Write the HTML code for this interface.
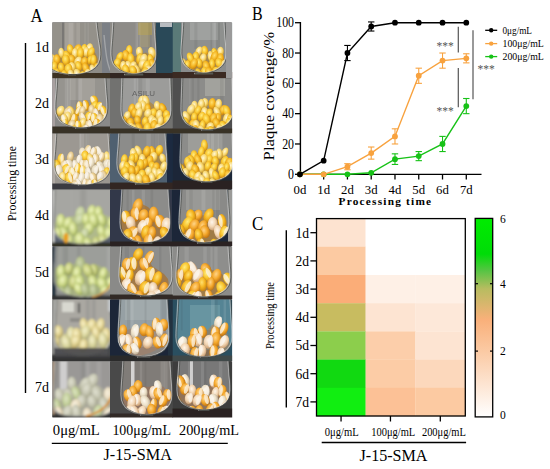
<!DOCTYPE html>
<html><head><meta charset="utf-8"><style>html,body{margin:0;padding:0;background:#fff;}svg{display:block;}</style></head>
<body><svg width="550" height="469" viewBox="0 0 550 469">
<rect width="550" height="469" fill="#fff"/>
<defs><filter id="bl" x="-5%" y="-5%" width="110%" height="110%"><feGaussianBlur stdDeviation="0.6"/></filter><filter id="bl2" x="-5%" y="-5%" width="110%" height="110%"><feGaussianBlur stdDeviation="0.8"/></filter><clipPath id="c00"><rect x="52.4" y="22.4" width="58.20" height="55.80"/></clipPath><clipPath id="c01"><rect x="110.0" y="22.4" width="63.10" height="55.80"/></clipPath><clipPath id="c02"><rect x="172.5" y="22.4" width="59.70" height="55.80"/></clipPath><clipPath id="c10"><rect x="52.4" y="78.2" width="58.20" height="55.30"/></clipPath><clipPath id="c11"><rect x="110.0" y="78.2" width="63.10" height="55.30"/></clipPath><clipPath id="c12"><rect x="172.5" y="78.2" width="59.70" height="55.30"/></clipPath><clipPath id="c20"><rect x="52.4" y="133.4" width="58.20" height="55.80"/></clipPath><clipPath id="c21"><rect x="110.0" y="133.4" width="63.10" height="55.80"/></clipPath><clipPath id="c22"><rect x="172.5" y="133.4" width="59.70" height="55.80"/></clipPath><clipPath id="c30"><rect x="52.4" y="189.6" width="58.20" height="56.40"/></clipPath><clipPath id="c31"><rect x="110.0" y="189.6" width="63.10" height="56.40"/></clipPath><clipPath id="c32"><rect x="172.5" y="189.6" width="59.70" height="56.40"/></clipPath><clipPath id="c40"><rect x="52.4" y="246.6" width="58.20" height="52.60"/></clipPath><clipPath id="c41"><rect x="110.0" y="246.6" width="63.10" height="52.60"/></clipPath><clipPath id="c42"><rect x="172.5" y="246.6" width="59.70" height="52.60"/></clipPath><clipPath id="c50"><rect x="52.4" y="299.4" width="58.20" height="61.60"/></clipPath><clipPath id="c51"><rect x="110.0" y="299.4" width="63.10" height="61.60"/></clipPath><clipPath id="c52"><rect x="172.5" y="299.4" width="59.70" height="61.60"/></clipPath><clipPath id="c60"><rect x="52.4" y="361.2" width="58.20" height="56.30"/></clipPath><clipPath id="c61"><rect x="110.0" y="361.2" width="63.10" height="56.30"/></clipPath><clipPath id="c62"><rect x="172.5" y="361.2" width="59.70" height="56.30"/></clipPath></defs>
<defs><radialGradient id="ky" cx="0.42" cy="0.38" r="0.62"><stop offset="0" stop-color="#ffec80"/><stop offset="0.55" stop-color="#f8c42c"/><stop offset="1" stop-color="#cc8a10"/></radialGradient><radialGradient id="ky2" cx="0.42" cy="0.38" r="0.62"><stop offset="0" stop-color="#ffe070"/><stop offset="0.55" stop-color="#f4b420"/><stop offset="1" stop-color="#c48010"/></radialGradient><radialGradient id="ko" cx="0.42" cy="0.38" r="0.62"><stop offset="0" stop-color="#ffd488"/><stop offset="0.55" stop-color="#f4a82c"/><stop offset="1" stop-color="#c07414"/></radialGradient><radialGradient id="kw" cx="0.42" cy="0.38" r="0.62"><stop offset="0" stop-color="#fffaf0"/><stop offset="0.55" stop-color="#ece0c8"/><stop offset="1" stop-color="#b8a890"/></radialGradient><radialGradient id="kyl" cx="0.42" cy="0.38" r="0.62"><stop offset="0" stop-color="#fff8d8"/><stop offset="0.55" stop-color="#f8d870"/><stop offset="1" stop-color="#c89828"/></radialGradient><radialGradient id="kpg" cx="0.42" cy="0.38" r="0.62"><stop offset="0" stop-color="#dce4c0"/><stop offset="0.55" stop-color="#c4d09c"/><stop offset="1" stop-color="#a0ac78"/></radialGradient><radialGradient id="kpg2" cx="0.42" cy="0.38" r="0.62"><stop offset="0" stop-color="#d0d8b0"/><stop offset="0.55" stop-color="#b4c08c"/><stop offset="1" stop-color="#94a070"/></radialGradient><radialGradient id="kpy" cx="0.42" cy="0.38" r="0.62"><stop offset="0" stop-color="#f4f0cc"/><stop offset="0.55" stop-color="#dcd8a0"/><stop offset="1" stop-color="#b0ac78"/></radialGradient><radialGradient id="kpc" cx="0.42" cy="0.38" r="0.62"><stop offset="0" stop-color="#faf2e0"/><stop offset="0.55" stop-color="#e8dcc0"/><stop offset="1" stop-color="#c0b090"/></radialGradient><radialGradient id="kgr" cx="0.42" cy="0.38" r="0.62"><stop offset="0" stop-color="#e0e0d0"/><stop offset="0.55" stop-color="#c8c8b4"/><stop offset="1" stop-color="#a8a890"/></radialGradient><radialGradient id="kgy" cx="0.42" cy="0.38" r="0.62"><stop offset="0" stop-color="#e8ecb0"/><stop offset="0.55" stop-color="#c4cc7c"/><stop offset="1" stop-color="#909a54"/></radialGradient><radialGradient id="kfy" cx="0.42" cy="0.38" r="0.62"><stop offset="0" stop-color="#faf2c8"/><stop offset="0.55" stop-color="#e2d494"/><stop offset="1" stop-color="#b4a464"/></radialGradient><radialGradient id="kyg2" cx="0.42" cy="0.38" r="0.62"><stop offset="0" stop-color="#f0f6c0"/><stop offset="0.55" stop-color="#ccd888"/><stop offset="1" stop-color="#98a858"/></radialGradient><radialGradient id="kpe" cx="0.42" cy="0.38" r="0.62"><stop offset="0" stop-color="#fff6ea"/><stop offset="0.55" stop-color="#f2d6b4"/><stop offset="1" stop-color="#c89c70"/></radialGradient><radialGradient id="kc" cx="0.42" cy="0.38" r="0.62"><stop offset="0" stop-color="#fff4d8"/><stop offset="0.55" stop-color="#e8cc90"/><stop offset="1" stop-color="#b89858"/></radialGradient><radialGradient id="kg" cx="0.42" cy="0.38" r="0.62"><stop offset="0" stop-color="#e8f0c0"/><stop offset="0.55" stop-color="#b8c880"/><stop offset="1" stop-color="#7a8850"/></radialGradient><radialGradient id="klg" cx="0.42" cy="0.38" r="0.62"><stop offset="0" stop-color="#f0f4d8"/><stop offset="0.55" stop-color="#c8d4a0"/><stop offset="1" stop-color="#8a9870"/></radialGradient><radialGradient id="kyg" cx="0.42" cy="0.38" r="0.62"><stop offset="0" stop-color="#f4f0c0"/><stop offset="0.55" stop-color="#d8d090"/><stop offset="1" stop-color="#989060"/></radialGradient></defs>
<rect x="52.4" y="22.4" width="179.2" height="394.5" fill="#555"/>
<g clip-path="url(#c00)"><g filter="url(#bl)">
<rect x="52.4" y="22.4" width="58.6" height="56.2" fill="#7c8086" opacity="1"/>
<rect x="52.0" y="22.0" width="50.0" height="56.0" fill="#8e8c86" opacity="1"/>
<path d="M50.4,73.0 L112.0,73.0 L112.0,79.6 L50.4,79.6 Z" fill="#3e3222"/>
<path d="M48.0,20.4 C45.2,48.5 44.0,42.5 44.0,54.5 Q44.0,74.5 76.0,74.5 L68.0,74.5 Q100.0,74.5 100.0,54.5 C100.0,42.5 98.8,48.5 96.0,20.4 Z" fill="#94918a"/>
<clipPath id="fl00"><path d="M48.0,20.4 C45.2,48.5 44.0,42.5 44.0,54.5 Q44.0,74.5 76.0,74.5 L68.0,74.5 Q100.0,74.5 100.0,54.5 C100.0,42.5 98.8,48.5 96.0,20.4 Z"/></clipPath>
<g clip-path="url(#fl00)">
<rect x="64.0" y="22.0" width="16.0" height="40.0" fill="#a8a49c" opacity="0.8"/>
<rect x="62.0" y="22.0" width="2.5" height="35.0" fill="#5f605e" opacity="0.5"/>
<rect x="68.6" y="22.4" width="4.3" height="42.1" fill="#ffffff" opacity="0.1"/>
<rect x="84.4" y="22.4" width="4.3" height="42.6" fill="#ffffff" opacity="0.1"/>
<rect x="74.4" y="22.4" width="1.9" height="30.0" fill="#202020" opacity="0.08"/>
<rect x="85.7" y="22.4" width="1.9" height="40.9" fill="#202020" opacity="0.08"/>
<polygon points="52.0,62.0 56.0,61.0 62.0,56.0 68.0,51.0 75.0,49.0 82.0,53.0 88.0,52.0 92.0,49.0 96.0,54.0 100.0,64.0 100.0,84.0 44.0,84.0" fill="#b88018" opacity="0.55" stroke="none" stroke-width="0"/>
<ellipse cx="89.1" cy="49.0" rx="3.8" ry="5.8" transform="rotate(19 89.1 49.0)" fill="url(#kyl)"/>
<ellipse cx="83.8" cy="49.1" rx="3.3" ry="5.2" transform="rotate(16 83.8 49.1)" fill="url(#ky)"/>
<ellipse cx="77.5" cy="49.2" rx="3.7" ry="5.3" transform="rotate(25 77.5 49.2)" fill="url(#ky2)"/>
<ellipse cx="70.4" cy="49.3" rx="3.4" ry="5.2" transform="rotate(-16 70.4 49.3)" fill="url(#ky)"/>
<ellipse cx="86.3" cy="52.2" rx="3.5" ry="5.1" transform="rotate(1 86.3 52.2)" fill="url(#kyl)"/>
<ellipse cx="90.8" cy="52.6" rx="3.6" ry="5.7" transform="rotate(22 90.8 52.6)" fill="url(#ky)"/>
<ellipse cx="61.4" cy="53.0" rx="3.1" ry="5.3" transform="rotate(-5 61.4 53.0)" fill="url(#kyl)"/>
<ellipse cx="74.9" cy="53.4" rx="3.2" ry="5.5" transform="rotate(2 74.9 53.4)" fill="url(#kyl)"/>
<ellipse cx="80.4" cy="53.4" rx="3.6" ry="5.9" transform="rotate(3 80.4 53.4)" fill="url(#ky)"/>
<ellipse cx="67.4" cy="55.9" rx="3.3" ry="5.7" transform="rotate(-28 67.4 55.9)" fill="url(#ky)"/>
<ellipse cx="71.7" cy="59.4" rx="3.9" ry="4.9" transform="rotate(-11 71.7 59.4)" fill="url(#ky2)"/>
<ellipse cx="53.6" cy="59.5" rx="3.3" ry="5.8" transform="rotate(-27 53.6 59.5)" fill="url(#kyl)"/>
<ellipse cx="56.9" cy="59.6" rx="3.7" ry="5.4" transform="rotate(-4 56.9 59.6)" fill="url(#ky2)"/>
<ellipse cx="90.2" cy="59.9" rx="3.2" ry="4.9" transform="rotate(26 90.2 59.9)" fill="url(#ky)"/>
<ellipse cx="65.9" cy="60.0" rx="3.9" ry="5.6" transform="rotate(-5 65.9 60.0)" fill="url(#ky)"/>
<ellipse cx="93.5" cy="60.3" rx="3.2" ry="5.7" transform="rotate(-0 93.5 60.3)" fill="url(#ky)"/>
<ellipse cx="77.9" cy="61.4" rx="3.7" ry="5.2" transform="rotate(26 77.9 61.4)" fill="url(#kyl)"/>
<ellipse cx="84.2" cy="61.7" rx="3.6" ry="4.8" transform="rotate(17 84.2 61.7)" fill="url(#ky2)"/>
<ellipse cx="78.8" cy="65.9" rx="3.3" ry="5.1" transform="rotate(-22 78.8 65.9)" fill="url(#ky)"/>
<ellipse cx="72.3" cy="66.7" rx="3.7" ry="4.8" transform="rotate(-16 72.3 66.7)" fill="url(#kyl)"/>
<ellipse cx="53.8" cy="67.1" rx="3.6" ry="5.6" transform="rotate(12 53.8 67.1)" fill="url(#ky)"/>
<ellipse cx="61.4" cy="67.6" rx="3.4" ry="5.2" transform="rotate(-10 61.4 67.6)" fill="url(#ky)"/>
<ellipse cx="86.0" cy="68.1" rx="3.5" ry="5.8" transform="rotate(-20 86.0 68.1)" fill="url(#ky2)"/>
<ellipse cx="97.8" cy="68.4" rx="3.5" ry="5.5" transform="rotate(-21 97.8 68.4)" fill="url(#ky)"/>
<ellipse cx="68.4" cy="69.2" rx="4.0" ry="5.8" transform="rotate(3 68.4 69.2)" fill="url(#ky)"/>
<ellipse cx="48.3" cy="69.4" rx="3.2" ry="6.0" transform="rotate(10 48.3 69.4)" fill="url(#ky2)"/>
<ellipse cx="92.6" cy="69.5" rx="3.1" ry="5.1" transform="rotate(-12 92.6 69.5)" fill="url(#kyl)"/>
<ellipse cx="56.4" cy="73.6" rx="3.4" ry="5.3" transform="rotate(6 56.4 73.6)" fill="url(#ky)"/>
<ellipse cx="87.9" cy="73.7" rx="3.5" ry="5.0" transform="rotate(-1 87.9 73.7)" fill="url(#kyl)"/>
<ellipse cx="77.5" cy="74.2" rx="3.7" ry="5.7" transform="rotate(-18 77.5 74.2)" fill="url(#kyl)"/>
<ellipse cx="71.1" cy="74.4" rx="3.2" ry="5.1" transform="rotate(-15 71.1 74.4)" fill="url(#kyl)"/>
<ellipse cx="64.6" cy="75.9" rx="3.4" ry="5.9" transform="rotate(-8 64.6 75.9)" fill="url(#ky)"/>
<ellipse cx="82.6" cy="76.4" rx="3.5" ry="5.4" transform="rotate(0 82.6 76.4)" fill="url(#ky)"/>
<ellipse cx="53.0" cy="76.4" rx="3.3" ry="5.6" transform="rotate(11 53.0 76.4)" fill="url(#kyl)"/>
<ellipse cx="94.2" cy="76.6" rx="3.8" ry="4.9" transform="rotate(-12 94.2 76.6)" fill="url(#ky)"/>
</g>
<path d="M48.0,20.4 C45.2,48.5 44.0,42.5 44.0,54.5 Q44.0,74.5 76.0,74.5 L68.0,74.5 Q100.0,74.5 100.0,54.5 C100.0,42.5 98.8,48.5 96.0,20.4 Z" fill="none" stroke="#e4e4e4" stroke-width="1.3" opacity="0.55"/>
<path d="M48.0,20.4 C45.2,48.5 44.0,42.5 44.0,54.5 Q44.0,74.5 76.0,74.5 L68.0,74.5 Q100.0,74.5 100.0,54.5 C100.0,42.5 98.8,48.5 96.0,20.4 Z" fill="none" stroke="#3a3e3a" stroke-width="1.0" opacity="0.6" transform="translate(0.9,0.3)"/>
<path d="M104,35 C106,55 107,65 112,74" fill="none" stroke="#c8c8c8" stroke-width="1.4" opacity="0.5"/>
</g></g>
<g clip-path="url(#c01)"><g filter="url(#bl)">
<rect x="110.0" y="22.4" width="63.5" height="56.2" fill="#2a4858" opacity="1"/>
<rect x="110.0" y="22.0" width="46.0" height="56.0" fill="#8c8a86" opacity="1"/>
<rect x="160.0" y="22.0" width="12.0" height="5.0" fill="#b8bcc0" opacity="1"/>
<path d="M108.0,73.0 L174.5,73.0 L174.5,79.6 L108.0,79.6 Z" fill="#302820"/>
<path d="M113.0,20.4 C111.6,48.5 111.0,42.5 111.0,54.5 Q111.0,74.5 143.0,74.5 L124.0,74.5 Q156.0,74.5 156.0,54.5 C156.0,42.5 155.4,48.5 154.0,20.4 Z" fill="#8e8c88"/>
<clipPath id="fl01"><path d="M113.0,20.4 C111.6,48.5 111.0,42.5 111.0,54.5 Q111.0,74.5 143.0,74.5 L124.0,74.5 Q156.0,74.5 156.0,54.5 C156.0,42.5 155.4,48.5 154.0,20.4 Z"/></clipPath>
<g clip-path="url(#fl01)">
<rect x="138.0" y="22.0" width="14.0" height="13.0" fill="#c0a850" opacity="0.6"/>
<rect x="140.0" y="35.0" width="10.0" height="12.0" fill="#b0a070" opacity="0.45"/>
<rect x="135.5" y="22.4" width="2.6" height="39.6" fill="#ffffff" opacity="0.1"/>
<rect x="148.3" y="22.4" width="3.3" height="41.6" fill="#202020" opacity="0.08"/>
<rect x="137.0" y="22.4" width="3.4" height="29.2" fill="#ffffff" opacity="0.1"/>
<rect x="137.5" y="22.4" width="1.8" height="35.1" fill="#202020" opacity="0.08"/>
<polygon points="111.0,64.5 115.0,60.5 122.0,55.5 128.0,52.5 133.0,56.5 140.0,54.5 146.0,52.5 152.0,56.5 156.0,62.5 158.0,84.0 108.0,84.0" fill="#b88018" opacity="0.55" stroke="none" stroke-width="0"/>
<ellipse cx="129.2" cy="50.7" rx="3.3" ry="5.7" transform="rotate(2 129.2 50.7)" fill="url(#ky)"/>
<ellipse cx="139.4" cy="52.1" rx="3.5" ry="5.4" transform="rotate(-2 139.4 52.1)" fill="url(#kyl)"/>
<ellipse cx="152.1" cy="52.7" rx="3.8" ry="5.9" transform="rotate(-15 152.1 52.7)" fill="url(#kyl)"/>
<ellipse cx="126.0" cy="55.8" rx="3.9" ry="5.9" transform="rotate(-9 126.0 55.8)" fill="url(#ky2)"/>
<ellipse cx="119.7" cy="57.0" rx="3.3" ry="5.3" transform="rotate(24 119.7 57.0)" fill="url(#ky)"/>
<ellipse cx="139.5" cy="58.7" rx="3.2" ry="5.7" transform="rotate(14 139.5 58.7)" fill="url(#ky)"/>
<ellipse cx="130.9" cy="59.1" rx="3.7" ry="6.0" transform="rotate(-5 130.9 59.1)" fill="url(#ky)"/>
<ellipse cx="150.5" cy="59.4" rx="3.2" ry="5.5" transform="rotate(-9 150.5 59.4)" fill="url(#ky)"/>
<ellipse cx="143.3" cy="59.5" rx="3.9" ry="5.9" transform="rotate(21 143.3 59.5)" fill="url(#kyl)"/>
<ellipse cx="117.0" cy="63.6" rx="3.7" ry="5.7" transform="rotate(17 117.0 63.6)" fill="url(#ky)"/>
<ellipse cx="152.5" cy="64.1" rx="3.5" ry="5.5" transform="rotate(-22 152.5 64.1)" fill="url(#ky2)"/>
<ellipse cx="142.4" cy="64.4" rx="3.9" ry="5.1" transform="rotate(20 142.4 64.4)" fill="url(#kyl)"/>
<ellipse cx="127.9" cy="65.7" rx="3.8" ry="4.9" transform="rotate(1 127.9 65.7)" fill="url(#kyl)"/>
<ellipse cx="123.1" cy="65.8" rx="3.1" ry="4.9" transform="rotate(6 123.1 65.8)" fill="url(#kyl)"/>
<ellipse cx="146.5" cy="65.9" rx="3.7" ry="5.5" transform="rotate(22 146.5 65.9)" fill="url(#ky)"/>
<ellipse cx="133.0" cy="66.2" rx="3.6" ry="5.1" transform="rotate(20 133.0 66.2)" fill="url(#kyl)"/>
<ellipse cx="136.7" cy="69.6" rx="3.3" ry="5.3" transform="rotate(-26 136.7 69.6)" fill="url(#kyl)"/>
<ellipse cx="126.0" cy="69.6" rx="3.6" ry="5.3" transform="rotate(-18 126.0 69.6)" fill="url(#ky)"/>
<ellipse cx="149.4" cy="69.7" rx="3.6" ry="4.9" transform="rotate(-27 149.4 69.7)" fill="url(#kyl)"/>
<ellipse cx="111.7" cy="70.2" rx="3.6" ry="5.0" transform="rotate(-6 111.7 70.2)" fill="url(#ky2)"/>
<ellipse cx="117.6" cy="70.2" rx="3.6" ry="5.9" transform="rotate(-13 117.6 70.2)" fill="url(#ky)"/>
<ellipse cx="133.2" cy="70.2" rx="3.6" ry="4.9" transform="rotate(-24 133.2 70.2)" fill="url(#ky)"/>
<ellipse cx="154.7" cy="72.4" rx="3.9" ry="5.2" transform="rotate(22 154.7 72.4)" fill="url(#kyl)"/>
<ellipse cx="145.0" cy="73.0" rx="4.0" ry="5.7" transform="rotate(17 145.0 73.0)" fill="url(#ky)"/>
<ellipse cx="122.9" cy="76.3" rx="3.9" ry="5.9" transform="rotate(-2 122.9 76.3)" fill="url(#ky)"/>
<ellipse cx="145.6" cy="76.8" rx="3.8" ry="5.0" transform="rotate(27 145.6 76.8)" fill="url(#kyl)"/>
<ellipse cx="129.5" cy="77.9" rx="3.7" ry="5.6" transform="rotate(6 129.5 77.9)" fill="url(#ky)"/>
<ellipse cx="109.3" cy="78.7" rx="3.3" ry="5.8" transform="rotate(10 109.3 78.7)" fill="url(#ky)"/>
<ellipse cx="141.7" cy="78.8" rx="3.9" ry="4.8" transform="rotate(23 141.7 78.8)" fill="url(#ky2)"/>
<ellipse cx="133.4" cy="79.7" rx="3.3" ry="5.1" transform="rotate(25 133.4 79.7)" fill="url(#ky)"/>
<ellipse cx="114.2" cy="79.8" rx="3.7" ry="5.7" transform="rotate(-16 114.2 79.8)" fill="url(#ky)"/>
<ellipse cx="152.2" cy="80.0" rx="3.5" ry="5.1" transform="rotate(-2 152.2 80.0)" fill="url(#ky)"/>
</g>
<path d="M113.0,20.4 C111.6,48.5 111.0,42.5 111.0,54.5 Q111.0,74.5 143.0,74.5 L124.0,74.5 Q156.0,74.5 156.0,54.5 C156.0,42.5 155.4,48.5 154.0,20.4 Z" fill="none" stroke="#e4e4e4" stroke-width="1.3" opacity="0.55"/>
<path d="M113.0,20.4 C111.6,48.5 111.0,42.5 111.0,54.5 Q111.0,74.5 143.0,74.5 L124.0,74.5 Q156.0,74.5 156.0,54.5 C156.0,42.5 155.4,48.5 154.0,20.4 Z" fill="none" stroke="#3a3e3a" stroke-width="1.0" opacity="0.6" transform="translate(0.9,0.3)"/>
</g></g>
<g clip-path="url(#c02)"><g filter="url(#bl)">
<rect x="172.5" y="22.4" width="60.1" height="56.2" fill="#5a7a78" opacity="1"/>
<rect x="181.0" y="22.0" width="51.0" height="56.0" fill="#8a8c8c" opacity="1"/>
<path d="M170.5,72.0 L233.6,72.0 L233.6,79.6 L170.5,79.6 Z" fill="#3a2c20"/>
<path d="M183.0,20.4 C181.6,48.0 181.0,41.5 181.0,53.5 Q181.0,73.5 213.0,73.5 L194.0,73.5 Q226.0,73.5 226.0,53.5 C226.0,41.5 225.4,48.0 224.0,20.4 Z" fill="#8e908e"/>
<clipPath id="fl02"><path d="M183.0,20.4 C181.6,48.0 181.0,41.5 181.0,53.5 Q181.0,73.5 213.0,73.5 L194.0,73.5 Q226.0,73.5 226.0,53.5 C226.0,41.5 225.4,48.0 224.0,20.4 Z"/></clipPath>
<g clip-path="url(#fl02)">
<rect x="190.0" y="22.0" width="28.0" height="18.0" fill="#a6a8a6" opacity="0.7"/>
<rect x="210.5" y="22.4" width="3.0" height="37.1" fill="#202020" opacity="0.08"/>
<rect x="215.8" y="22.4" width="4.2" height="25.6" fill="#202020" opacity="0.08"/>
<rect x="194.4" y="22.4" width="3.0" height="26.6" fill="#202020" opacity="0.08"/>
<rect x="212.1" y="22.4" width="4.1" height="25.9" fill="#ffffff" opacity="0.1"/>
<polygon points="182.0,63.0 186.0,60.0 192.0,57.0 198.0,53.0 205.0,54.0 210.0,58.0 216.0,56.0 221.0,54.0 225.0,61.0 228.0,84.0 180.0,84.0" fill="#b88018" opacity="0.55" stroke="none" stroke-width="0"/>
<ellipse cx="204.8" cy="50.8" rx="3.5" ry="5.0" transform="rotate(-11 204.8 50.8)" fill="url(#ky)"/>
<ellipse cx="198.7" cy="51.6" rx="3.3" ry="5.4" transform="rotate(23 198.7 51.6)" fill="url(#kyl)"/>
<ellipse cx="220.5" cy="51.8" rx="3.4" ry="5.0" transform="rotate(4 220.5 51.8)" fill="url(#kyl)"/>
<ellipse cx="214.6" cy="52.8" rx="3.1" ry="5.0" transform="rotate(-15 214.6 52.8)" fill="url(#ky)"/>
<ellipse cx="210.8" cy="56.5" rx="3.1" ry="5.6" transform="rotate(-9 210.8 56.5)" fill="url(#kyl)"/>
<ellipse cx="214.5" cy="56.9" rx="3.8" ry="6.0" transform="rotate(21 214.5 56.9)" fill="url(#ky2)"/>
<ellipse cx="195.6" cy="57.4" rx="3.6" ry="5.6" transform="rotate(8 195.6 57.4)" fill="url(#ky)"/>
<ellipse cx="190.7" cy="58.0" rx="3.4" ry="5.8" transform="rotate(-26 190.7 58.0)" fill="url(#ky)"/>
<ellipse cx="203.1" cy="58.1" rx="3.5" ry="4.8" transform="rotate(15 203.1 58.1)" fill="url(#kyl)"/>
<ellipse cx="220.4" cy="58.9" rx="3.6" ry="5.7" transform="rotate(5 220.4 58.9)" fill="url(#ky2)"/>
<ellipse cx="219.4" cy="63.0" rx="4.0" ry="5.2" transform="rotate(-20 219.4 63.0)" fill="url(#ky)"/>
<ellipse cx="199.4" cy="63.3" rx="3.3" ry="5.1" transform="rotate(-10 199.4 63.3)" fill="url(#ky)"/>
<ellipse cx="183.1" cy="63.6" rx="3.6" ry="5.4" transform="rotate(-13 183.1 63.6)" fill="url(#kyl)"/>
<ellipse cx="193.6" cy="64.1" rx="3.8" ry="6.0" transform="rotate(24 193.6 64.1)" fill="url(#ky2)"/>
<ellipse cx="212.1" cy="64.4" rx="3.1" ry="5.8" transform="rotate(-1 212.1 64.4)" fill="url(#ky)"/>
<ellipse cx="225.6" cy="65.3" rx="3.8" ry="5.8" transform="rotate(-23 225.6 65.3)" fill="url(#kyl)"/>
<ellipse cx="187.0" cy="65.3" rx="3.2" ry="5.2" transform="rotate(13 187.0 65.3)" fill="url(#ky)"/>
<ellipse cx="206.6" cy="66.4" rx="3.8" ry="5.8" transform="rotate(-17 206.6 66.4)" fill="url(#ky2)"/>
<ellipse cx="221.9" cy="71.5" rx="3.3" ry="5.6" transform="rotate(-28 221.9 71.5)" fill="url(#ky)"/>
<ellipse cx="215.8" cy="71.6" rx="3.9" ry="5.0" transform="rotate(12 215.8 71.6)" fill="url(#ky)"/>
<ellipse cx="204.9" cy="71.8" rx="3.8" ry="4.9" transform="rotate(-15 204.9 71.8)" fill="url(#ky)"/>
<ellipse cx="209.1" cy="72.4" rx="4.0" ry="5.4" transform="rotate(-15 209.1 72.4)" fill="url(#ky2)"/>
<ellipse cx="185.8" cy="72.8" rx="3.7" ry="5.0" transform="rotate(5 185.8 72.8)" fill="url(#ky)"/>
<ellipse cx="189.6" cy="72.9" rx="3.9" ry="5.3" transform="rotate(-7 189.6 72.9)" fill="url(#ky2)"/>
<ellipse cx="198.8" cy="73.6" rx="3.2" ry="5.6" transform="rotate(-21 198.8 73.6)" fill="url(#ky)"/>
<ellipse cx="217.9" cy="77.6" rx="3.5" ry="5.4" transform="rotate(13 217.9 77.6)" fill="url(#ky)"/>
<ellipse cx="212.3" cy="77.9" rx="3.8" ry="4.9" transform="rotate(22 212.3 77.9)" fill="url(#ky)"/>
<ellipse cx="189.2" cy="78.2" rx="3.9" ry="5.7" transform="rotate(-5 189.2 78.2)" fill="url(#ky)"/>
<ellipse cx="226.3" cy="79.2" rx="4.0" ry="5.3" transform="rotate(-21 226.3 79.2)" fill="url(#ky2)"/>
<ellipse cx="208.1" cy="79.6" rx="3.9" ry="5.4" transform="rotate(14 208.1 79.6)" fill="url(#ky2)"/>
<ellipse cx="182.1" cy="79.8" rx="3.4" ry="5.7" transform="rotate(-21 182.1 79.8)" fill="url(#ky2)"/>
</g>
<path d="M183.0,20.4 C181.6,48.0 181.0,41.5 181.0,53.5 Q181.0,73.5 213.0,73.5 L194.0,73.5 Q226.0,73.5 226.0,53.5 C226.0,41.5 225.4,48.0 224.0,20.4 Z" fill="none" stroke="#e4e4e4" stroke-width="1.3" opacity="0.55"/>
<path d="M183.0,20.4 C181.6,48.0 181.0,41.5 181.0,53.5 Q181.0,73.5 213.0,73.5 L194.0,73.5 Q226.0,73.5 226.0,53.5 C226.0,41.5 225.4,48.0 224.0,20.4 Z" fill="none" stroke="#3a3e3a" stroke-width="1.0" opacity="0.6" transform="translate(0.9,0.3)"/>
<rect x="226.0" y="22.0" width="6.0" height="56.0" fill="#9a9a9a" opacity="1"/>
</g></g>
<g clip-path="url(#c10)"><g filter="url(#bl)">
<rect x="52.4" y="78.2" width="58.6" height="55.7" fill="#8a8a88" opacity="1"/>
<rect x="52.0" y="78.0" width="3.0" height="55.0" fill="#a8a0a0" opacity="1"/>
<path d="M50.4,126.5 L112.0,126.5 L112.0,134.9 L50.4,134.9 Z" fill="#383028"/>
<path d="M57.0,76.2 C55.6,103.1 55.0,96.0 55.0,108.0 Q55.0,128.0 87.0,128.0 L75.0,128.0 Q107.0,128.0 107.0,108.0 C107.0,96.0 106.4,103.1 105.0,76.2 Z" fill="#96948f"/>
<clipPath id="fl10"><path d="M57.0,76.2 C55.6,103.1 55.0,96.0 55.0,108.0 Q55.0,128.0 87.0,128.0 L75.0,128.0 Q107.0,128.0 107.0,108.0 C107.0,96.0 106.4,103.1 105.0,76.2 Z"/></clipPath>
<g clip-path="url(#fl10)">
<rect x="70.0" y="78.0" width="25.0" height="22.0" fill="#a6a29c" opacity="0.8"/>
<rect x="64.8" y="78.2" width="3.0" height="35.8" fill="#ffffff" opacity="0.1"/>
<rect x="77.8" y="78.2" width="4.4" height="42.4" fill="#ffffff" opacity="0.1"/>
<rect x="67.0" y="78.2" width="3.8" height="37.0" fill="#ffffff" opacity="0.1"/>
<rect x="75.7" y="78.2" width="3.0" height="34.8" fill="#202020" opacity="0.08"/>
<polygon points="55.0,120.0 60.0,115.0 66.0,112.0 72.0,110.0 78.0,109.0 84.0,107.0 90.0,105.0 94.0,100.0 98.0,102.0 102.0,108.0 106.0,114.0 108.0,139.0 52.0,139.0" fill="#c0a060" opacity="0.55" stroke="none" stroke-width="0"/>
<ellipse cx="94.2" cy="100.3" rx="3.9" ry="4.9" transform="rotate(-20 94.2 100.3)" fill="url(#ky)"/>
<ellipse cx="92.8" cy="99.8" rx="1.8" ry="4.2" transform="rotate(-20 94.2 100.3)" fill="#fbf6ee" opacity="0.75"/>
<ellipse cx="86.0" cy="105.3" rx="3.4" ry="5.5" transform="rotate(-13 86.0 105.3)" fill="url(#ky2)"/>
<ellipse cx="84.8" cy="104.8" rx="1.5" ry="4.6" transform="rotate(-13 86.0 105.3)" fill="#fbf6ee" opacity="0.75"/>
<ellipse cx="94.6" cy="106.1" rx="3.7" ry="5.2" transform="rotate(16 94.6 106.1)" fill="url(#ky)"/>
<ellipse cx="98.6" cy="106.6" rx="3.2" ry="5.0" transform="rotate(24 98.6 106.6)" fill="url(#ky)"/>
<ellipse cx="99.7" cy="106.1" rx="1.4" ry="4.3" transform="rotate(24 98.6 106.6)" fill="#fbf6ee" opacity="0.75"/>
<ellipse cx="79.4" cy="106.9" rx="3.3" ry="5.7" transform="rotate(4 79.4 106.9)" fill="url(#ky)"/>
<ellipse cx="78.3" cy="106.4" rx="1.5" ry="4.8" transform="rotate(4 79.4 106.9)" fill="#fbf6ee" opacity="0.75"/>
<ellipse cx="91.5" cy="109.8" rx="3.2" ry="5.2" transform="rotate(0 91.5 109.8)" fill="url(#kc)"/>
<ellipse cx="103.7" cy="110.8" rx="3.4" ry="5.5" transform="rotate(-20 103.7 110.8)" fill="url(#ky)"/>
<ellipse cx="102.5" cy="110.3" rx="1.5" ry="4.7" transform="rotate(-20 103.7 110.8)" fill="#fbf6ee" opacity="0.75"/>
<ellipse cx="79.1" cy="110.9" rx="3.6" ry="5.6" transform="rotate(28 79.1 110.9)" fill="url(#ky)"/>
<ellipse cx="77.8" cy="110.4" rx="1.6" ry="4.7" transform="rotate(28 79.1 110.9)" fill="#fbf6ee" opacity="0.75"/>
<ellipse cx="82.1" cy="110.9" rx="3.2" ry="5.0" transform="rotate(20 82.1 110.9)" fill="url(#kc)"/>
<ellipse cx="60.3" cy="111.0" rx="3.9" ry="5.5" transform="rotate(27 60.3 111.0)" fill="url(#kyl)"/>
<ellipse cx="70.8" cy="111.3" rx="3.8" ry="5.6" transform="rotate(-26 70.8 111.3)" fill="url(#kyl)"/>
<ellipse cx="95.7" cy="113.0" rx="3.2" ry="5.0" transform="rotate(-19 95.7 113.0)" fill="url(#kc)"/>
<ellipse cx="96.8" cy="112.5" rx="1.4" ry="4.2" transform="rotate(-19 95.7 113.0)" fill="#fbf6ee" opacity="0.75"/>
<ellipse cx="67.5" cy="113.4" rx="3.9" ry="5.8" transform="rotate(6 67.5 113.4)" fill="url(#kc)"/>
<ellipse cx="68.9" cy="112.9" rx="1.8" ry="4.9" transform="rotate(6 67.5 113.4)" fill="#fbf6ee" opacity="0.75"/>
<ellipse cx="88.1" cy="116.4" rx="3.2" ry="4.8" transform="rotate(20 88.1 116.4)" fill="url(#ky)"/>
<ellipse cx="89.2" cy="115.9" rx="1.4" ry="4.1" transform="rotate(20 88.1 116.4)" fill="#fbf6ee" opacity="0.75"/>
<ellipse cx="67.3" cy="117.1" rx="3.8" ry="5.7" transform="rotate(9 67.3 117.1)" fill="url(#kyl)"/>
<ellipse cx="82.5" cy="117.5" rx="3.2" ry="5.3" transform="rotate(-26 82.5 117.5)" fill="url(#kc)"/>
<ellipse cx="83.6" cy="117.0" rx="1.4" ry="4.5" transform="rotate(-26 82.5 117.5)" fill="#fbf6ee" opacity="0.75"/>
<ellipse cx="106.2" cy="118.1" rx="3.8" ry="4.9" transform="rotate(11 106.2 118.1)" fill="url(#ky)"/>
<ellipse cx="104.9" cy="117.6" rx="1.7" ry="4.2" transform="rotate(11 106.2 118.1)" fill="#fbf6ee" opacity="0.75"/>
<ellipse cx="94.1" cy="118.3" rx="3.8" ry="5.2" transform="rotate(-0 94.1 118.3)" fill="url(#ky)"/>
<ellipse cx="92.8" cy="117.8" rx="1.7" ry="4.4" transform="rotate(-0 94.1 118.3)" fill="#fbf6ee" opacity="0.75"/>
<ellipse cx="55.5" cy="118.5" rx="3.4" ry="5.5" transform="rotate(-21 55.5 118.5)" fill="url(#kc)"/>
<ellipse cx="56.7" cy="118.0" rx="1.5" ry="4.7" transform="rotate(-21 55.5 118.5)" fill="#fbf6ee" opacity="0.75"/>
<ellipse cx="64.5" cy="119.0" rx="3.5" ry="5.2" transform="rotate(-11 64.5 119.0)" fill="url(#kyl)"/>
<ellipse cx="63.3" cy="118.5" rx="1.6" ry="4.4" transform="rotate(-11 64.5 119.0)" fill="#fbf6ee" opacity="0.75"/>
<ellipse cx="99.8" cy="119.3" rx="3.9" ry="5.5" transform="rotate(-2 99.8 119.3)" fill="url(#kc)"/>
<ellipse cx="74.0" cy="119.8" rx="3.7" ry="5.9" transform="rotate(15 74.0 119.8)" fill="url(#ky2)"/>
<ellipse cx="72.7" cy="119.2" rx="1.7" ry="5.0" transform="rotate(15 74.0 119.8)" fill="#fbf6ee" opacity="0.75"/>
<ellipse cx="82.5" cy="123.1" rx="3.3" ry="5.5" transform="rotate(18 82.5 123.1)" fill="url(#kyl)"/>
<ellipse cx="96.5" cy="123.8" rx="3.9" ry="5.2" transform="rotate(9 96.5 123.8)" fill="url(#ky2)"/>
<ellipse cx="95.2" cy="123.3" rx="1.8" ry="4.4" transform="rotate(9 96.5 123.8)" fill="#fbf6ee" opacity="0.75"/>
<ellipse cx="59.6" cy="123.9" rx="3.5" ry="5.3" transform="rotate(-19 59.6 123.9)" fill="url(#kc)"/>
<ellipse cx="106.6" cy="124.7" rx="3.3" ry="5.2" transform="rotate(2 106.6 124.7)" fill="url(#ky2)"/>
<ellipse cx="105.4" cy="124.2" rx="1.5" ry="4.4" transform="rotate(2 106.6 124.7)" fill="#fbf6ee" opacity="0.75"/>
<ellipse cx="64.1" cy="124.8" rx="3.7" ry="5.8" transform="rotate(19 64.1 124.8)" fill="url(#ky)"/>
<ellipse cx="62.8" cy="124.2" rx="1.7" ry="4.9" transform="rotate(19 64.1 124.8)" fill="#fbf6ee" opacity="0.75"/>
<ellipse cx="89.0" cy="125.0" rx="3.7" ry="5.0" transform="rotate(-11 89.0 125.0)" fill="url(#kc)"/>
<ellipse cx="90.2" cy="124.5" rx="1.6" ry="4.3" transform="rotate(-11 89.0 125.0)" fill="#fbf6ee" opacity="0.75"/>
<ellipse cx="71.6" cy="125.1" rx="3.7" ry="5.5" transform="rotate(18 71.6 125.1)" fill="url(#kc)"/>
<ellipse cx="78.0" cy="125.4" rx="3.4" ry="4.9" transform="rotate(4 78.0 125.4)" fill="url(#ky)"/>
<ellipse cx="76.8" cy="124.9" rx="1.5" ry="4.1" transform="rotate(4 78.0 125.4)" fill="#fbf6ee" opacity="0.75"/>
<ellipse cx="100.5" cy="125.9" rx="3.9" ry="5.2" transform="rotate(23 100.5 125.9)" fill="url(#ky2)"/>
<ellipse cx="99.2" cy="125.3" rx="1.7" ry="4.4" transform="rotate(23 100.5 125.9)" fill="#fbf6ee" opacity="0.75"/>
<ellipse cx="73.4" cy="130.0" rx="3.2" ry="4.9" transform="rotate(19 73.4 130.0)" fill="url(#ky)"/>
<ellipse cx="85.8" cy="130.0" rx="3.9" ry="5.5" transform="rotate(-15 85.8 130.0)" fill="url(#kc)"/>
<ellipse cx="87.1" cy="129.5" rx="1.8" ry="4.7" transform="rotate(-15 85.8 130.0)" fill="#fbf6ee" opacity="0.75"/>
<ellipse cx="94.5" cy="130.5" rx="3.5" ry="5.2" transform="rotate(-11 94.5 130.5)" fill="url(#kc)"/>
<ellipse cx="98.5" cy="130.6" rx="3.1" ry="5.1" transform="rotate(-15 98.5 130.6)" fill="url(#ky)"/>
<ellipse cx="99.5" cy="130.1" rx="1.4" ry="4.4" transform="rotate(-15 98.5 130.6)" fill="#fbf6ee" opacity="0.75"/>
<ellipse cx="56.0" cy="131.6" rx="3.8" ry="5.2" transform="rotate(7 56.0 131.6)" fill="url(#kc)"/>
<ellipse cx="57.3" cy="131.1" rx="1.7" ry="4.4" transform="rotate(7 56.0 131.6)" fill="#fbf6ee" opacity="0.75"/>
<ellipse cx="104.7" cy="131.7" rx="3.7" ry="4.9" transform="rotate(6 104.7 131.7)" fill="url(#kc)"/>
<ellipse cx="103.3" cy="131.2" rx="1.7" ry="4.1" transform="rotate(6 104.7 131.7)" fill="#fbf6ee" opacity="0.75"/>
<ellipse cx="64.3" cy="131.8" rx="3.7" ry="6.0" transform="rotate(12 64.3 131.8)" fill="url(#kc)"/>
<ellipse cx="69.0" cy="131.9" rx="3.9" ry="5.2" transform="rotate(11 69.0 131.9)" fill="url(#kyl)"/>
<ellipse cx="82.6" cy="132.3" rx="4.0" ry="4.9" transform="rotate(-8 82.6 132.3)" fill="url(#kyl)"/>
<ellipse cx="84.0" cy="131.9" rx="1.8" ry="4.2" transform="rotate(-8 82.6 132.3)" fill="#fbf6ee" opacity="0.75"/>
</g>
<path d="M57.0,76.2 C55.6,103.1 55.0,96.0 55.0,108.0 Q55.0,128.0 87.0,128.0 L75.0,128.0 Q107.0,128.0 107.0,108.0 C107.0,96.0 106.4,103.1 105.0,76.2 Z" fill="none" stroke="#e4e4e4" stroke-width="1.3" opacity="0.55"/>
<path d="M57.0,76.2 C55.6,103.1 55.0,96.0 55.0,108.0 Q55.0,128.0 87.0,128.0 L75.0,128.0 Q107.0,128.0 107.0,108.0 C107.0,96.0 106.4,103.1 105.0,76.2 Z" fill="none" stroke="#3a3e3a" stroke-width="1.0" opacity="0.6" transform="translate(0.9,0.3)"/>
</g></g>
<g clip-path="url(#c11)"><g filter="url(#bl)">
<rect x="110.0" y="78.2" width="63.5" height="55.7" fill="#727270" opacity="1"/>
<path d="M108.0,128.5 L174.5,128.5 L174.5,134.9 L108.0,134.9 Z" fill="#383028"/>
<path d="M122.0,76.2 C121.3,104.1 121.0,98.0 121.0,110.0 Q121.0,130.0 153.0,130.0 L139.0,130.0 Q171.0,130.0 171.0,110.0 C171.0,98.0 170.7,104.1 170.0,76.2 Z" fill="#9c9c9a"/>
<clipPath id="fl11"><path d="M122.0,76.2 C121.3,104.1 121.0,98.0 121.0,110.0 Q121.0,130.0 153.0,130.0 L139.0,130.0 Q171.0,130.0 171.0,110.0 C171.0,98.0 170.7,104.1 170.0,76.2 Z"/></clipPath>
<g clip-path="url(#fl11)">
<rect x="145.7" y="78.2" width="4.2" height="32.3" fill="#ffffff" opacity="0.1"/>
<rect x="136.8" y="78.2" width="1.7" height="32.0" fill="#ffffff" opacity="0.1"/>
<rect x="133.7" y="78.2" width="2.2" height="26.9" fill="#ffffff" opacity="0.1"/>
<rect x="137.9" y="78.2" width="4.3" height="38.4" fill="#202020" opacity="0.08"/>
<polygon points="122.0,120.0 127.0,113.0 134.0,108.0 138.0,105.0 144.0,104.0 150.0,102.0 154.0,105.0 158.0,107.0 164.0,109.0 168.0,114.0 172.0,121.0 172.0,139.0 120.0,139.0" fill="#b88018" opacity="0.55" stroke="none" stroke-width="0"/>
<ellipse cx="141.8" cy="100.6" rx="3.7" ry="5.2" transform="rotate(16 141.8 100.6)" fill="url(#kyl)"/>
<ellipse cx="145.8" cy="101.0" rx="3.7" ry="6.0" transform="rotate(-14 145.8 101.0)" fill="url(#kyl)"/>
<ellipse cx="157.3" cy="105.9" rx="3.3" ry="4.9" transform="rotate(-9 157.3 105.9)" fill="url(#kyl)"/>
<ellipse cx="143.1" cy="106.1" rx="3.8" ry="5.7" transform="rotate(-7 143.1 106.1)" fill="url(#kyl)"/>
<ellipse cx="138.2" cy="107.2" rx="3.7" ry="5.4" transform="rotate(19 138.2 107.2)" fill="url(#kyl)"/>
<ellipse cx="162.8" cy="108.1" rx="3.5" ry="5.3" transform="rotate(-26 162.8 108.1)" fill="url(#ky2)"/>
<ellipse cx="147.8" cy="108.4" rx="3.2" ry="4.9" transform="rotate(-6 147.8 108.4)" fill="url(#ky2)"/>
<ellipse cx="131.5" cy="109.0" rx="3.4" ry="5.6" transform="rotate(18 131.5 109.0)" fill="url(#ky2)"/>
<ellipse cx="134.4" cy="112.9" rx="3.3" ry="4.9" transform="rotate(3 134.4 112.9)" fill="url(#ky2)"/>
<ellipse cx="153.3" cy="113.1" rx="3.6" ry="4.9" transform="rotate(14 153.3 113.1)" fill="url(#ky)"/>
<ellipse cx="138.9" cy="113.6" rx="3.5" ry="5.9" transform="rotate(17 138.9 113.6)" fill="url(#kyl)"/>
<ellipse cx="148.0" cy="113.7" rx="3.9" ry="5.0" transform="rotate(13 148.0 113.7)" fill="url(#kyl)"/>
<ellipse cx="166.4" cy="114.9" rx="3.6" ry="4.8" transform="rotate(6 166.4 114.9)" fill="url(#ky)"/>
<ellipse cx="159.1" cy="115.1" rx="3.4" ry="5.4" transform="rotate(10 159.1 115.1)" fill="url(#kyl)"/>
<ellipse cx="127.1" cy="115.9" rx="3.3" ry="4.9" transform="rotate(20 127.1 115.9)" fill="url(#kyl)"/>
<ellipse cx="167.3" cy="119.7" rx="3.7" ry="5.5" transform="rotate(20 167.3 119.7)" fill="url(#ky)"/>
<ellipse cx="137.6" cy="120.3" rx="3.4" ry="4.8" transform="rotate(-9 137.6 120.3)" fill="url(#ky2)"/>
<ellipse cx="151.5" cy="120.6" rx="3.9" ry="5.5" transform="rotate(4 151.5 120.6)" fill="url(#kyl)"/>
<ellipse cx="160.2" cy="121.2" rx="3.2" ry="5.5" transform="rotate(10 160.2 121.2)" fill="url(#kyl)"/>
<ellipse cx="145.2" cy="121.7" rx="3.4" ry="5.0" transform="rotate(7 145.2 121.7)" fill="url(#ky)"/>
<ellipse cx="154.6" cy="122.1" rx="3.5" ry="4.9" transform="rotate(-8 154.6 122.1)" fill="url(#kyl)"/>
<ellipse cx="123.4" cy="122.3" rx="3.6" ry="5.8" transform="rotate(11 123.4 122.3)" fill="url(#ky2)"/>
<ellipse cx="130.4" cy="122.8" rx="3.9" ry="5.0" transform="rotate(-3 130.4 122.8)" fill="url(#ky2)"/>
<ellipse cx="153.8" cy="125.9" rx="3.8" ry="5.9" transform="rotate(10 153.8 125.9)" fill="url(#ky2)"/>
<ellipse cx="120.9" cy="126.2" rx="3.8" ry="6.0" transform="rotate(-1 120.9 126.2)" fill="url(#kyl)"/>
<ellipse cx="129.8" cy="127.5" rx="3.8" ry="5.1" transform="rotate(26 129.8 127.5)" fill="url(#kyl)"/>
<ellipse cx="165.3" cy="128.0" rx="3.4" ry="5.1" transform="rotate(-26 165.3 128.0)" fill="url(#ky2)"/>
<ellipse cx="147.4" cy="128.1" rx="3.9" ry="5.6" transform="rotate(8 147.4 128.1)" fill="url(#ky)"/>
<ellipse cx="139.0" cy="128.3" rx="3.9" ry="5.7" transform="rotate(-20 139.0 128.3)" fill="url(#ky2)"/>
<ellipse cx="158.5" cy="128.4" rx="4.0" ry="4.9" transform="rotate(-1 158.5 128.4)" fill="url(#kyl)"/>
<ellipse cx="170.4" cy="128.5" rx="3.3" ry="5.1" transform="rotate(25 170.4 128.5)" fill="url(#kyl)"/>
<ellipse cx="134.0" cy="129.6" rx="4.0" ry="5.5" transform="rotate(-13 134.0 129.6)" fill="url(#kyl)"/>
<ellipse cx="160.2" cy="132.9" rx="3.2" ry="5.5" transform="rotate(-24 160.2 132.9)" fill="url(#kyl)"/>
<ellipse cx="124.4" cy="133.4" rx="3.2" ry="5.6" transform="rotate(14 124.4 133.4)" fill="url(#ky2)"/>
<ellipse cx="167.1" cy="134.0" rx="3.4" ry="5.8" transform="rotate(-12 167.1 134.0)" fill="url(#ky)"/>
</g>
<path d="M122.0,76.2 C121.3,104.1 121.0,98.0 121.0,110.0 Q121.0,130.0 153.0,130.0 L139.0,130.0 Q171.0,130.0 171.0,110.0 C171.0,98.0 170.7,104.1 170.0,76.2 Z" fill="none" stroke="#e4e4e4" stroke-width="1.3" opacity="0.55"/>
<path d="M122.0,76.2 C121.3,104.1 121.0,98.0 121.0,110.0 Q121.0,130.0 153.0,130.0 L139.0,130.0 Q171.0,130.0 171.0,110.0 C171.0,98.0 170.7,104.1 170.0,76.2 Z" fill="none" stroke="#3a3e3a" stroke-width="1.0" opacity="0.6" transform="translate(0.9,0.3)"/>
<text x="132" y="96" font-family="Liberation Sans" font-size="8" fill="#4a4a4a" opacity="0.7">ASILU</text>
</g></g>
<g clip-path="url(#c12)"><g filter="url(#bl)">
<rect x="172.5" y="78.2" width="60.1" height="55.7" fill="#505050" opacity="1"/>
<path d="M170.5,128.5 L233.6,128.5 L233.6,134.9 L170.5,134.9 Z" fill="#383028"/>
<path d="M182.0,76.2 C181.3,104.1 181.0,98.0 181.0,110.0 Q181.0,130.0 213.0,130.0 L201.0,130.0 Q233.0,130.0 233.0,110.0 C233.0,98.0 232.7,104.1 232.0,76.2 Z" fill="#8c8c8a"/>
<clipPath id="fl12"><path d="M182.0,76.2 C181.3,104.1 181.0,98.0 181.0,110.0 Q181.0,130.0 213.0,130.0 L201.0,130.0 Q233.0,130.0 233.0,110.0 C233.0,98.0 232.7,104.1 232.0,76.2 Z"/></clipPath>
<g clip-path="url(#fl12)">
<rect x="205.0" y="78.0" width="20.0" height="18.0" fill="#b8b8b0" opacity="0.5"/>
<rect x="189.0" y="78.2" width="2.6" height="26.1" fill="#ffffff" opacity="0.1"/>
<rect x="220.1" y="78.2" width="3.4" height="32.7" fill="#202020" opacity="0.08"/>
<rect x="189.5" y="78.2" width="4.4" height="45.3" fill="#202020" opacity="0.08"/>
<rect x="197.3" y="78.2" width="2.0" height="38.1" fill="#202020" opacity="0.08"/>
<polygon points="182.0,122.0 186.0,115.0 192.0,110.0 198.0,107.0 204.0,106.0 210.0,108.0 216.0,106.0 222.0,109.0 228.0,111.0 232.0,116.0 232.0,139.0 180.0,139.0" fill="#b88018" opacity="0.55" stroke="none" stroke-width="0"/>
<ellipse cx="204.8" cy="103.1" rx="3.7" ry="5.0" transform="rotate(7 204.8 103.1)" fill="url(#kyl)"/>
<ellipse cx="212.3" cy="103.8" rx="3.9" ry="5.8" transform="rotate(4 212.3 103.8)" fill="url(#ky2)"/>
<ellipse cx="201.4" cy="104.1" rx="3.5" ry="5.0" transform="rotate(3 201.4 104.1)" fill="url(#kyl)"/>
<ellipse cx="218.6" cy="104.4" rx="3.5" ry="5.5" transform="rotate(6 218.6 104.4)" fill="url(#kyl)"/>
<ellipse cx="194.7" cy="105.9" rx="3.4" ry="5.2" transform="rotate(-5 194.7 105.9)" fill="url(#kyl)"/>
<ellipse cx="190.9" cy="109.8" rx="3.7" ry="5.9" transform="rotate(26 190.9 109.8)" fill="url(#kyl)"/>
<ellipse cx="222.8" cy="110.2" rx="3.6" ry="5.4" transform="rotate(25 222.8 110.2)" fill="url(#ky2)"/>
<ellipse cx="197.6" cy="110.9" rx="3.2" ry="5.4" transform="rotate(25 197.6 110.9)" fill="url(#ky)"/>
<ellipse cx="226.9" cy="111.0" rx="3.7" ry="6.0" transform="rotate(-21 226.9 111.0)" fill="url(#ky)"/>
<ellipse cx="217.4" cy="112.0" rx="3.3" ry="5.9" transform="rotate(-27 217.4 112.0)" fill="url(#kyl)"/>
<ellipse cx="204.8" cy="112.3" rx="3.7" ry="5.2" transform="rotate(-5 204.8 112.3)" fill="url(#kyl)"/>
<ellipse cx="209.5" cy="113.3" rx="3.3" ry="4.8" transform="rotate(8 209.5 113.3)" fill="url(#ky)"/>
<ellipse cx="186.2" cy="116.3" rx="3.7" ry="5.5" transform="rotate(-25 186.2 116.3)" fill="url(#kyl)"/>
<ellipse cx="201.5" cy="116.6" rx="3.5" ry="5.0" transform="rotate(24 201.5 116.6)" fill="url(#ky)"/>
<ellipse cx="194.3" cy="117.4" rx="3.3" ry="5.2" transform="rotate(4 194.3 117.4)" fill="url(#ky)"/>
<ellipse cx="217.5" cy="118.1" rx="3.8" ry="5.1" transform="rotate(15 217.5 118.1)" fill="url(#ky2)"/>
<ellipse cx="213.0" cy="118.6" rx="3.7" ry="5.8" transform="rotate(22 213.0 118.6)" fill="url(#ky2)"/>
<ellipse cx="226.5" cy="118.9" rx="3.5" ry="5.8" transform="rotate(13 226.5 118.9)" fill="url(#kyl)"/>
<ellipse cx="206.7" cy="119.2" rx="3.8" ry="5.6" transform="rotate(-16 206.7 119.2)" fill="url(#ky)"/>
<ellipse cx="229.9" cy="119.7" rx="3.1" ry="5.1" transform="rotate(1 229.9 119.7)" fill="url(#ky)"/>
<ellipse cx="185.2" cy="123.0" rx="4.0" ry="5.9" transform="rotate(-10 185.2 123.0)" fill="url(#ky)"/>
<ellipse cx="216.7" cy="123.0" rx="3.6" ry="5.4" transform="rotate(-25 216.7 123.0)" fill="url(#ky2)"/>
<ellipse cx="229.1" cy="123.2" rx="3.2" ry="5.4" transform="rotate(-13 229.1 123.2)" fill="url(#ky)"/>
<ellipse cx="192.1" cy="124.3" rx="3.4" ry="5.4" transform="rotate(24 192.1 124.3)" fill="url(#ky2)"/>
<ellipse cx="196.4" cy="125.0" rx="3.7" ry="5.2" transform="rotate(-14 196.4 125.0)" fill="url(#kyl)"/>
<ellipse cx="202.5" cy="125.6" rx="3.1" ry="5.6" transform="rotate(5 202.5 125.6)" fill="url(#ky)"/>
<ellipse cx="223.5" cy="126.1" rx="3.8" ry="5.7" transform="rotate(-26 223.5 126.1)" fill="url(#ky)"/>
<ellipse cx="210.0" cy="126.8" rx="3.8" ry="4.8" transform="rotate(26 210.0 126.8)" fill="url(#kyl)"/>
<ellipse cx="219.7" cy="130.0" rx="3.5" ry="5.7" transform="rotate(-10 219.7 130.0)" fill="url(#kyl)"/>
<ellipse cx="225.9" cy="130.2" rx="4.0" ry="5.6" transform="rotate(14 225.9 130.2)" fill="url(#ky)"/>
<ellipse cx="194.9" cy="130.3" rx="3.3" ry="5.1" transform="rotate(11 194.9 130.3)" fill="url(#ky2)"/>
<ellipse cx="201.6" cy="130.8" rx="3.4" ry="5.7" transform="rotate(-15 201.6 130.8)" fill="url(#kyl)"/>
<ellipse cx="211.0" cy="130.9" rx="3.8" ry="5.0" transform="rotate(-26 211.0 130.9)" fill="url(#ky)"/>
<ellipse cx="181.5" cy="132.3" rx="3.5" ry="5.3" transform="rotate(23 181.5 132.3)" fill="url(#kyl)"/>
<ellipse cx="206.3" cy="133.0" rx="3.8" ry="5.5" transform="rotate(7 206.3 133.0)" fill="url(#ky)"/>
<ellipse cx="189.6" cy="133.5" rx="3.4" ry="5.1" transform="rotate(1 189.6 133.5)" fill="url(#kyl)"/>
</g>
<path d="M182.0,76.2 C181.3,104.1 181.0,98.0 181.0,110.0 Q181.0,130.0 213.0,130.0 L201.0,130.0 Q233.0,130.0 233.0,110.0 C233.0,98.0 232.7,104.1 232.0,76.2 Z" fill="none" stroke="#e4e4e4" stroke-width="1.3" opacity="0.55"/>
<path d="M182.0,76.2 C181.3,104.1 181.0,98.0 181.0,110.0 Q181.0,130.0 213.0,130.0 L201.0,130.0 Q233.0,130.0 233.0,110.0 C233.0,98.0 232.7,104.1 232.0,76.2 Z" fill="none" stroke="#3a3e3a" stroke-width="1.0" opacity="0.6" transform="translate(0.9,0.3)"/>
</g></g>
<g clip-path="url(#c20)"><g filter="url(#bl)">
<rect x="52.4" y="133.4" width="58.6" height="56.2" fill="#9a9690" opacity="1"/>
<rect x="52.0" y="133.0" width="3.0" height="56.0" fill="#b0aaa4" opacity="1"/>
<path d="M50.4,183.5 L112.0,183.5 L112.0,190.6 L50.4,190.6 Z" fill="#3a3a40"/>
<path d="M56.0,131.4 C54.6,159.2 54.0,153.0 54.0,165.0 Q54.0,185.0 86.0,185.0 L78.0,185.0 Q110.0,185.0 110.0,165.0 C110.0,153.0 109.4,159.2 108.0,131.4 Z" fill="#9c9892"/>
<clipPath id="fl20"><path d="M56.0,131.4 C54.6,159.2 54.0,153.0 54.0,165.0 Q54.0,185.0 86.0,185.0 L78.0,185.0 Q110.0,185.0 110.0,165.0 C110.0,153.0 109.4,159.2 108.0,131.4 Z"/></clipPath>
<g clip-path="url(#fl20)">
<rect x="86.5" y="133.4" width="2.0" height="45.3" fill="#202020" opacity="0.08"/>
<rect x="79.8" y="133.4" width="4.3" height="38.5" fill="#ffffff" opacity="0.1"/>
<rect x="79.1" y="133.4" width="2.2" height="39.6" fill="#ffffff" opacity="0.1"/>
<rect x="85.8" y="133.4" width="2.9" height="39.6" fill="#ffffff" opacity="0.1"/>
<polygon points="55.0,166.0 62.0,162.0 70.0,159.0 75.0,157.0 82.0,154.0 88.0,151.0 92.0,148.0 96.0,146.0 100.0,150.0 104.0,156.0 108.0,162.0 111.0,172.0 111.0,194.0 52.0,194.0" fill="#c8b080" opacity="0.55" stroke="none" stroke-width="0"/>
<ellipse cx="87.7" cy="150.7" rx="3.4" ry="5.8" transform="rotate(12 87.7 150.7)" fill="url(#kc)"/>
<ellipse cx="88.9" cy="150.1" rx="1.5" ry="4.9" transform="rotate(12 87.7 150.7)" fill="#fbf6ee" opacity="0.75"/>
<ellipse cx="98.2" cy="151.8" rx="3.6" ry="5.9" transform="rotate(-23 98.2 151.8)" fill="url(#kpc)"/>
<ellipse cx="99.5" cy="151.3" rx="1.6" ry="5.0" transform="rotate(-23 98.2 151.8)" fill="#fbf6ee" opacity="0.75"/>
<ellipse cx="93.4" cy="152.3" rx="3.5" ry="5.2" transform="rotate(19 93.4 152.3)" fill="url(#kc)"/>
<ellipse cx="92.1" cy="151.7" rx="1.6" ry="4.4" transform="rotate(19 93.4 152.3)" fill="#fbf6ee" opacity="0.75"/>
<ellipse cx="82.4" cy="152.4" rx="3.4" ry="5.0" transform="rotate(1 82.4 152.4)" fill="url(#kpc)"/>
<ellipse cx="85.2" cy="156.1" rx="3.9" ry="5.6" transform="rotate(-3 85.2 156.1)" fill="url(#ky)"/>
<ellipse cx="106.9" cy="157.1" rx="3.4" ry="5.8" transform="rotate(-3 106.9 157.1)" fill="url(#kyl)"/>
<ellipse cx="70.3" cy="157.1" rx="3.4" ry="5.7" transform="rotate(12 70.3 157.1)" fill="url(#kc)"/>
<ellipse cx="101.4" cy="157.4" rx="3.3" ry="5.3" transform="rotate(21 101.4 157.4)" fill="url(#kc)"/>
<ellipse cx="100.2" cy="156.9" rx="1.5" ry="4.5" transform="rotate(21 101.4 157.4)" fill="#fbf6ee" opacity="0.75"/>
<ellipse cx="95.9" cy="158.9" rx="3.6" ry="5.3" transform="rotate(-4 95.9 158.9)" fill="url(#kc)"/>
<ellipse cx="94.7" cy="158.4" rx="1.6" ry="4.5" transform="rotate(-4 95.9 158.9)" fill="#fbf6ee" opacity="0.75"/>
<ellipse cx="90.4" cy="159.2" rx="3.3" ry="5.7" transform="rotate(-13 90.4 159.2)" fill="url(#kyl)"/>
<ellipse cx="60.9" cy="159.3" rx="3.5" ry="5.7" transform="rotate(3 60.9 159.3)" fill="url(#ky)"/>
<ellipse cx="62.1" cy="158.7" rx="1.6" ry="4.9" transform="rotate(3 60.9 159.3)" fill="#fbf6ee" opacity="0.75"/>
<ellipse cx="79.3" cy="159.6" rx="3.1" ry="5.1" transform="rotate(13 79.3 159.6)" fill="url(#kpc)"/>
<ellipse cx="78.2" cy="159.1" rx="1.4" ry="4.3" transform="rotate(13 79.3 159.6)" fill="#fbf6ee" opacity="0.75"/>
<ellipse cx="91.4" cy="162.8" rx="3.2" ry="5.6" transform="rotate(6 91.4 162.8)" fill="url(#kpc)"/>
<ellipse cx="90.3" cy="162.2" rx="1.4" ry="4.7" transform="rotate(6 91.4 162.8)" fill="#fbf6ee" opacity="0.75"/>
<ellipse cx="106.5" cy="164.5" rx="3.6" ry="5.5" transform="rotate(9 106.5 164.5)" fill="url(#kpc)"/>
<ellipse cx="107.7" cy="163.9" rx="1.6" ry="4.6" transform="rotate(9 106.5 164.5)" fill="#fbf6ee" opacity="0.75"/>
<ellipse cx="69.3" cy="164.7" rx="3.9" ry="5.4" transform="rotate(-14 69.3 164.7)" fill="url(#kpc)"/>
<ellipse cx="67.9" cy="164.2" rx="1.8" ry="4.6" transform="rotate(-14 69.3 164.7)" fill="#fbf6ee" opacity="0.75"/>
<ellipse cx="56.9" cy="164.7" rx="3.8" ry="5.3" transform="rotate(-24 56.9 164.7)" fill="url(#ky)"/>
<ellipse cx="82.5" cy="165.0" rx="3.5" ry="5.3" transform="rotate(5 82.5 165.0)" fill="url(#kc)"/>
<ellipse cx="81.3" cy="164.4" rx="1.6" ry="4.5" transform="rotate(5 82.5 165.0)" fill="#fbf6ee" opacity="0.75"/>
<ellipse cx="86.0" cy="165.2" rx="3.4" ry="5.6" transform="rotate(-8 86.0 165.2)" fill="url(#kc)"/>
<ellipse cx="87.2" cy="164.6" rx="1.5" ry="4.8" transform="rotate(-8 86.0 165.2)" fill="#fbf6ee" opacity="0.75"/>
<ellipse cx="110.0" cy="165.3" rx="3.3" ry="5.7" transform="rotate(3 110.0 165.3)" fill="url(#kpc)"/>
<ellipse cx="75.4" cy="165.4" rx="3.1" ry="5.5" transform="rotate(-7 75.4 165.4)" fill="url(#kpc)"/>
<ellipse cx="74.3" cy="164.8" rx="1.4" ry="4.7" transform="rotate(-7 75.4 165.4)" fill="#fbf6ee" opacity="0.75"/>
<ellipse cx="64.0" cy="165.5" rx="3.7" ry="5.2" transform="rotate(-1 64.0 165.5)" fill="url(#kc)"/>
<ellipse cx="65.3" cy="165.0" rx="1.7" ry="4.4" transform="rotate(-1 64.0 165.5)" fill="#fbf6ee" opacity="0.75"/>
<ellipse cx="100.4" cy="165.9" rx="3.5" ry="5.2" transform="rotate(-26 100.4 165.9)" fill="url(#kpc)"/>
<ellipse cx="99.2" cy="165.4" rx="1.6" ry="4.4" transform="rotate(-26 100.4 165.9)" fill="#fbf6ee" opacity="0.75"/>
<ellipse cx="77.6" cy="169.1" rx="3.4" ry="5.8" transform="rotate(11 77.6 169.1)" fill="url(#ky)"/>
<ellipse cx="76.4" cy="168.5" rx="1.5" ry="5.0" transform="rotate(11 77.6 169.1)" fill="#fbf6ee" opacity="0.75"/>
<ellipse cx="65.6" cy="169.4" rx="4.0" ry="5.6" transform="rotate(27 65.6 169.4)" fill="url(#ky)"/>
<ellipse cx="67.0" cy="168.8" rx="1.8" ry="4.7" transform="rotate(27 65.6 169.4)" fill="#fbf6ee" opacity="0.75"/>
<ellipse cx="102.0" cy="170.0" rx="3.4" ry="5.8" transform="rotate(-17 102.0 170.0)" fill="url(#kpc)"/>
<ellipse cx="100.8" cy="169.4" rx="1.5" ry="4.9" transform="rotate(-17 102.0 170.0)" fill="#fbf6ee" opacity="0.75"/>
<ellipse cx="94.9" cy="170.1" rx="3.5" ry="5.3" transform="rotate(14 94.9 170.1)" fill="url(#kpc)"/>
<ellipse cx="96.1" cy="169.6" rx="1.6" ry="4.5" transform="rotate(14 94.9 170.1)" fill="#fbf6ee" opacity="0.75"/>
<ellipse cx="59.0" cy="170.3" rx="3.9" ry="5.7" transform="rotate(-6 59.0 170.3)" fill="url(#kpc)"/>
<ellipse cx="57.7" cy="169.8" rx="1.7" ry="4.8" transform="rotate(-6 59.0 170.3)" fill="#fbf6ee" opacity="0.75"/>
<ellipse cx="82.6" cy="171.1" rx="3.3" ry="5.5" transform="rotate(5 82.6 171.1)" fill="url(#kyl)"/>
<ellipse cx="81.4" cy="170.6" rx="1.5" ry="4.7" transform="rotate(5 82.6 171.1)" fill="#fbf6ee" opacity="0.75"/>
<ellipse cx="106.8" cy="172.1" rx="3.5" ry="4.9" transform="rotate(5 106.8 172.1)" fill="url(#ky)"/>
<ellipse cx="72.0" cy="172.4" rx="3.5" ry="5.3" transform="rotate(-17 72.0 172.4)" fill="url(#kyl)"/>
<ellipse cx="73.2" cy="171.9" rx="1.6" ry="4.5" transform="rotate(-17 72.0 172.4)" fill="#fbf6ee" opacity="0.75"/>
<ellipse cx="88.2" cy="172.6" rx="3.1" ry="5.8" transform="rotate(-14 88.2 172.6)" fill="url(#kpc)"/>
<ellipse cx="89.3" cy="172.0" rx="1.4" ry="5.0" transform="rotate(-14 88.2 172.6)" fill="#fbf6ee" opacity="0.75"/>
<ellipse cx="103.7" cy="175.9" rx="3.8" ry="5.7" transform="rotate(-17 103.7 175.9)" fill="url(#kc)"/>
<ellipse cx="100.3" cy="176.6" rx="3.8" ry="4.9" transform="rotate(22 100.3 176.6)" fill="url(#kpc)"/>
<ellipse cx="99.0" cy="176.1" rx="1.7" ry="4.1" transform="rotate(22 100.3 176.6)" fill="#fbf6ee" opacity="0.75"/>
<ellipse cx="62.7" cy="177.1" rx="3.7" ry="5.2" transform="rotate(-3 62.7 177.1)" fill="url(#kyl)"/>
<ellipse cx="86.5" cy="177.3" rx="3.5" ry="5.8" transform="rotate(22 86.5 177.3)" fill="url(#kpc)"/>
<ellipse cx="85.3" cy="176.7" rx="1.6" ry="4.9" transform="rotate(22 86.5 177.3)" fill="#fbf6ee" opacity="0.75"/>
<ellipse cx="75.6" cy="177.4" rx="3.4" ry="5.5" transform="rotate(23 75.6 177.4)" fill="url(#kc)"/>
<ellipse cx="74.4" cy="176.9" rx="1.6" ry="4.7" transform="rotate(23 75.6 177.4)" fill="#fbf6ee" opacity="0.75"/>
<ellipse cx="93.2" cy="177.6" rx="3.9" ry="5.1" transform="rotate(-17 93.2 177.6)" fill="url(#kc)"/>
<ellipse cx="91.9" cy="177.1" rx="1.7" ry="4.3" transform="rotate(-17 93.2 177.6)" fill="#fbf6ee" opacity="0.75"/>
<ellipse cx="81.4" cy="178.1" rx="3.4" ry="5.7" transform="rotate(15 81.4 178.1)" fill="url(#kpc)"/>
<ellipse cx="80.2" cy="177.5" rx="1.6" ry="4.8" transform="rotate(15 81.4 178.1)" fill="#fbf6ee" opacity="0.75"/>
<ellipse cx="69.3" cy="178.6" rx="3.7" ry="6.0" transform="rotate(-17 69.3 178.6)" fill="url(#ky)"/>
<ellipse cx="70.6" cy="178.0" rx="1.7" ry="5.1" transform="rotate(-17 69.3 178.6)" fill="#fbf6ee" opacity="0.75"/>
<ellipse cx="55.9" cy="179.5" rx="3.7" ry="5.8" transform="rotate(3 55.9 179.5)" fill="url(#kc)"/>
<ellipse cx="78.0" cy="183.6" rx="3.3" ry="5.4" transform="rotate(-24 78.0 183.6)" fill="url(#kpc)"/>
<ellipse cx="79.1" cy="183.1" rx="1.5" ry="4.6" transform="rotate(-24 78.0 183.6)" fill="#fbf6ee" opacity="0.75"/>
<ellipse cx="107.8" cy="183.8" rx="3.2" ry="5.5" transform="rotate(-8 107.8 183.8)" fill="url(#kpc)"/>
<ellipse cx="85.0" cy="183.8" rx="3.2" ry="5.3" transform="rotate(8 85.0 183.8)" fill="url(#kc)"/>
<ellipse cx="83.9" cy="183.3" rx="1.4" ry="4.5" transform="rotate(8 85.0 183.8)" fill="#fbf6ee" opacity="0.75"/>
<ellipse cx="95.1" cy="184.0" rx="3.1" ry="4.9" transform="rotate(-25 95.1 184.0)" fill="url(#ky)"/>
<ellipse cx="96.2" cy="183.5" rx="1.4" ry="4.2" transform="rotate(-25 95.1 184.0)" fill="#fbf6ee" opacity="0.75"/>
<ellipse cx="88.7" cy="184.1" rx="3.2" ry="4.9" transform="rotate(4 88.7 184.1)" fill="url(#kc)"/>
<ellipse cx="89.8" cy="183.6" rx="1.5" ry="4.2" transform="rotate(4 88.7 184.1)" fill="#fbf6ee" opacity="0.75"/>
<ellipse cx="101.5" cy="184.2" rx="3.7" ry="5.5" transform="rotate(-5 101.5 184.2)" fill="url(#kyl)"/>
<ellipse cx="59.5" cy="185.2" rx="3.5" ry="5.9" transform="rotate(-5 59.5 185.2)" fill="url(#kc)"/>
<ellipse cx="73.5" cy="185.6" rx="3.2" ry="5.8" transform="rotate(27 73.5 185.6)" fill="url(#kc)"/>
<ellipse cx="74.7" cy="185.0" rx="1.4" ry="4.9" transform="rotate(27 73.5 185.6)" fill="#fbf6ee" opacity="0.75"/>
<ellipse cx="54.0" cy="185.8" rx="3.5" ry="5.1" transform="rotate(9 54.0 185.8)" fill="url(#kc)"/>
<ellipse cx="55.2" cy="185.3" rx="1.6" ry="4.3" transform="rotate(9 54.0 185.8)" fill="#fbf6ee" opacity="0.75"/>
<ellipse cx="66.7" cy="186.2" rx="3.5" ry="4.9" transform="rotate(0 66.7 186.2)" fill="url(#kpc)"/>
</g>
<path d="M56.0,131.4 C54.6,159.2 54.0,153.0 54.0,165.0 Q54.0,185.0 86.0,185.0 L78.0,185.0 Q110.0,185.0 110.0,165.0 C110.0,153.0 109.4,159.2 108.0,131.4 Z" fill="none" stroke="#e4e4e4" stroke-width="1.3" opacity="0.55"/>
<path d="M56.0,131.4 C54.6,159.2 54.0,153.0 54.0,165.0 Q54.0,185.0 86.0,185.0 L78.0,185.0 Q110.0,185.0 110.0,165.0 C110.0,153.0 109.4,159.2 108.0,131.4 Z" fill="none" stroke="#3a3e3a" stroke-width="1.0" opacity="0.6" transform="translate(0.9,0.3)"/>
</g></g>
<g clip-path="url(#c21)"><g filter="url(#bl)">
<rect x="110.0" y="133.4" width="63.5" height="56.2" fill="#506070" opacity="1"/>
<rect x="167.0" y="133.0" width="9.0" height="56.0" fill="#1a2a40" opacity="1"/>
<path d="M108.0,182.5 L174.5,182.5 L174.5,190.6 L108.0,190.6 Z" fill="#302820"/>
<path d="M119.0,131.4 C117.6,158.7 117.0,152.0 117.0,164.0 Q117.0,184.0 149.0,184.0 L135.0,184.0 Q167.0,184.0 167.0,164.0 C167.0,152.0 166.4,158.7 165.0,131.4 Z" fill="#8c8c8a"/>
<clipPath id="fl21"><path d="M119.0,131.4 C117.6,158.7 117.0,152.0 117.0,164.0 Q117.0,184.0 149.0,184.0 L135.0,184.0 Q167.0,184.0 167.0,164.0 C167.0,152.0 166.4,158.7 165.0,131.4 Z"/></clipPath>
<g clip-path="url(#fl21)">
<rect x="154.5" y="133.4" width="4.1" height="30.3" fill="#ffffff" opacity="0.1"/>
<rect x="146.4" y="133.4" width="4.4" height="26.6" fill="#ffffff" opacity="0.1"/>
<rect x="131.8" y="133.4" width="2.9" height="28.6" fill="#202020" opacity="0.08"/>
<rect x="154.2" y="133.4" width="3.7" height="36.4" fill="#202020" opacity="0.08"/>
<polygon points="118.0,172.0 122.0,165.0 126.0,160.0 130.0,156.0 138.0,152.0 145.0,149.0 150.0,151.0 158.0,147.0 161.0,153.0 166.0,161.0 168.0,172.0 168.0,194.0 116.0,194.0" fill="#b88018" opacity="0.55" stroke="none" stroke-width="0"/>
<ellipse cx="159.2" cy="150.4" rx="3.8" ry="5.6" transform="rotate(14 159.2 150.4)" fill="url(#ky)"/>
<ellipse cx="138.4" cy="150.9" rx="3.4" ry="5.7" transform="rotate(-26 138.4 150.9)" fill="url(#kyl)"/>
<ellipse cx="152.2" cy="151.7" rx="3.5" ry="5.8" transform="rotate(-12 152.2 151.7)" fill="url(#ky2)"/>
<ellipse cx="146.8" cy="151.8" rx="3.9" ry="6.0" transform="rotate(12 146.8 151.8)" fill="url(#ky2)"/>
<ellipse cx="133.4" cy="153.8" rx="3.6" ry="5.8" transform="rotate(-6 133.4 153.8)" fill="url(#kyl)"/>
<ellipse cx="153.5" cy="157.1" rx="4.0" ry="5.2" transform="rotate(12 153.5 157.1)" fill="url(#kyl)"/>
<ellipse cx="135.5" cy="157.8" rx="3.2" ry="5.1" transform="rotate(5 135.5 157.8)" fill="url(#ky)"/>
<ellipse cx="162.7" cy="158.2" rx="3.2" ry="4.9" transform="rotate(-14 162.7 158.2)" fill="url(#kyl)"/>
<ellipse cx="131.8" cy="158.7" rx="3.3" ry="5.4" transform="rotate(14 131.8 158.7)" fill="url(#ky)"/>
<ellipse cx="142.3" cy="159.6" rx="3.6" ry="5.8" transform="rotate(-3 142.3 159.6)" fill="url(#kyl)"/>
<ellipse cx="124.3" cy="159.6" rx="3.4" ry="5.5" transform="rotate(8 124.3 159.6)" fill="url(#ky)"/>
<ellipse cx="149.5" cy="160.8" rx="3.7" ry="5.5" transform="rotate(18 149.5 160.8)" fill="url(#ky2)"/>
<ellipse cx="144.1" cy="164.0" rx="3.5" ry="5.6" transform="rotate(23 144.1 164.0)" fill="url(#ky2)"/>
<ellipse cx="140.6" cy="164.7" rx="3.8" ry="5.8" transform="rotate(0 140.6 164.7)" fill="url(#ky)"/>
<ellipse cx="131.8" cy="165.5" rx="3.4" ry="6.0" transform="rotate(-19 131.8 165.5)" fill="url(#kyl)"/>
<ellipse cx="122.6" cy="165.7" rx="3.3" ry="5.2" transform="rotate(16 122.6 165.7)" fill="url(#kyl)"/>
<ellipse cx="152.7" cy="166.1" rx="3.6" ry="5.0" transform="rotate(-21 152.7 166.1)" fill="url(#ky)"/>
<ellipse cx="127.4" cy="166.8" rx="3.5" ry="5.4" transform="rotate(-19 127.4 166.8)" fill="url(#ky)"/>
<ellipse cx="163.4" cy="166.9" rx="3.2" ry="5.8" transform="rotate(19 163.4 166.9)" fill="url(#kyl)"/>
<ellipse cx="156.3" cy="167.0" rx="3.8" ry="4.8" transform="rotate(-1 156.3 167.0)" fill="url(#ky2)"/>
<ellipse cx="136.1" cy="170.9" rx="3.2" ry="6.0" transform="rotate(25 136.1 170.9)" fill="url(#ky2)"/>
<ellipse cx="131.8" cy="170.9" rx="3.7" ry="5.6" transform="rotate(-8 131.8 170.9)" fill="url(#ky2)"/>
<ellipse cx="124.7" cy="171.5" rx="3.9" ry="5.0" transform="rotate(10 124.7 171.5)" fill="url(#ky)"/>
<ellipse cx="148.2" cy="171.7" rx="3.8" ry="5.2" transform="rotate(21 148.2 171.7)" fill="url(#kyl)"/>
<ellipse cx="155.3" cy="172.8" rx="3.2" ry="5.7" transform="rotate(-16 155.3 172.8)" fill="url(#kyl)"/>
<ellipse cx="167.6" cy="172.9" rx="3.4" ry="5.7" transform="rotate(21 167.6 172.9)" fill="url(#kyl)"/>
<ellipse cx="160.5" cy="174.0" rx="3.8" ry="5.8" transform="rotate(-21 160.5 174.0)" fill="url(#kyl)"/>
<ellipse cx="142.2" cy="174.7" rx="3.9" ry="5.3" transform="rotate(0 142.2 174.7)" fill="url(#ky)"/>
<ellipse cx="125.9" cy="177.7" rx="3.7" ry="5.4" transform="rotate(20 125.9 177.7)" fill="url(#kyl)"/>
<ellipse cx="152.1" cy="177.8" rx="3.3" ry="5.6" transform="rotate(-11 152.1 177.8)" fill="url(#kyl)"/>
<ellipse cx="133.3" cy="178.2" rx="3.7" ry="5.1" transform="rotate(-25 133.3 178.2)" fill="url(#kyl)"/>
<ellipse cx="159.8" cy="178.3" rx="3.2" ry="5.5" transform="rotate(16 159.8 178.3)" fill="url(#ky)"/>
<ellipse cx="139.3" cy="178.5" rx="3.4" ry="5.0" transform="rotate(-15 139.3 178.5)" fill="url(#kyl)"/>
<ellipse cx="119.7" cy="178.9" rx="3.9" ry="5.1" transform="rotate(13 119.7 178.9)" fill="url(#ky2)"/>
<ellipse cx="146.2" cy="179.8" rx="3.9" ry="5.4" transform="rotate(-21 146.2 179.8)" fill="url(#ky2)"/>
<ellipse cx="163.4" cy="180.5" rx="3.7" ry="5.8" transform="rotate(19 163.4 180.5)" fill="url(#ky)"/>
<ellipse cx="116.8" cy="184.5" rx="3.2" ry="5.5" transform="rotate(10 116.8 184.5)" fill="url(#kyl)"/>
<ellipse cx="123.2" cy="184.7" rx="3.9" ry="5.7" transform="rotate(27 123.2 184.7)" fill="url(#ky)"/>
<ellipse cx="129.9" cy="184.7" rx="3.9" ry="5.1" transform="rotate(-14 129.9 184.7)" fill="url(#ky)"/>
<ellipse cx="156.3" cy="184.9" rx="3.2" ry="5.6" transform="rotate(5 156.3 184.9)" fill="url(#kyl)"/>
<ellipse cx="166.7" cy="184.9" rx="3.7" ry="5.5" transform="rotate(-2 166.7 184.9)" fill="url(#kyl)"/>
<ellipse cx="162.8" cy="185.1" rx="3.7" ry="5.9" transform="rotate(-14 162.8 185.1)" fill="url(#ky)"/>
<ellipse cx="135.2" cy="186.5" rx="3.4" ry="5.6" transform="rotate(21 135.2 186.5)" fill="url(#ky)"/>
<ellipse cx="149.8" cy="187.4" rx="3.7" ry="5.8" transform="rotate(25 149.8 187.4)" fill="url(#ky)"/>
<ellipse cx="140.9" cy="187.6" rx="3.8" ry="5.1" transform="rotate(1 140.9 187.6)" fill="url(#kyl)"/>
</g>
<path d="M119.0,131.4 C117.6,158.7 117.0,152.0 117.0,164.0 Q117.0,184.0 149.0,184.0 L135.0,184.0 Q167.0,184.0 167.0,164.0 C167.0,152.0 166.4,158.7 165.0,131.4 Z" fill="none" stroke="#e4e4e4" stroke-width="1.3" opacity="0.55"/>
<path d="M119.0,131.4 C117.6,158.7 117.0,152.0 117.0,164.0 Q117.0,184.0 149.0,184.0 L135.0,184.0 Q167.0,184.0 167.0,164.0 C167.0,152.0 166.4,158.7 165.0,131.4 Z" fill="none" stroke="#3a3e3a" stroke-width="1.0" opacity="0.6" transform="translate(0.9,0.3)"/>
</g></g>
<g clip-path="url(#c22)"><g filter="url(#bl)">
<rect x="172.5" y="133.4" width="60.1" height="56.2" fill="#1a2838" opacity="1"/>
<path d="M170.5,180.5 L233.6,180.5 L233.6,190.6 L170.5,190.6 Z" fill="#2c2420"/>
<path d="M181.0,131.4 C180.3,157.7 180.0,150.0 180.0,162.0 Q180.0,182.0 212.0,182.0 L201.0,182.0 Q233.0,182.0 233.0,162.0 C233.0,150.0 232.7,157.7 232.0,131.4 Z" fill="#8c8c8a"/>
<clipPath id="fl22"><path d="M181.0,131.4 C180.3,157.7 180.0,150.0 180.0,162.0 Q180.0,182.0 212.0,182.0 L201.0,182.0 Q233.0,182.0 233.0,162.0 C233.0,150.0 232.7,157.7 232.0,131.4 Z"/></clipPath>
<g clip-path="url(#fl22)">
<rect x="188.0" y="133.0" width="35.0" height="20.0" fill="#a4a4a0" opacity="0.7"/>
<rect x="206.9" y="133.4" width="2.8" height="25.5" fill="#ffffff" opacity="0.1"/>
<rect x="217.7" y="133.4" width="4.4" height="36.6" fill="#ffffff" opacity="0.1"/>
<rect x="218.9" y="133.4" width="4.1" height="30.3" fill="#202020" opacity="0.08"/>
<rect x="210.9" y="133.4" width="3.1" height="25.0" fill="#ffffff" opacity="0.1"/>
<polygon points="182.0,165.0 186.0,160.0 195.0,155.0 200.0,151.0 205.0,149.0 212.0,154.0 220.0,154.0 226.0,156.0 230.0,159.0 233.0,169.0 233.0,194.0 178.0,194.0" fill="#b07810" opacity="0.55" stroke="none" stroke-width="0"/>
<ellipse cx="204.4" cy="145.4" rx="3.4" ry="5.9" transform="rotate(-2 204.4 145.4)" fill="url(#ky)"/>
<ellipse cx="201.2" cy="152.3" rx="3.2" ry="6.0" transform="rotate(11 201.2 152.3)" fill="url(#ky)"/>
<ellipse cx="224.7" cy="152.6" rx="3.1" ry="5.4" transform="rotate(25 224.7 152.6)" fill="url(#kyl)"/>
<ellipse cx="208.6" cy="153.9" rx="4.0" ry="5.8" transform="rotate(26 208.6 153.9)" fill="url(#ky)"/>
<ellipse cx="219.4" cy="153.9" rx="3.3" ry="5.4" transform="rotate(-7 219.4 153.9)" fill="url(#kyl)"/>
<ellipse cx="214.5" cy="155.1" rx="3.5" ry="4.8" transform="rotate(21 214.5 155.1)" fill="url(#kyl)"/>
<ellipse cx="194.4" cy="156.1" rx="3.8" ry="5.9" transform="rotate(-7 194.4 156.1)" fill="url(#ky)"/>
<ellipse cx="209.2" cy="159.6" rx="3.7" ry="4.9" transform="rotate(13 209.2 159.6)" fill="url(#ky)"/>
<ellipse cx="203.4" cy="159.6" rx="4.0" ry="5.7" transform="rotate(18 203.4 159.6)" fill="url(#kyl)"/>
<ellipse cx="198.2" cy="159.7" rx="3.3" ry="5.9" transform="rotate(-25 198.2 159.7)" fill="url(#ky2)"/>
<ellipse cx="190.8" cy="160.1" rx="3.9" ry="5.1" transform="rotate(-21 190.8 160.1)" fill="url(#ky)"/>
<ellipse cx="215.5" cy="161.3" rx="3.5" ry="5.0" transform="rotate(-9 215.5 161.3)" fill="url(#ky)"/>
<ellipse cx="224.7" cy="161.6" rx="3.9" ry="5.9" transform="rotate(20 224.7 161.6)" fill="url(#ky)"/>
<ellipse cx="187.7" cy="162.2" rx="3.6" ry="5.6" transform="rotate(-2 187.7 162.2)" fill="url(#ky)"/>
<ellipse cx="229.1" cy="162.4" rx="3.8" ry="4.8" transform="rotate(25 229.1 162.4)" fill="url(#ky2)"/>
<ellipse cx="207.7" cy="166.3" rx="3.4" ry="5.2" transform="rotate(15 207.7 166.3)" fill="url(#ky)"/>
<ellipse cx="231.4" cy="166.5" rx="4.0" ry="4.9" transform="rotate(-3 231.4 166.5)" fill="url(#kyl)"/>
<ellipse cx="189.7" cy="166.7" rx="3.8" ry="5.6" transform="rotate(12 189.7 166.7)" fill="url(#kyl)"/>
<ellipse cx="200.9" cy="167.2" rx="3.9" ry="5.8" transform="rotate(-20 200.9 167.2)" fill="url(#kyl)"/>
<ellipse cx="213.8" cy="167.5" rx="3.4" ry="4.8" transform="rotate(24 213.8 167.5)" fill="url(#ky)"/>
<ellipse cx="226.4" cy="167.7" rx="3.2" ry="5.1" transform="rotate(17 226.4 167.7)" fill="url(#ky)"/>
<ellipse cx="221.3" cy="168.5" rx="3.4" ry="5.1" transform="rotate(6 221.3 168.5)" fill="url(#kyl)"/>
<ellipse cx="181.6" cy="168.9" rx="3.3" ry="5.9" transform="rotate(-25 181.6 168.9)" fill="url(#ky)"/>
<ellipse cx="195.5" cy="169.4" rx="3.8" ry="5.4" transform="rotate(-20 195.5 169.4)" fill="url(#ky2)"/>
<ellipse cx="222.4" cy="172.7" rx="3.6" ry="5.4" transform="rotate(7 222.4 172.7)" fill="url(#ky)"/>
<ellipse cx="211.8" cy="173.5" rx="3.2" ry="5.9" transform="rotate(-7 211.8 173.5)" fill="url(#kyl)"/>
<ellipse cx="185.2" cy="173.7" rx="3.9" ry="5.8" transform="rotate(7 185.2 173.7)" fill="url(#kyl)"/>
<ellipse cx="180.5" cy="174.6" rx="3.6" ry="5.3" transform="rotate(9 180.5 174.6)" fill="url(#ky2)"/>
<ellipse cx="193.0" cy="175.0" rx="3.9" ry="5.3" transform="rotate(-16 193.0 175.0)" fill="url(#ky)"/>
<ellipse cx="228.6" cy="175.4" rx="3.9" ry="5.3" transform="rotate(-13 228.6 175.4)" fill="url(#ky2)"/>
<ellipse cx="215.9" cy="175.5" rx="3.2" ry="5.3" transform="rotate(-28 215.9 175.5)" fill="url(#ky)"/>
<ellipse cx="206.2" cy="175.7" rx="3.6" ry="5.3" transform="rotate(-19 206.2 175.7)" fill="url(#kyl)"/>
<ellipse cx="197.2" cy="176.7" rx="3.3" ry="5.5" transform="rotate(27 197.2 176.7)" fill="url(#kyl)"/>
<ellipse cx="202.5" cy="179.8" rx="3.4" ry="5.7" transform="rotate(-25 202.5 179.8)" fill="url(#kyl)"/>
<ellipse cx="183.6" cy="181.2" rx="3.4" ry="5.6" transform="rotate(26 183.6 181.2)" fill="url(#ky2)"/>
<ellipse cx="196.4" cy="182.0" rx="3.5" ry="5.2" transform="rotate(26 196.4 182.0)" fill="url(#kyl)"/>
<ellipse cx="189.8" cy="182.3" rx="3.8" ry="5.6" transform="rotate(26 189.8 182.3)" fill="url(#kyl)"/>
<ellipse cx="212.8" cy="182.9" rx="3.7" ry="4.9" transform="rotate(-20 212.8 182.9)" fill="url(#kyl)"/>
<ellipse cx="206.4" cy="183.0" rx="3.9" ry="5.3" transform="rotate(13 206.4 183.0)" fill="url(#ky)"/>
<ellipse cx="227.4" cy="183.0" rx="3.4" ry="4.9" transform="rotate(-9 227.4 183.0)" fill="url(#kyl)"/>
<ellipse cx="221.7" cy="183.3" rx="3.4" ry="5.1" transform="rotate(-13 221.7 183.3)" fill="url(#kyl)"/>
<ellipse cx="217.8" cy="187.3" rx="3.8" ry="5.6" transform="rotate(-9 217.8 187.3)" fill="url(#kyl)"/>
<ellipse cx="192.9" cy="187.3" rx="3.6" ry="5.4" transform="rotate(-6 192.9 187.3)" fill="url(#ky)"/>
<ellipse cx="221.6" cy="187.6" rx="3.9" ry="5.5" transform="rotate(16 221.6 187.6)" fill="url(#kyl)"/>
<ellipse cx="198.4" cy="187.8" rx="3.9" ry="5.6" transform="rotate(8 198.4 187.8)" fill="url(#kyl)"/>
<ellipse cx="209.0" cy="188.4" rx="3.8" ry="5.3" transform="rotate(-21 209.0 188.4)" fill="url(#kyl)"/>
<ellipse cx="203.6" cy="188.5" rx="3.4" ry="5.9" transform="rotate(20 203.6 188.5)" fill="url(#ky)"/>
<ellipse cx="229.3" cy="189.3" rx="3.6" ry="5.6" transform="rotate(20 229.3 189.3)" fill="url(#ky)"/>
</g>
<path d="M181.0,131.4 C180.3,157.7 180.0,150.0 180.0,162.0 Q180.0,182.0 212.0,182.0 L201.0,182.0 Q233.0,182.0 233.0,162.0 C233.0,150.0 232.7,157.7 232.0,131.4 Z" fill="none" stroke="#e4e4e4" stroke-width="1.3" opacity="0.55"/>
<path d="M181.0,131.4 C180.3,157.7 180.0,150.0 180.0,162.0 Q180.0,182.0 212.0,182.0 L201.0,182.0 Q233.0,182.0 233.0,162.0 C233.0,150.0 232.7,157.7 232.0,131.4 Z" fill="none" stroke="#3a3e3a" stroke-width="1.0" opacity="0.6" transform="translate(0.9,0.3)"/>
</g></g>
<g clip-path="url(#c30)"><g filter="url(#bl2)">
<rect x="52.4" y="189.6" width="58.6" height="56.8" fill="#5a6270" opacity="1"/>
<rect x="52.0" y="190.0" width="2.5" height="56.0" fill="#d8d8d4" opacity="1"/>
<path d="M50.4,242.5 L112.0,242.5 L112.0,247.4 L50.4,247.4 Z" fill="#303028"/>
<path d="M54.0,187.6 C53.3,216.8 53.0,212.0 53.0,224.0 Q53.0,244.0 85.0,244.0 L82.0,244.0 Q114.0,244.0 114.0,224.0 C114.0,212.0 113.7,216.8 113.0,187.6 Z" fill="#a6a6a2"/>
<clipPath id="fl30"><path d="M54.0,187.6 C53.3,216.8 53.0,212.0 53.0,224.0 Q53.0,244.0 85.0,244.0 L82.0,244.0 Q114.0,244.0 114.0,224.0 C114.0,212.0 113.7,216.8 113.0,187.6 Z"/></clipPath>
<g clip-path="url(#fl30)">
<rect x="71.6" y="189.6" width="2.6" height="37.4" fill="#ffffff" opacity="0.1"/>
<rect x="80.4" y="189.6" width="2.8" height="43.0" fill="#202020" opacity="0.08"/>
<rect x="72.2" y="189.6" width="1.8" height="28.4" fill="#202020" opacity="0.08"/>
<rect x="83.3" y="189.6" width="2.9" height="34.8" fill="#202020" opacity="0.08"/>
<polygon points="55.0,223.0 62.0,219.0 68.0,217.0 75.0,216.0 82.0,214.0 88.0,213.0 95.0,212.0 100.0,214.0 108.0,216.0 113.0,222.0 115.0,254.0 52.0,254.0" fill="#b8c878" opacity="0.55" stroke="none" stroke-width="0"/>
<ellipse cx="91.6" cy="211.7" rx="4.5" ry="6.7" transform="rotate(10 91.6 211.7)" fill="url(#kyg2)"/>
<ellipse cx="98.6" cy="212.9" rx="4.2" ry="6.9" transform="rotate(-4 98.6 212.9)" fill="url(#kyg2)"/>
<ellipse cx="80.1" cy="214.0" rx="4.8" ry="7.7" transform="rotate(11 80.1 214.0)" fill="url(#kpg)"/>
<ellipse cx="101.7" cy="219.5" rx="4.4" ry="7.4" transform="rotate(-22 101.7 219.5)" fill="url(#kyg2)"/>
<ellipse cx="79.2" cy="219.6" rx="4.8" ry="6.9" transform="rotate(28 79.2 219.6)" fill="url(#kpg)"/>
<ellipse cx="86.1" cy="219.6" rx="4.1" ry="6.4" transform="rotate(-1 86.1 219.6)" fill="url(#kyg2)"/>
<ellipse cx="93.7" cy="220.1" rx="4.9" ry="7.8" transform="rotate(-13 93.7 220.1)" fill="url(#kyg2)"/>
<ellipse cx="60.9" cy="221.4" rx="4.6" ry="7.7" transform="rotate(-2 60.9 221.4)" fill="url(#kyg2)"/>
<ellipse cx="67.2" cy="223.6" rx="4.5" ry="7.0" transform="rotate(27 67.2 223.6)" fill="url(#kyg2)"/>
<ellipse cx="111.6" cy="224.4" rx="4.0" ry="7.7" transform="rotate(-8 111.6 224.4)" fill="url(#kyg2)"/>
<ellipse cx="88.6" cy="228.8" rx="5.0" ry="6.4" transform="rotate(20 88.6 228.8)" fill="url(#kyg2)"/>
<ellipse cx="73.1" cy="228.9" rx="4.3" ry="7.5" transform="rotate(-9 73.1 228.9)" fill="url(#kyg2)"/>
<ellipse cx="101.5" cy="231.3" rx="4.1" ry="6.6" transform="rotate(-14 101.5 231.3)" fill="url(#kyg2)"/>
<ellipse cx="63.9" cy="233.0" rx="4.8" ry="6.7" transform="rotate(-21 63.9 233.0)" fill="url(#kyg2)"/>
<ellipse cx="108.5" cy="233.8" rx="4.6" ry="7.3" transform="rotate(9 108.5 233.8)" fill="url(#kyg2)"/>
<ellipse cx="56.7" cy="234.2" rx="5.2" ry="6.6" transform="rotate(16 56.7 234.2)" fill="url(#kyg2)"/>
<ellipse cx="84.3" cy="234.3" rx="4.1" ry="6.5" transform="rotate(18 84.3 234.3)" fill="url(#kpg)"/>
<ellipse cx="79.7" cy="239.6" rx="5.2" ry="7.2" transform="rotate(-4 79.7 239.6)" fill="url(#kyg2)"/>
<ellipse cx="68.7" cy="240.6" rx="4.3" ry="6.4" transform="rotate(4 68.7 240.6)" fill="url(#kyg2)"/>
<ellipse cx="101.8" cy="240.9" rx="4.9" ry="7.3" transform="rotate(10 101.8 240.9)" fill="url(#kgy)"/>
<ellipse cx="61.9" cy="243.7" rx="5.1" ry="6.7" transform="rotate(-6 61.9 243.7)" fill="url(#kyg2)"/>
<ellipse cx="96.4" cy="244.1" rx="4.1" ry="7.6" transform="rotate(-6 96.4 244.1)" fill="url(#kgy)"/>
<ellipse cx="88.1" cy="244.3" rx="4.5" ry="7.3" transform="rotate(-19 88.1 244.3)" fill="url(#kyg2)"/>
</g>
<path d="M54.0,187.6 C53.3,216.8 53.0,212.0 53.0,224.0 Q53.0,244.0 85.0,244.0 L82.0,244.0 Q114.0,244.0 114.0,224.0 C114.0,212.0 113.7,216.8 113.0,187.6 Z" fill="none" stroke="#e4e4e4" stroke-width="1.3" opacity="0.55"/>
<path d="M54.0,187.6 C53.3,216.8 53.0,212.0 53.0,224.0 Q53.0,244.0 85.0,244.0 L82.0,244.0 Q114.0,244.0 114.0,224.0 C114.0,212.0 113.7,216.8 113.0,187.6 Z" fill="none" stroke="#3a3e3a" stroke-width="1.0" opacity="0.6" transform="translate(0.9,0.3)"/>
<ellipse cx="66" cy="238" rx="2.5" ry="5" fill="#e8a020" opacity="1"/>
</g></g>
<g clip-path="url(#c31)"><g filter="url(#bl)">
<rect x="110.0" y="189.6" width="63.5" height="56.8" fill="#30384a" opacity="1"/>
<rect x="172.0" y="190.0" width="7.0" height="56.0" fill="#1c2838" opacity="1"/>
<path d="M108.0,241.5 L174.5,241.5 L174.5,247.4 L108.0,247.4 Z" fill="#2a2420"/>
<path d="M122.0,187.6 C120.6,216.3 120.0,211.0 120.0,223.0 Q120.0,243.0 152.0,243.0 L138.0,243.0 Q170.0,243.0 170.0,223.0 C170.0,211.0 169.4,216.3 168.0,187.6 Z" fill="#8c8c8a"/>
<clipPath id="fl31"><path d="M122.0,187.6 C120.6,216.3 120.0,211.0 120.0,223.0 Q120.0,243.0 152.0,243.0 L138.0,243.0 Q170.0,243.0 170.0,223.0 C170.0,211.0 169.4,216.3 168.0,187.6 Z"/></clipPath>
<g clip-path="url(#fl31)">
<rect x="150.6" y="189.6" width="2.5" height="43.4" fill="#202020" opacity="0.08"/>
<rect x="141.7" y="189.6" width="3.2" height="32.8" fill="#ffffff" opacity="0.1"/>
<rect x="126.7" y="189.6" width="2.0" height="27.9" fill="#202020" opacity="0.08"/>
<rect x="131.9" y="189.6" width="2.6" height="31.6" fill="#ffffff" opacity="0.1"/>
<polygon points="120.0,220.0 124.0,214.0 130.0,210.0 136.0,206.0 142.0,204.0 148.0,207.0 152.0,211.0 158.0,216.0 163.0,222.0 168.0,229.0 172.0,254.0 118.0,254.0" fill="#b06810" opacity="0.55" stroke="none" stroke-width="0"/>
<ellipse cx="137.6" cy="206.2" rx="4.9" ry="7.9" transform="rotate(16 137.6 206.2)" fill="url(#ko)"/>
<ellipse cx="135.3" cy="214.3" rx="4.7" ry="7.4" transform="rotate(-3 135.3 214.3)" fill="url(#ko)"/>
<ellipse cx="136.9" cy="213.6" rx="2.1" ry="6.3" transform="rotate(-3 135.3 214.3)" fill="#fbf6ee" opacity="0.75"/>
<ellipse cx="153.5" cy="214.5" rx="5.0" ry="8.1" transform="rotate(2 153.5 214.5)" fill="url(#ko)"/>
<ellipse cx="143.5" cy="215.7" rx="5.1" ry="6.6" transform="rotate(15 143.5 215.7)" fill="url(#ko)"/>
<ellipse cx="125.9" cy="217.1" rx="4.6" ry="6.7" transform="rotate(-6 125.9 217.1)" fill="url(#ky2)"/>
<ellipse cx="124.3" cy="216.4" rx="2.1" ry="5.7" transform="rotate(-6 125.9 217.1)" fill="#fbf6ee" opacity="0.75"/>
<ellipse cx="160.1" cy="221.7" rx="5.4" ry="6.9" transform="rotate(-11 160.1 221.7)" fill="url(#ko)"/>
<ellipse cx="158.2" cy="221.0" rx="2.4" ry="5.9" transform="rotate(-11 160.1 221.7)" fill="#fbf6ee" opacity="0.75"/>
<ellipse cx="130.7" cy="223.1" rx="4.8" ry="7.0" transform="rotate(-11 130.7 223.1)" fill="url(#kpe)"/>
<ellipse cx="147.2" cy="224.1" rx="5.1" ry="6.8" transform="rotate(24 147.2 224.1)" fill="url(#ko)"/>
<ellipse cx="145.5" cy="223.5" rx="2.3" ry="5.8" transform="rotate(24 147.2 224.1)" fill="#fbf6ee" opacity="0.75"/>
<ellipse cx="166.8" cy="225.2" rx="5.3" ry="7.7" transform="rotate(1 166.8 225.2)" fill="url(#kpe)"/>
<ellipse cx="142.1" cy="226.6" rx="4.5" ry="7.0" transform="rotate(18 142.1 226.6)" fill="url(#kpe)"/>
<ellipse cx="143.7" cy="225.9" rx="2.0" ry="6.0" transform="rotate(18 142.1 226.6)" fill="#fbf6ee" opacity="0.75"/>
<ellipse cx="145.7" cy="232.4" rx="4.5" ry="7.2" transform="rotate(10 145.7 232.4)" fill="url(#ky2)"/>
<ellipse cx="151.8" cy="232.9" rx="4.3" ry="6.6" transform="rotate(7 151.8 232.9)" fill="url(#ko)"/>
<ellipse cx="132.3" cy="233.0" rx="5.2" ry="7.1" transform="rotate(27 132.3 233.0)" fill="url(#ko)"/>
<ellipse cx="134.2" cy="232.3" rx="2.4" ry="6.1" transform="rotate(27 132.3 233.0)" fill="#fbf6ee" opacity="0.75"/>
<ellipse cx="164.8" cy="233.1" rx="4.6" ry="6.6" transform="rotate(-23 164.8 233.1)" fill="url(#ky2)"/>
<ellipse cx="127.3" cy="236.2" rx="5.2" ry="7.5" transform="rotate(12 127.3 236.2)" fill="url(#ky2)"/>
<ellipse cx="148.8" cy="242.1" rx="5.0" ry="8.1" transform="rotate(-6 148.8 242.1)" fill="url(#ko)"/>
<ellipse cx="150.6" cy="241.3" rx="2.2" ry="6.9" transform="rotate(-6 148.8 242.1)" fill="#fbf6ee" opacity="0.75"/>
<ellipse cx="137.3" cy="242.5" rx="4.6" ry="7.2" transform="rotate(2 137.3 242.5)" fill="url(#ko)"/>
<ellipse cx="156.5" cy="243.4" rx="4.3" ry="7.4" transform="rotate(19 156.5 243.4)" fill="url(#kpe)"/>
<ellipse cx="121.9" cy="244.0" rx="5.3" ry="7.4" transform="rotate(9 121.9 244.0)" fill="url(#ko)"/>
<ellipse cx="120.0" cy="243.3" rx="2.4" ry="6.3" transform="rotate(9 121.9 244.0)" fill="#fbf6ee" opacity="0.75"/>
<ellipse cx="131.7" cy="244.5" rx="5.3" ry="8.0" transform="rotate(9 131.7 244.5)" fill="url(#ko)"/>
<ellipse cx="129.8" cy="243.7" rx="2.4" ry="6.8" transform="rotate(9 131.7 244.5)" fill="#fbf6ee" opacity="0.75"/>
<ellipse cx="164.9" cy="247.8" rx="4.3" ry="7.2" transform="rotate(-20 164.9 247.8)" fill="url(#ko)"/>
<ellipse cx="166.4" cy="247.1" rx="1.9" ry="6.1" transform="rotate(-20 164.9 247.8)" fill="#fbf6ee" opacity="0.75"/>
</g>
<path d="M122.0,187.6 C120.6,216.3 120.0,211.0 120.0,223.0 Q120.0,243.0 152.0,243.0 L138.0,243.0 Q170.0,243.0 170.0,223.0 C170.0,211.0 169.4,216.3 168.0,187.6 Z" fill="none" stroke="#e4e4e4" stroke-width="1.3" opacity="0.55"/>
<path d="M122.0,187.6 C120.6,216.3 120.0,211.0 120.0,223.0 Q120.0,243.0 152.0,243.0 L138.0,243.0 Q170.0,243.0 170.0,223.0 C170.0,211.0 169.4,216.3 168.0,187.6 Z" fill="none" stroke="#3a3e3a" stroke-width="1.0" opacity="0.6" transform="translate(0.9,0.3)"/>
</g></g>
<g clip-path="url(#c32)"><g filter="url(#bl)">
<rect x="172.5" y="189.6" width="60.1" height="56.8" fill="#1a2838" opacity="1"/>
<rect x="228.0" y="190.0" width="4.0" height="56.0" fill="#9a9a98" opacity="1"/>
<path d="M170.5,241.5 L233.6,241.5 L233.6,247.4 L170.5,247.4 Z" fill="#2a2420"/>
<path d="M181.0,187.6 C179.6,216.3 179.0,211.0 179.0,223.0 Q179.0,243.0 211.0,243.0 L197.0,243.0 Q229.0,243.0 229.0,223.0 C229.0,211.0 228.4,216.3 227.0,187.6 Z" fill="#8a8a88"/>
<clipPath id="fl32"><path d="M181.0,187.6 C179.6,216.3 179.0,211.0 179.0,223.0 Q179.0,243.0 211.0,243.0 L197.0,243.0 Q229.0,243.0 229.0,223.0 C229.0,211.0 228.4,216.3 227.0,187.6 Z"/></clipPath>
<g clip-path="url(#fl32)">
<rect x="186.0" y="190.0" width="34.0" height="20.0" fill="#a0a09c" opacity="0.7"/>
<rect x="216.1" y="189.6" width="3.2" height="40.7" fill="#202020" opacity="0.08"/>
<rect x="201.5" y="189.6" width="3.9" height="47.9" fill="#ffffff" opacity="0.1"/>
<rect x="189.4" y="189.6" width="3.3" height="27.6" fill="#202020" opacity="0.08"/>
<rect x="212.4" y="189.6" width="2.1" height="30.5" fill="#202020" opacity="0.08"/>
<polygon points="180.0,225.0 186.0,219.0 192.0,216.0 200.0,215.0 208.0,216.0 214.0,218.0 220.0,220.0 226.0,225.0 230.0,232.0 231.0,254.0 178.0,254.0" fill="#b07010" opacity="0.55" stroke="none" stroke-width="0"/>
<ellipse cx="197.5" cy="215.5" rx="4.6" ry="6.2" transform="rotate(28 197.5 215.5)" fill="url(#ko)"/>
<ellipse cx="208.5" cy="215.7" rx="4.7" ry="7.6" transform="rotate(21 208.5 215.7)" fill="url(#ky2)"/>
<ellipse cx="191.2" cy="215.9" rx="4.9" ry="6.7" transform="rotate(-15 191.2 215.9)" fill="url(#ky2)"/>
<ellipse cx="222.2" cy="221.7" rx="4.3" ry="7.7" transform="rotate(-8 222.2 221.7)" fill="url(#ky2)"/>
<ellipse cx="220.7" cy="220.9" rx="1.9" ry="6.5" transform="rotate(-8 222.2 221.7)" fill="#fbf6ee" opacity="0.75"/>
<ellipse cx="187.4" cy="223.6" rx="4.9" ry="7.6" transform="rotate(28 187.4 223.6)" fill="url(#ky)"/>
<ellipse cx="212.7" cy="223.8" rx="4.9" ry="6.8" transform="rotate(1 212.7 223.8)" fill="url(#kpe)"/>
<ellipse cx="194.0" cy="225.6" rx="5.1" ry="6.7" transform="rotate(27 194.0 225.6)" fill="url(#ko)"/>
<ellipse cx="202.3" cy="227.3" rx="4.6" ry="7.4" transform="rotate(20 202.3 227.3)" fill="url(#ko)"/>
<ellipse cx="179.8" cy="231.4" rx="5.2" ry="7.2" transform="rotate(4 179.8 231.4)" fill="url(#ky2)"/>
<ellipse cx="178.0" cy="230.7" rx="2.3" ry="6.2" transform="rotate(4 179.8 231.4)" fill="#fbf6ee" opacity="0.75"/>
<ellipse cx="205.0" cy="231.6" rx="4.9" ry="6.5" transform="rotate(-15 205.0 231.6)" fill="url(#ko)"/>
<ellipse cx="218.5" cy="232.1" rx="4.3" ry="7.3" transform="rotate(-15 218.5 232.1)" fill="url(#kpe)"/>
<ellipse cx="224.1" cy="232.7" rx="4.5" ry="7.0" transform="rotate(17 224.1 232.7)" fill="url(#ky)"/>
<ellipse cx="225.7" cy="232.0" rx="2.0" ry="5.9" transform="rotate(17 224.1 232.7)" fill="#fbf6ee" opacity="0.75"/>
<ellipse cx="198.8" cy="234.9" rx="4.3" ry="6.4" transform="rotate(-10 198.8 234.9)" fill="url(#ky2)"/>
<ellipse cx="189.3" cy="235.4" rx="4.9" ry="7.1" transform="rotate(24 189.3 235.4)" fill="url(#ko)"/>
<ellipse cx="187.6" cy="234.7" rx="2.2" ry="6.0" transform="rotate(24 189.3 235.4)" fill="#fbf6ee" opacity="0.75"/>
<ellipse cx="183.2" cy="241.5" rx="4.6" ry="7.5" transform="rotate(-1 183.2 241.5)" fill="url(#ky2)"/>
<ellipse cx="184.8" cy="240.8" rx="2.0" ry="6.4" transform="rotate(-1 183.2 241.5)" fill="#fbf6ee" opacity="0.75"/>
<ellipse cx="221.0" cy="244.4" rx="4.4" ry="6.3" transform="rotate(-5 221.0 244.4)" fill="url(#kpe)"/>
<ellipse cx="201.3" cy="244.6" rx="4.5" ry="6.3" transform="rotate(-14 201.3 244.6)" fill="url(#ky2)"/>
<ellipse cx="202.9" cy="244.0" rx="2.0" ry="5.3" transform="rotate(-14 201.3 244.6)" fill="#fbf6ee" opacity="0.75"/>
<ellipse cx="214.8" cy="246.1" rx="4.8" ry="7.5" transform="rotate(-12 214.8 246.1)" fill="url(#ky)"/>
<ellipse cx="230.2" cy="246.1" rx="4.3" ry="6.7" transform="rotate(-5 230.2 246.1)" fill="url(#ky)"/>
<ellipse cx="192.8" cy="246.8" rx="4.2" ry="7.7" transform="rotate(-2 192.8 246.8)" fill="url(#kpe)"/>
<ellipse cx="191.3" cy="246.0" rx="1.9" ry="6.5" transform="rotate(-2 192.8 246.8)" fill="#fbf6ee" opacity="0.75"/>
</g>
<path d="M181.0,187.6 C179.6,216.3 179.0,211.0 179.0,223.0 Q179.0,243.0 211.0,243.0 L197.0,243.0 Q229.0,243.0 229.0,223.0 C229.0,211.0 228.4,216.3 227.0,187.6 Z" fill="none" stroke="#e4e4e4" stroke-width="1.3" opacity="0.55"/>
<path d="M181.0,187.6 C179.6,216.3 179.0,211.0 179.0,223.0 Q179.0,243.0 211.0,243.0 L197.0,243.0 Q229.0,243.0 229.0,223.0 C229.0,211.0 228.4,216.3 227.0,187.6 Z" fill="none" stroke="#3a3e3a" stroke-width="1.0" opacity="0.6" transform="translate(0.9,0.3)"/>
</g></g>
<g clip-path="url(#c40)"><g filter="url(#bl2)">
<rect x="52.4" y="246.6" width="58.6" height="53.0" fill="#203040" opacity="1"/>
<rect x="56.0" y="247.0" width="66.0" height="52.0" fill="#8a8c8a" opacity="1"/>
<path d="M50.4,295.5 L112.0,295.5 L112.0,300.6 L50.4,300.6 Z" fill="#303030"/>
<path d="M56.0,244.6 C54.6,271.8 54.0,265.0 54.0,277.0 Q54.0,297.0 86.0,297.0 L82.0,297.0 Q114.0,297.0 114.0,277.0 C114.0,265.0 113.4,271.8 112.0,244.6 Z" fill="#9c9e9a"/>
<clipPath id="fl40"><path d="M56.0,244.6 C54.6,271.8 54.0,265.0 54.0,277.0 Q54.0,297.0 86.0,297.0 L82.0,297.0 Q114.0,297.0 114.0,277.0 C114.0,265.0 113.4,271.8 112.0,244.6 Z"/></clipPath>
<g clip-path="url(#fl40)">
<rect x="77.1" y="246.6" width="3.2" height="35.2" fill="#202020" opacity="0.08"/>
<rect x="106.8" y="246.6" width="4.0" height="28.4" fill="#ffffff" opacity="0.1"/>
<rect x="66.4" y="246.6" width="1.6" height="40.5" fill="#202020" opacity="0.08"/>
<rect x="62.7" y="246.6" width="4.1" height="32.3" fill="#202020" opacity="0.08"/>
<polygon points="55.0,267.0 60.0,268.0 68.0,266.0 74.0,264.0 78.0,262.0 84.0,266.0 90.0,266.0 95.0,264.0 100.0,266.0 106.0,269.0 112.0,274.0 115.0,304.0 52.0,304.0" fill="#b0c070" opacity="0.55" stroke="none" stroke-width="0"/>
<ellipse cx="80.4" cy="264.2" rx="5.0" ry="7.6" transform="rotate(-2 80.4 264.2)" fill="url(#kpg2)"/>
<ellipse cx="68.7" cy="269.0" rx="4.4" ry="6.5" transform="rotate(8 68.7 269.0)" fill="url(#kgy)"/>
<ellipse cx="93.6" cy="270.4" rx="4.8" ry="6.5" transform="rotate(-7 93.6 270.4)" fill="url(#kgy)"/>
<ellipse cx="88.2" cy="270.6" rx="4.9" ry="7.5" transform="rotate(-27 88.2 270.6)" fill="url(#kgy)"/>
<ellipse cx="60.9" cy="272.1" rx="4.3" ry="7.6" transform="rotate(1 60.9 272.1)" fill="url(#kyg2)"/>
<ellipse cx="76.8" cy="273.4" rx="4.6" ry="7.2" transform="rotate(10 76.8 273.4)" fill="url(#kyg2)"/>
<ellipse cx="102.9" cy="274.1" rx="4.1" ry="7.0" transform="rotate(16 102.9 274.1)" fill="url(#kyg2)"/>
<ellipse cx="93.1" cy="281.7" rx="4.6" ry="7.0" transform="rotate(-19 93.1 281.7)" fill="url(#kyg2)"/>
<ellipse cx="62.6" cy="281.8" rx="5.2" ry="7.6" transform="rotate(15 62.6 281.8)" fill="url(#kyg2)"/>
<ellipse cx="73.6" cy="282.4" rx="5.1" ry="7.2" transform="rotate(5 73.6 282.4)" fill="url(#kgy)"/>
<ellipse cx="79.4" cy="282.4" rx="5.0" ry="7.6" transform="rotate(-2 79.4 282.4)" fill="url(#kyg2)"/>
<ellipse cx="109.9" cy="283.4" rx="4.2" ry="6.5" transform="rotate(11 109.9 283.4)" fill="url(#kyg2)"/>
<ellipse cx="102.3" cy="283.5" rx="5.0" ry="6.9" transform="rotate(-22 102.3 283.5)" fill="url(#kyg2)"/>
<ellipse cx="78.7" cy="288.6" rx="4.4" ry="6.6" transform="rotate(-23 78.7 288.6)" fill="url(#kyg2)"/>
<ellipse cx="85.1" cy="289.6" rx="4.3" ry="6.7" transform="rotate(-16 85.1 289.6)" fill="url(#kpg2)"/>
<ellipse cx="93.5" cy="290.7" rx="4.2" ry="7.2" transform="rotate(-6 93.5 290.7)" fill="url(#kpg2)"/>
<ellipse cx="110.9" cy="291.4" rx="4.5" ry="6.6" transform="rotate(10 110.9 291.4)" fill="url(#kgy)"/>
<ellipse cx="105.4" cy="291.4" rx="4.9" ry="6.4" transform="rotate(-17 105.4 291.4)" fill="url(#kyg2)"/>
<ellipse cx="61.9" cy="293.1" rx="5.1" ry="7.1" transform="rotate(-25 61.9 293.1)" fill="url(#kpg2)"/>
<ellipse cx="67.9" cy="293.2" rx="4.5" ry="6.9" transform="rotate(1 67.9 293.2)" fill="url(#kpg2)"/>
</g>
<path d="M56.0,244.6 C54.6,271.8 54.0,265.0 54.0,277.0 Q54.0,297.0 86.0,297.0 L82.0,297.0 Q114.0,297.0 114.0,277.0 C114.0,265.0 113.4,271.8 112.0,244.6 Z" fill="none" stroke="#e4e4e4" stroke-width="1.3" opacity="0.55"/>
<path d="M56.0,244.6 C54.6,271.8 54.0,265.0 54.0,277.0 Q54.0,297.0 86.0,297.0 L82.0,297.0 Q114.0,297.0 114.0,277.0 C114.0,265.0 113.4,271.8 112.0,244.6 Z" fill="none" stroke="#3a3e3a" stroke-width="1.0" opacity="0.6" transform="translate(0.9,0.3)"/>
<path d="M92,297 C102,295 110,289 113,279" fill="none" stroke="#c89040" stroke-width="1.3" opacity="1"/>
</g></g>
<g clip-path="url(#c41)"><g filter="url(#bl)">
<rect x="110.0" y="246.6" width="63.5" height="53.0" fill="#8a8a88" opacity="1"/>
<rect x="172.0" y="247.0" width="7.0" height="52.0" fill="#a0a2a0" opacity="1"/>
<path d="M108.0,294.5 L174.5,294.5 L174.5,300.6 L108.0,300.6 Z" fill="#302c28"/>
<path d="M121.0,244.6 C119.6,271.3 119.0,264.0 119.0,276.0 Q119.0,296.0 151.0,296.0 L140.0,296.0 Q172.0,296.0 172.0,276.0 C172.0,264.0 171.4,271.3 170.0,244.6 Z" fill="#8e8e8c"/>
<clipPath id="fl41"><path d="M121.0,244.6 C119.6,271.3 119.0,264.0 119.0,276.0 Q119.0,296.0 151.0,296.0 L140.0,296.0 Q172.0,296.0 172.0,276.0 C172.0,264.0 171.4,271.3 170.0,244.6 Z"/></clipPath>
<g clip-path="url(#fl41)">
<rect x="124.8" y="246.6" width="4.2" height="40.9" fill="#202020" opacity="0.08"/>
<rect x="142.7" y="246.6" width="1.7" height="29.6" fill="#202020" opacity="0.08"/>
<rect x="136.9" y="246.6" width="1.9" height="34.6" fill="#ffffff" opacity="0.1"/>
<rect x="159.1" y="246.6" width="2.3" height="42.6" fill="#202020" opacity="0.08"/>
<polygon points="120.0,270.0 124.0,263.0 130.0,261.0 136.0,259.0 140.0,256.0 144.0,259.0 148.0,258.0 152.0,266.0 158.0,270.0 164.0,274.0 168.0,279.0 172.0,304.0 118.0,304.0" fill="#b06810" opacity="0.55" stroke="none" stroke-width="0"/>
<ellipse cx="138.0" cy="254.6" rx="4.7" ry="6.7" transform="rotate(24 138.0 254.6)" fill="url(#ky2)"/>
<ellipse cx="148.9" cy="258.0" rx="4.4" ry="7.8" transform="rotate(25 148.9 258.0)" fill="url(#ko)"/>
<ellipse cx="150.4" cy="257.3" rx="2.0" ry="6.6" transform="rotate(25 148.9 258.0)" fill="#fbf6ee" opacity="0.75"/>
<ellipse cx="132.3" cy="264.1" rx="5.4" ry="7.2" transform="rotate(-2 132.3 264.1)" fill="url(#ky2)"/>
<ellipse cx="134.1" cy="263.4" rx="2.4" ry="6.2" transform="rotate(-2 132.3 264.1)" fill="#fbf6ee" opacity="0.75"/>
<ellipse cx="126.4" cy="264.4" rx="4.5" ry="6.7" transform="rotate(9 126.4 264.4)" fill="url(#ko)"/>
<ellipse cx="128.0" cy="263.8" rx="2.0" ry="5.7" transform="rotate(9 126.4 264.4)" fill="#fbf6ee" opacity="0.75"/>
<ellipse cx="144.2" cy="264.5" rx="4.7" ry="7.0" transform="rotate(-19 144.2 264.5)" fill="url(#ko)"/>
<ellipse cx="145.9" cy="263.8" rx="2.1" ry="6.0" transform="rotate(-19 144.2 264.5)" fill="#fbf6ee" opacity="0.75"/>
<ellipse cx="122.3" cy="273.5" rx="4.2" ry="6.9" transform="rotate(-20 122.3 273.5)" fill="url(#ky2)"/>
<ellipse cx="123.8" cy="272.8" rx="1.9" ry="5.9" transform="rotate(-20 122.3 273.5)" fill="#fbf6ee" opacity="0.75"/>
<ellipse cx="149.9" cy="274.4" rx="5.4" ry="7.7" transform="rotate(12 149.9 274.4)" fill="url(#ky2)"/>
<ellipse cx="151.8" cy="273.6" rx="2.4" ry="6.6" transform="rotate(12 149.9 274.4)" fill="#fbf6ee" opacity="0.75"/>
<ellipse cx="129.3" cy="276.4" rx="4.2" ry="7.1" transform="rotate(17 129.3 276.4)" fill="url(#ky2)"/>
<ellipse cx="127.8" cy="275.7" rx="1.9" ry="6.0" transform="rotate(17 129.3 276.4)" fill="#fbf6ee" opacity="0.75"/>
<ellipse cx="140.3" cy="277.8" rx="5.4" ry="7.8" transform="rotate(15 140.3 277.8)" fill="url(#kpe)"/>
<ellipse cx="142.2" cy="277.0" rx="2.4" ry="6.6" transform="rotate(15 140.3 277.8)" fill="#fbf6ee" opacity="0.75"/>
<ellipse cx="157.2" cy="278.8" rx="4.6" ry="7.8" transform="rotate(20 157.2 278.8)" fill="url(#ky2)"/>
<ellipse cx="125.7" cy="284.4" rx="4.3" ry="7.2" transform="rotate(26 125.7 284.4)" fill="url(#kpe)"/>
<ellipse cx="127.2" cy="283.7" rx="1.9" ry="6.1" transform="rotate(26 125.7 284.4)" fill="#fbf6ee" opacity="0.75"/>
<ellipse cx="144.6" cy="287.8" rx="5.4" ry="6.9" transform="rotate(20 144.6 287.8)" fill="url(#ky2)"/>
<ellipse cx="146.5" cy="287.2" rx="2.4" ry="5.9" transform="rotate(20 144.6 287.8)" fill="#fbf6ee" opacity="0.75"/>
<ellipse cx="163.5" cy="288.8" rx="4.4" ry="7.0" transform="rotate(17 163.5 288.8)" fill="url(#ko)"/>
<ellipse cx="153.1" cy="289.0" rx="4.7" ry="7.0" transform="rotate(0 153.1 289.0)" fill="url(#kpe)"/>
<ellipse cx="132.5" cy="289.7" rx="4.5" ry="6.9" transform="rotate(-27 132.5 289.7)" fill="url(#ko)"/>
<ellipse cx="134.1" cy="289.0" rx="2.0" ry="5.9" transform="rotate(-27 132.5 289.7)" fill="#fbf6ee" opacity="0.75"/>
<ellipse cx="156.5" cy="295.8" rx="5.0" ry="6.8" transform="rotate(7 156.5 295.8)" fill="url(#kpe)"/>
<ellipse cx="158.2" cy="295.2" rx="2.2" ry="5.8" transform="rotate(7 156.5 295.8)" fill="#fbf6ee" opacity="0.75"/>
<ellipse cx="138.6" cy="297.3" rx="4.4" ry="7.0" transform="rotate(12 138.6 297.3)" fill="url(#ko)"/>
<ellipse cx="127.7" cy="297.4" rx="4.9" ry="7.6" transform="rotate(15 127.7 297.4)" fill="url(#ky2)"/>
<ellipse cx="150.8" cy="297.9" rx="5.1" ry="6.8" transform="rotate(26 150.8 297.9)" fill="url(#kpe)"/>
<ellipse cx="122.4" cy="298.0" rx="4.4" ry="7.0" transform="rotate(-22 122.4 298.0)" fill="url(#ky2)"/>
<ellipse cx="120.8" cy="297.3" rx="2.0" ry="6.0" transform="rotate(-22 122.4 298.0)" fill="#fbf6ee" opacity="0.75"/>
<ellipse cx="165.7" cy="298.1" rx="4.3" ry="6.9" transform="rotate(24 165.7 298.1)" fill="url(#kpe)"/>
<ellipse cx="167.2" cy="297.4" rx="1.9" ry="5.8" transform="rotate(24 165.7 298.1)" fill="#fbf6ee" opacity="0.75"/>
</g>
<path d="M121.0,244.6 C119.6,271.3 119.0,264.0 119.0,276.0 Q119.0,296.0 151.0,296.0 L140.0,296.0 Q172.0,296.0 172.0,276.0 C172.0,264.0 171.4,271.3 170.0,244.6 Z" fill="none" stroke="#e4e4e4" stroke-width="1.3" opacity="0.55"/>
<path d="M121.0,244.6 C119.6,271.3 119.0,264.0 119.0,276.0 Q119.0,296.0 151.0,296.0 L140.0,296.0 Q172.0,296.0 172.0,276.0 C172.0,264.0 171.4,271.3 170.0,244.6 Z" fill="none" stroke="#3a3e3a" stroke-width="1.0" opacity="0.6" transform="translate(0.9,0.3)"/>
</g></g>
<g clip-path="url(#c42)"><g filter="url(#bl)">
<rect x="172.5" y="246.6" width="60.1" height="53.0" fill="#8c8c8a" opacity="1"/>
<path d="M170.5,295.5 L233.6,295.5 L233.6,300.6 L170.5,300.6 Z" fill="#302c28"/>
<path d="M178.0,244.6 C176.6,271.8 176.0,265.0 176.0,277.0 Q176.0,297.0 208.0,297.0 L198.0,297.0 Q230.0,297.0 230.0,277.0 C230.0,265.0 229.4,271.8 228.0,244.6 Z" fill="#8e8e8c"/>
<clipPath id="fl42"><path d="M178.0,244.6 C176.6,271.8 176.0,265.0 176.0,277.0 Q176.0,297.0 208.0,297.0 L198.0,297.0 Q230.0,297.0 230.0,277.0 C230.0,265.0 229.4,271.8 228.0,244.6 Z"/></clipPath>
<g clip-path="url(#fl42)">
<rect x="214.3" y="246.6" width="3.3" height="28.2" fill="#ffffff" opacity="0.1"/>
<rect x="184.5" y="246.6" width="4.3" height="43.4" fill="#ffffff" opacity="0.1"/>
<rect x="210.4" y="246.6" width="2.2" height="34.3" fill="#ffffff" opacity="0.1"/>
<rect x="203.3" y="246.6" width="3.5" height="35.5" fill="#ffffff" opacity="0.1"/>
<polygon points="176.0,277.0 182.0,270.0 190.0,268.0 198.0,269.0 204.0,267.0 212.0,270.0 218.0,272.0 225.0,276.0 230.0,282.0 232.0,304.0 174.0,304.0" fill="#b07010" opacity="0.55" stroke="none" stroke-width="0"/>
<ellipse cx="192.3" cy="268.7" rx="4.6" ry="7.8" transform="rotate(-27 192.3 268.7)" fill="url(#kpe)"/>
<ellipse cx="193.9" cy="267.9" rx="2.1" ry="6.6" transform="rotate(-27 192.3 268.7)" fill="#fbf6ee" opacity="0.75"/>
<ellipse cx="184.7" cy="269.1" rx="5.0" ry="7.1" transform="rotate(22 184.7 269.1)" fill="url(#ky)"/>
<ellipse cx="206.0" cy="269.4" rx="5.1" ry="6.5" transform="rotate(-25 206.0 269.4)" fill="url(#ko)"/>
<ellipse cx="207.6" cy="274.7" rx="4.9" ry="7.2" transform="rotate(-26 207.6 274.7)" fill="url(#ky)"/>
<ellipse cx="209.3" cy="274.0" rx="2.2" ry="6.1" transform="rotate(-26 207.6 274.7)" fill="#fbf6ee" opacity="0.75"/>
<ellipse cx="179.6" cy="275.6" rx="4.4" ry="6.8" transform="rotate(6 179.6 275.6)" fill="url(#ko)"/>
<ellipse cx="181.2" cy="274.9" rx="2.0" ry="5.8" transform="rotate(6 179.6 275.6)" fill="#fbf6ee" opacity="0.75"/>
<ellipse cx="197.8" cy="275.8" rx="5.1" ry="7.1" transform="rotate(26 197.8 275.8)" fill="url(#kpe)"/>
<ellipse cx="196.1" cy="275.1" rx="2.3" ry="6.0" transform="rotate(26 197.8 275.8)" fill="#fbf6ee" opacity="0.75"/>
<ellipse cx="216.2" cy="276.0" rx="4.9" ry="7.4" transform="rotate(20 216.2 276.0)" fill="url(#ko)"/>
<ellipse cx="188.2" cy="276.3" rx="4.2" ry="6.3" transform="rotate(23 188.2 276.3)" fill="url(#ky2)"/>
<ellipse cx="228.4" cy="278.9" rx="4.8" ry="6.6" transform="rotate(-27 228.4 278.9)" fill="url(#ky)"/>
<ellipse cx="226.7" cy="278.2" rx="2.2" ry="5.6" transform="rotate(-27 228.4 278.9)" fill="#fbf6ee" opacity="0.75"/>
<ellipse cx="210.9" cy="283.9" rx="4.0" ry="6.9" transform="rotate(5 210.9 283.9)" fill="url(#ko)"/>
<ellipse cx="202.6" cy="284.1" rx="4.5" ry="7.2" transform="rotate(-2 202.6 284.1)" fill="url(#ky2)"/>
<ellipse cx="176.1" cy="284.4" rx="4.8" ry="7.2" transform="rotate(24 176.1 284.4)" fill="url(#ky2)"/>
<ellipse cx="186.1" cy="287.2" rx="4.7" ry="7.7" transform="rotate(26 186.1 287.2)" fill="url(#ky2)"/>
<ellipse cx="187.7" cy="286.4" rx="2.1" ry="6.6" transform="rotate(26 186.1 287.2)" fill="#fbf6ee" opacity="0.75"/>
<ellipse cx="221.7" cy="288.0" rx="5.1" ry="6.9" transform="rotate(-21 221.7 288.0)" fill="url(#ky)"/>
<ellipse cx="195.1" cy="288.5" rx="4.8" ry="7.0" transform="rotate(24 195.1 288.5)" fill="url(#ko)"/>
<ellipse cx="209.1" cy="296.4" rx="4.1" ry="6.8" transform="rotate(-13 209.1 296.4)" fill="url(#ko)"/>
<ellipse cx="207.7" cy="295.7" rx="1.8" ry="5.8" transform="rotate(-13 209.1 296.4)" fill="#fbf6ee" opacity="0.75"/>
<ellipse cx="228.0" cy="297.8" rx="4.1" ry="7.5" transform="rotate(23 228.0 297.8)" fill="url(#ky)"/>
<ellipse cx="226.6" cy="297.1" rx="1.9" ry="6.4" transform="rotate(23 228.0 297.8)" fill="#fbf6ee" opacity="0.75"/>
<ellipse cx="191.0" cy="298.0" rx="5.0" ry="7.8" transform="rotate(21 191.0 298.0)" fill="url(#ky)"/>
<ellipse cx="192.7" cy="297.2" rx="2.2" ry="6.6" transform="rotate(21 191.0 298.0)" fill="#fbf6ee" opacity="0.75"/>
<ellipse cx="196.9" cy="298.1" rx="4.5" ry="7.3" transform="rotate(25 196.9 298.1)" fill="url(#kpe)"/>
<ellipse cx="195.3" cy="297.3" rx="2.0" ry="6.2" transform="rotate(25 196.9 298.1)" fill="#fbf6ee" opacity="0.75"/>
<ellipse cx="218.9" cy="298.2" rx="5.1" ry="7.3" transform="rotate(7 218.9 298.2)" fill="url(#ky2)"/>
<ellipse cx="220.7" cy="297.5" rx="2.3" ry="6.2" transform="rotate(7 218.9 298.2)" fill="#fbf6ee" opacity="0.75"/>
<ellipse cx="183.0" cy="299.3" rx="4.5" ry="6.9" transform="rotate(11 183.0 299.3)" fill="url(#ky2)"/>
</g>
<path d="M178.0,244.6 C176.6,271.8 176.0,265.0 176.0,277.0 Q176.0,297.0 208.0,297.0 L198.0,297.0 Q230.0,297.0 230.0,277.0 C230.0,265.0 229.4,271.8 228.0,244.6 Z" fill="none" stroke="#e4e4e4" stroke-width="1.3" opacity="0.55"/>
<path d="M178.0,244.6 C176.6,271.8 176.0,265.0 176.0,277.0 Q176.0,297.0 208.0,297.0 L198.0,297.0 Q230.0,297.0 230.0,277.0 C230.0,265.0 229.4,271.8 228.0,244.6 Z" fill="none" stroke="#3a3e3a" stroke-width="1.0" opacity="0.6" transform="translate(0.9,0.3)"/>
</g></g>
<g clip-path="url(#c50)"><g filter="url(#bl2)">
<rect x="52.4" y="299.4" width="58.6" height="62.0" fill="#203848" opacity="1"/>
<rect x="52.0" y="299.0" width="56.0" height="62.0" fill="#9c9c98" opacity="1"/>
<rect x="106.0" y="299.0" width="12.0" height="13.0" fill="#c8ccd0" opacity="0.8"/>
<path d="M50.4,354.5 L112.0,354.5 L112.0,362.4 L50.4,362.4 Z" fill="#303030"/>
<path d="M56.0,297.4 C54.6,327.7 54.0,324.0 54.0,336.0 Q54.0,356.0 86.0,356.0 L79.0,356.0 Q111.0,356.0 111.0,336.0 C111.0,324.0 110.4,327.7 109.0,297.4 Z" fill="#aaa8a2"/>
<clipPath id="fl50"><path d="M56.0,297.4 C54.6,327.7 54.0,324.0 54.0,336.0 Q54.0,356.0 86.0,356.0 L79.0,356.0 Q111.0,356.0 111.0,336.0 C111.0,324.0 110.4,327.7 109.0,297.4 Z"/></clipPath>
<g clip-path="url(#fl50)">
<rect x="62.0" y="302.0" width="12.0" height="10.0" fill="#d8d8d0" opacity="1"/>
<rect x="78.0" y="303.0" width="2.0" height="10.0" fill="#303030" opacity="0.7"/>
<rect x="70.0" y="318.0" width="14.0" height="4.0" fill="#606060" opacity="0.4"/>
<rect x="85.8" y="299.4" width="3.9" height="48.4" fill="#202020" opacity="0.08"/>
<rect x="92.1" y="299.4" width="4.2" height="47.6" fill="#ffffff" opacity="0.1"/>
<rect x="92.7" y="299.4" width="3.4" height="42.9" fill="#202020" opacity="0.08"/>
<rect x="91.8" y="299.4" width="3.6" height="36.2" fill="#202020" opacity="0.08"/>
<polygon points="55.0,337.0 60.0,334.0 66.0,333.0 72.0,331.0 78.0,329.0 84.0,327.0 90.0,325.0 96.0,323.0 102.0,326.0 108.0,332.0 111.0,342.0 111.0,352.0 52.0,352.0" fill="#d0c890" opacity="0.55" stroke="none" stroke-width="0"/>
<ellipse cx="84.3" cy="325.1" rx="4.2" ry="7.3" transform="rotate(-16 84.3 325.1)" fill="url(#kfy)"/>
<ellipse cx="91.4" cy="325.4" rx="4.8" ry="6.7" transform="rotate(14 91.4 325.4)" fill="url(#kfy)"/>
<ellipse cx="100.3" cy="325.4" rx="4.3" ry="7.2" transform="rotate(12 100.3 325.4)" fill="url(#kfy)"/>
<ellipse cx="58.1" cy="331.8" rx="5.1" ry="6.5" transform="rotate(-4 58.1 331.8)" fill="url(#kfy)"/>
<ellipse cx="85.1" cy="332.5" rx="4.9" ry="7.5" transform="rotate(16 85.1 332.5)" fill="url(#kpy)"/>
<ellipse cx="96.2" cy="333.0" rx="4.2" ry="7.6" transform="rotate(-10 96.2 333.0)" fill="url(#kfy)"/>
<ellipse cx="71.2" cy="334.7" rx="4.6" ry="7.9" transform="rotate(-3 71.2 334.7)" fill="url(#kpy)"/>
<ellipse cx="76.8" cy="335.0" rx="5.0" ry="7.4" transform="rotate(-6 76.8 335.0)" fill="url(#kfy)"/>
<ellipse cx="106.1" cy="335.5" rx="4.4" ry="7.9" transform="rotate(2 106.1 335.5)" fill="url(#kfy)"/>
<ellipse cx="103.0" cy="340.3" rx="4.7" ry="8.0" transform="rotate(-7 103.0 340.3)" fill="url(#kpy)"/>
<ellipse cx="75.0" cy="341.6" rx="5.2" ry="7.0" transform="rotate(26 75.0 341.6)" fill="url(#kfy)"/>
<ellipse cx="92.7" cy="341.9" rx="4.4" ry="7.7" transform="rotate(-3 92.7 341.9)" fill="url(#kpy)"/>
<ellipse cx="66.4" cy="342.5" rx="4.8" ry="7.9" transform="rotate(-19 66.4 342.5)" fill="url(#kpy)"/>
<ellipse cx="54.5" cy="343.4" rx="4.5" ry="7.5" transform="rotate(13 54.5 343.4)" fill="url(#kfy)"/>
<ellipse cx="83.4" cy="345.4" rx="4.4" ry="6.5" transform="rotate(9 83.4 345.4)" fill="url(#kfy)"/>
</g>
<path d="M56.0,297.4 C54.6,327.7 54.0,324.0 54.0,336.0 Q54.0,356.0 86.0,356.0 L79.0,356.0 Q111.0,356.0 111.0,336.0 C111.0,324.0 110.4,327.7 109.0,297.4 Z" fill="none" stroke="#e4e4e4" stroke-width="1.3" opacity="0.55"/>
<path d="M56.0,297.4 C54.6,327.7 54.0,324.0 54.0,336.0 Q54.0,356.0 86.0,356.0 L79.0,356.0 Q111.0,356.0 111.0,336.0 C111.0,324.0 110.4,327.7 109.0,297.4 Z" fill="none" stroke="#3a3e3a" stroke-width="1.0" opacity="0.6" transform="translate(0.9,0.3)"/>
<rect x="54.0" y="348.0" width="57.0" height="9.0" fill="#48484a" opacity="0.9"/>
<rect x="108.0" y="299.0" width="12.0" height="12.0" fill="#c8ccd0" opacity="0.85"/>
</g></g>
<g clip-path="url(#c51)"><g filter="url(#bl)">
<rect x="110.0" y="299.4" width="63.5" height="62.0" fill="#1c2838" opacity="1"/>
<rect x="168.0" y="299.0" width="6.0" height="62.0" fill="#203040" opacity="1"/>
<path d="M108.0,355.5 L174.5,355.5 L174.5,362.4 L108.0,362.4 Z" fill="#2a2a2a"/>
<path d="M120.0,297.4 C118.6,328.2 118.0,325.0 118.0,337.0 Q118.0,357.0 150.0,357.0 L137.0,357.0 Q169.0,357.0 169.0,337.0 C169.0,325.0 168.4,328.2 167.0,297.4 Z" fill="#96a0a4"/>
<clipPath id="fl51"><path d="M120.0,297.4 C118.6,328.2 118.0,325.0 118.0,337.0 Q118.0,357.0 150.0,357.0 L137.0,357.0 Q169.0,357.0 169.0,337.0 C169.0,325.0 168.4,328.2 167.0,297.4 Z"/></clipPath>
<g clip-path="url(#fl51)">
<rect x="125.0" y="300.0" width="35.0" height="20.0" fill="#a8b0b2" opacity="0.6"/>
<rect x="118.0" y="347.0" width="51.0" height="11.0" fill="#8a8680" opacity="1"/>
<rect x="130.5" y="299.4" width="3.1" height="31.3" fill="#ffffff" opacity="0.1"/>
<rect x="144.6" y="299.4" width="1.9" height="50.3" fill="#202020" opacity="0.08"/>
<rect x="127.1" y="299.4" width="3.1" height="45.3" fill="#202020" opacity="0.08"/>
<rect x="161.5" y="299.4" width="4.4" height="45.1" fill="#202020" opacity="0.08"/>
<polygon points="120.0,338.0 125.0,331.0 132.0,328.0 140.0,329.0 148.0,334.0 155.0,325.0 162.0,323.0 166.0,330.0 168.0,340.0 160.0,348.0 150.0,353.0 135.0,357.0 122.0,357.0 118.0,350.0" fill="#a88060" opacity="0.55" stroke="none" stroke-width="0"/>
<ellipse cx="156.0" cy="324.5" rx="4.3" ry="7.1" transform="rotate(5 156.0 324.5)" fill="url(#ko)"/>
<ellipse cx="154.5" cy="323.8" rx="2.0" ry="6.0" transform="rotate(5 156.0 324.5)" fill="#fbf6ee" opacity="0.75"/>
<ellipse cx="163.7" cy="324.8" rx="4.6" ry="6.1" transform="rotate(-3 163.7 324.8)" fill="url(#ko)"/>
<ellipse cx="159.4" cy="329.4" rx="4.0" ry="7.4" transform="rotate(-6 159.4 329.4)" fill="url(#kw)"/>
<ellipse cx="160.8" cy="328.7" rx="1.8" ry="6.3" transform="rotate(-6 159.4 329.4)" fill="#fbf6ee" opacity="0.75"/>
<ellipse cx="144.3" cy="329.8" rx="4.9" ry="6.5" transform="rotate(8 144.3 329.8)" fill="url(#ko)"/>
<ellipse cx="122.9" cy="330.9" rx="4.2" ry="6.5" transform="rotate(4 122.9 330.9)" fill="url(#ko)"/>
<ellipse cx="135.0" cy="331.5" rx="4.2" ry="7.5" transform="rotate(8 135.0 331.5)" fill="url(#kw)"/>
<ellipse cx="136.5" cy="330.8" rx="1.9" ry="6.3" transform="rotate(8 135.0 331.5)" fill="#fbf6ee" opacity="0.75"/>
<ellipse cx="149.8" cy="332.5" rx="4.0" ry="7.1" transform="rotate(-12 149.8 332.5)" fill="url(#ko)"/>
<ellipse cx="129.0" cy="340.2" rx="4.0" ry="6.3" transform="rotate(-15 129.0 340.2)" fill="url(#kpe)"/>
<ellipse cx="127.6" cy="339.5" rx="1.8" ry="5.4" transform="rotate(-15 129.0 340.2)" fill="#fbf6ee" opacity="0.75"/>
<ellipse cx="163.5" cy="340.5" rx="4.1" ry="7.3" transform="rotate(18 163.5 340.5)" fill="url(#ko)"/>
<ellipse cx="164.9" cy="339.8" rx="1.9" ry="6.2" transform="rotate(18 163.5 340.5)" fill="#fbf6ee" opacity="0.75"/>
<ellipse cx="120.8" cy="341.1" rx="4.3" ry="7.4" transform="rotate(21 120.8 341.1)" fill="url(#kpe)"/>
<ellipse cx="122.3" cy="340.4" rx="1.9" ry="6.3" transform="rotate(21 120.8 341.1)" fill="#fbf6ee" opacity="0.75"/>
<ellipse cx="157.2" cy="342.5" rx="4.4" ry="6.2" transform="rotate(-19 157.2 342.5)" fill="url(#ko)"/>
<ellipse cx="158.7" cy="341.9" rx="2.0" ry="5.2" transform="rotate(-19 157.2 342.5)" fill="#fbf6ee" opacity="0.75"/>
<ellipse cx="147.9" cy="342.6" rx="4.9" ry="6.3" transform="rotate(16 147.9 342.6)" fill="url(#kpe)"/>
<ellipse cx="137.4" cy="342.7" rx="4.2" ry="6.3" transform="rotate(-17 137.4 342.7)" fill="url(#ko)"/>
<ellipse cx="135.9" cy="342.0" rx="1.9" ry="5.3" transform="rotate(-17 137.4 342.7)" fill="#fbf6ee" opacity="0.75"/>
<ellipse cx="134.6" cy="348.8" rx="4.3" ry="6.0" transform="rotate(-28 134.6 348.8)" fill="url(#kw)"/>
<ellipse cx="136.1" cy="348.2" rx="2.0" ry="5.1" transform="rotate(-28 134.6 348.8)" fill="#fbf6ee" opacity="0.75"/>
<ellipse cx="126.8" cy="350.4" rx="4.8" ry="6.4" transform="rotate(-0 126.8 350.4)" fill="url(#ko)"/>
<ellipse cx="128.5" cy="349.8" rx="2.1" ry="5.5" transform="rotate(-0 126.8 350.4)" fill="#fbf6ee" opacity="0.75"/>
</g>
<path d="M120.0,297.4 C118.6,328.2 118.0,325.0 118.0,337.0 Q118.0,357.0 150.0,357.0 L137.0,357.0 Q169.0,357.0 169.0,337.0 C169.0,325.0 168.4,328.2 167.0,297.4 Z" fill="none" stroke="#e4e4e4" stroke-width="1.3" opacity="0.55"/>
<path d="M120.0,297.4 C118.6,328.2 118.0,325.0 118.0,337.0 Q118.0,357.0 150.0,357.0 L137.0,357.0 Q169.0,357.0 169.0,337.0 C169.0,325.0 168.4,328.2 167.0,297.4 Z" fill="none" stroke="#3a3e3a" stroke-width="1.0" opacity="0.6" transform="translate(0.9,0.3)"/>
</g></g>
<g clip-path="url(#c52)"><g filter="url(#bl)">
<rect x="172.5" y="299.4" width="60.1" height="62.0" fill="#2a5060" opacity="1"/>
<path d="M170.5,355.5 L233.6,355.5 L233.6,362.4 L170.5,362.4 Z" fill="#404848"/>
<path d="M178.0,297.4 C176.6,328.2 176.0,325.0 176.0,337.0 Q176.0,357.0 208.0,357.0 L200.0,357.0 Q232.0,357.0 232.0,337.0 C232.0,325.0 231.4,328.2 230.0,297.4 Z" fill="#558494"/>
<clipPath id="fl52"><path d="M178.0,297.4 C176.6,328.2 176.0,325.0 176.0,337.0 Q176.0,357.0 208.0,357.0 L200.0,357.0 Q232.0,357.0 232.0,337.0 C232.0,325.0 231.4,328.2 230.0,297.4 Z"/></clipPath>
<g clip-path="url(#fl52)">
<rect x="190.0" y="305.0" width="30.0" height="25.0" fill="#74a0aa" opacity="0.6"/>
<rect x="176.0" y="350.0" width="56.0" height="8.0" fill="#505a5a" opacity="1"/>
<rect x="223.6" y="299.4" width="2.5" height="41.1" fill="#ffffff" opacity="0.1"/>
<rect x="180.9" y="299.4" width="1.7" height="31.0" fill="#202020" opacity="0.08"/>
<rect x="214.5" y="299.4" width="3.1" height="51.5" fill="#202020" opacity="0.08"/>
<rect x="211.0" y="299.4" width="3.8" height="33.8" fill="#ffffff" opacity="0.1"/>
<polygon points="180.0,345.0 186.0,337.0 194.0,335.0 200.0,333.0 206.0,332.0 212.0,325.0 218.0,323.0 224.0,327.0 228.0,335.0 231.0,350.0 222.0,360.0 190.0,361.0 180.0,355.0" fill="#b08050" opacity="0.55" stroke="none" stroke-width="0"/>
<ellipse cx="218.1" cy="322.4" rx="4.0" ry="6.2" transform="rotate(13 218.1 322.4)" fill="url(#kw)"/>
<ellipse cx="219.5" cy="321.7" rx="1.8" ry="5.3" transform="rotate(13 218.1 322.4)" fill="#fbf6ee" opacity="0.75"/>
<ellipse cx="223.8" cy="329.3" rx="4.1" ry="7.2" transform="rotate(22 223.8 329.3)" fill="url(#ko)"/>
<ellipse cx="222.3" cy="328.6" rx="1.9" ry="6.1" transform="rotate(22 223.8 329.3)" fill="#fbf6ee" opacity="0.75"/>
<ellipse cx="202.3" cy="331.9" rx="4.7" ry="6.1" transform="rotate(-7 202.3 331.9)" fill="url(#ko)"/>
<ellipse cx="200.7" cy="331.3" rx="2.1" ry="5.2" transform="rotate(-7 202.3 331.9)" fill="#fbf6ee" opacity="0.75"/>
<ellipse cx="215.1" cy="333.1" rx="4.6" ry="6.8" transform="rotate(9 215.1 333.1)" fill="url(#ko)"/>
<ellipse cx="213.5" cy="332.4" rx="2.0" ry="5.8" transform="rotate(9 215.1 333.1)" fill="#fbf6ee" opacity="0.75"/>
<ellipse cx="194.8" cy="334.4" rx="4.7" ry="6.5" transform="rotate(-13 194.8 334.4)" fill="url(#ko)"/>
<ellipse cx="196.4" cy="333.7" rx="2.1" ry="5.5" transform="rotate(-13 194.8 334.4)" fill="#fbf6ee" opacity="0.75"/>
<ellipse cx="216.1" cy="339.5" rx="5.0" ry="7.5" transform="rotate(4 216.1 339.5)" fill="url(#ko)"/>
<ellipse cx="197.9" cy="339.9" rx="4.7" ry="6.8" transform="rotate(-6 197.9 339.9)" fill="url(#kpe)"/>
<ellipse cx="199.5" cy="339.2" rx="2.1" ry="5.8" transform="rotate(-6 197.9 339.9)" fill="#fbf6ee" opacity="0.75"/>
<ellipse cx="191.9" cy="341.4" rx="4.4" ry="7.4" transform="rotate(7 191.9 341.4)" fill="url(#ko)"/>
<ellipse cx="193.5" cy="340.6" rx="2.0" ry="6.3" transform="rotate(7 191.9 341.4)" fill="#fbf6ee" opacity="0.75"/>
<ellipse cx="208.6" cy="341.7" rx="5.0" ry="7.0" transform="rotate(8 208.6 341.7)" fill="url(#kpe)"/>
<ellipse cx="210.3" cy="341.0" rx="2.2" ry="6.0" transform="rotate(8 208.6 341.7)" fill="#fbf6ee" opacity="0.75"/>
<ellipse cx="223.9" cy="342.0" rx="4.7" ry="7.0" transform="rotate(24 223.9 342.0)" fill="url(#kpe)"/>
<ellipse cx="222.3" cy="341.3" rx="2.1" ry="6.0" transform="rotate(24 223.9 342.0)" fill="#fbf6ee" opacity="0.75"/>
<ellipse cx="182.2" cy="342.8" rx="4.8" ry="6.6" transform="rotate(22 182.2 342.8)" fill="url(#kw)"/>
<ellipse cx="180.5" cy="342.1" rx="2.2" ry="5.6" transform="rotate(22 182.2 342.8)" fill="#fbf6ee" opacity="0.75"/>
<ellipse cx="185.2" cy="349.3" rx="4.7" ry="6.4" transform="rotate(0 185.2 349.3)" fill="url(#kpe)"/>
<ellipse cx="202.0" cy="351.1" rx="4.3" ry="6.5" transform="rotate(6 202.0 351.1)" fill="url(#kpe)"/>
<ellipse cx="200.5" cy="350.5" rx="1.9" ry="5.5" transform="rotate(6 202.0 351.1)" fill="#fbf6ee" opacity="0.75"/>
<ellipse cx="214.0" cy="352.0" rx="4.7" ry="7.1" transform="rotate(3 214.0 352.0)" fill="url(#ko)"/>
<ellipse cx="212.4" cy="351.3" rx="2.1" ry="6.0" transform="rotate(3 214.0 352.0)" fill="#fbf6ee" opacity="0.75"/>
<ellipse cx="194.5" cy="353.7" rx="4.3" ry="6.7" transform="rotate(9 194.5 353.7)" fill="url(#ko)"/>
<ellipse cx="196.0" cy="353.0" rx="1.9" ry="5.7" transform="rotate(9 194.5 353.7)" fill="#fbf6ee" opacity="0.75"/>
<ellipse cx="221.2" cy="353.9" rx="4.1" ry="6.4" transform="rotate(-1 221.2 353.9)" fill="url(#kpe)"/>
<ellipse cx="222.6" cy="353.3" rx="1.8" ry="5.4" transform="rotate(-1 221.2 353.9)" fill="#fbf6ee" opacity="0.75"/>
</g>
<path d="M178.0,297.4 C176.6,328.2 176.0,325.0 176.0,337.0 Q176.0,357.0 208.0,357.0 L200.0,357.0 Q232.0,357.0 232.0,337.0 C232.0,325.0 231.4,328.2 230.0,297.4 Z" fill="none" stroke="#e4e4e4" stroke-width="1.3" opacity="0.55"/>
<path d="M178.0,297.4 C176.6,328.2 176.0,325.0 176.0,337.0 Q176.0,357.0 208.0,357.0 L200.0,357.0 Q232.0,357.0 232.0,337.0 C232.0,325.0 231.4,328.2 230.0,297.4 Z" fill="none" stroke="#3a3e3a" stroke-width="1.0" opacity="0.6" transform="translate(0.9,0.3)"/>
</g></g>
<g clip-path="url(#c60)"><g filter="url(#bl2)">
<rect x="52.4" y="361.2" width="58.6" height="56.7" fill="#404040" opacity="1"/>
<rect x="52.0" y="361.0" width="3.0" height="56.0" fill="#a08870" opacity="1"/>
<path d="M50.4,414.5 L112.0,414.5 L112.0,418.9 L50.4,418.9 Z" fill="#303030"/>
<path d="M55.0,359.2 C53.6,388.6 53.0,396.8 53.0,404.0 Q53.0,416.0 72.2,416.0 L93.8,416.0 Q113.0,416.0 113.0,404.0 C113.0,396.8 112.4,388.6 111.0,359.2 Z" fill="#9a9896"/>
<clipPath id="fl60"><path d="M55.0,359.2 C53.6,388.6 53.0,396.8 53.0,404.0 Q53.0,416.0 72.2,416.0 L93.8,416.0 Q113.0,416.0 113.0,404.0 C113.0,396.8 112.4,388.6 111.0,359.2 Z"/></clipPath>
<g clip-path="url(#fl60)">
<rect x="60.0" y="361.0" width="7.0" height="40.0" fill="#e0e0e0" opacity="0.75"/>
<rect x="85.8" y="361.2" width="4.0" height="37.8" fill="#ffffff" opacity="0.1"/>
<rect x="57.3" y="361.2" width="1.6" height="39.5" fill="#202020" opacity="0.08"/>
<rect x="81.3" y="361.2" width="3.8" height="42.8" fill="#202020" opacity="0.08"/>
<rect x="96.8" y="361.2" width="4.4" height="48.2" fill="#ffffff" opacity="0.1"/>
<polygon points="54.0,400.0 60.0,390.0 70.0,387.0 78.0,385.0 84.0,383.0 90.0,385.0 96.0,384.0 104.0,389.0 110.0,395.0 114.0,424.0 52.0,424.0" fill="#b8b8a0" opacity="0.55" stroke="none" stroke-width="0"/>
<ellipse cx="91.9" cy="381.3" rx="5.3" ry="8.0" transform="rotate(26 91.9 381.3)" fill="url(#kgr)"/>
<ellipse cx="71.8" cy="383.6" rx="4.5" ry="6.9" transform="rotate(-1 71.8 383.6)" fill="url(#kgr)"/>
<ellipse cx="84.9" cy="384.5" rx="5.2" ry="7.5" transform="rotate(27 84.9 384.5)" fill="url(#kgr)"/>
<ellipse cx="86.7" cy="390.0" rx="5.3" ry="7.9" transform="rotate(12 86.7 390.0)" fill="url(#kgr)"/>
<ellipse cx="76.2" cy="393.2" rx="4.4" ry="7.1" transform="rotate(-23 76.2 393.2)" fill="url(#kpg)"/>
<ellipse cx="97.2" cy="393.4" rx="5.2" ry="7.9" transform="rotate(-22 97.2 393.4)" fill="url(#kgr)"/>
<ellipse cx="108.4" cy="394.8" rx="4.7" ry="7.8" transform="rotate(-3 108.4 394.8)" fill="url(#kpc)"/>
<ellipse cx="59.4" cy="395.5" rx="4.9" ry="7.3" transform="rotate(-13 59.4 395.5)" fill="url(#kgr)"/>
<ellipse cx="68.6" cy="396.0" rx="4.6" ry="7.6" transform="rotate(-13 68.6 396.0)" fill="url(#kgr)"/>
<ellipse cx="66.9" cy="400.6" rx="4.7" ry="8.1" transform="rotate(-0 66.9 400.6)" fill="url(#kpg)"/>
<ellipse cx="92.1" cy="401.6" rx="4.8" ry="6.7" transform="rotate(-11 92.1 401.6)" fill="url(#kgr)"/>
<ellipse cx="81.2" cy="401.6" rx="5.1" ry="6.9" transform="rotate(12 81.2 401.6)" fill="url(#kgr)"/>
<ellipse cx="104.1" cy="404.8" rx="4.7" ry="8.0" transform="rotate(-16 104.1 404.8)" fill="url(#kgr)"/>
<ellipse cx="56.6" cy="405.2" rx="4.5" ry="6.6" transform="rotate(-21 56.6 405.2)" fill="url(#kpg)"/>
<ellipse cx="75.2" cy="406.2" rx="5.2" ry="7.4" transform="rotate(15 75.2 406.2)" fill="url(#kpc)"/>
<ellipse cx="76.5" cy="412.0" rx="4.4" ry="7.5" transform="rotate(-11 76.5 412.0)" fill="url(#kgr)"/>
<ellipse cx="97.4" cy="412.3" rx="4.4" ry="7.8" transform="rotate(19 97.4 412.3)" fill="url(#kpg)"/>
<ellipse cx="66.9" cy="412.8" rx="4.9" ry="8.0" transform="rotate(22 66.9 412.8)" fill="url(#kgr)"/>
<ellipse cx="58.8" cy="414.0" rx="4.5" ry="7.9" transform="rotate(-13 58.8 414.0)" fill="url(#kpc)"/>
<ellipse cx="108.2" cy="414.9" rx="4.8" ry="7.6" transform="rotate(20 108.2 414.9)" fill="url(#kpc)"/>
<ellipse cx="87.5" cy="415.1" rx="4.6" ry="7.3" transform="rotate(-7 87.5 415.1)" fill="url(#kpc)"/>
</g>
<path d="M55.0,359.2 C53.6,388.6 53.0,396.8 53.0,404.0 Q53.0,416.0 72.2,416.0 L93.8,416.0 Q113.0,416.0 113.0,404.0 C113.0,396.8 112.4,388.6 111.0,359.2 Z" fill="none" stroke="#e4e4e4" stroke-width="1.3" opacity="0.55"/>
<path d="M55.0,359.2 C53.6,388.6 53.0,396.8 53.0,404.0 Q53.0,416.0 72.2,416.0 L93.8,416.0 Q113.0,416.0 113.0,404.0 C113.0,396.8 112.4,388.6 111.0,359.2 Z" fill="none" stroke="#3a3e3a" stroke-width="1.0" opacity="0.6" transform="translate(0.9,0.3)"/>
<path d="M86,416 C100,413 108,406 112,396" fill="none" stroke="#d89030" stroke-width="2" opacity="1"/>
</g></g>
<g clip-path="url(#c61)"><g filter="url(#bl)">
<rect x="110.0" y="361.2" width="63.5" height="56.7" fill="#484848" opacity="1"/>
<path d="M108.0,413.5 L174.5,413.5 L174.5,418.9 L108.0,418.9 Z" fill="#302a28"/>
<path d="M123.0,359.2 C121.6,388.1 121.0,383.0 121.0,395.0 Q121.0,415.0 153.0,415.0 L140.0,415.0 Q172.0,415.0 172.0,395.0 C172.0,383.0 171.4,388.1 170.0,359.2 Z" fill="#807c78"/>
<clipPath id="fl61"><path d="M123.0,359.2 C121.6,388.1 121.0,383.0 121.0,395.0 Q121.0,415.0 153.0,415.0 L140.0,415.0 Q172.0,415.0 172.0,395.0 C172.0,383.0 171.4,388.1 170.0,359.2 Z"/></clipPath>
<g clip-path="url(#fl61)">
<rect x="131.0" y="361.0" width="3.5" height="30.0" fill="#e8e8e8" opacity="0.8"/>
<rect x="139.8" y="361.2" width="2.4" height="28.5" fill="#ffffff" opacity="0.1"/>
<rect x="163.9" y="361.2" width="3.7" height="44.5" fill="#ffffff" opacity="0.1"/>
<rect x="144.7" y="361.2" width="1.7" height="32.1" fill="#202020" opacity="0.08"/>
<rect x="160.6" y="361.2" width="3.8" height="34.6" fill="#ffffff" opacity="0.1"/>
<polygon points="123.0,399.0 130.0,391.0 140.0,385.0 148.0,387.0 156.0,385.0 164.0,387.0 170.0,397.0 173.0,424.0 120.0,424.0" fill="#a07050" opacity="0.55" stroke="none" stroke-width="0"/>
<ellipse cx="138.0" cy="386.2" rx="4.5" ry="6.1" transform="rotate(8 138.0 386.2)" fill="url(#ko)"/>
<ellipse cx="158.0" cy="386.3" rx="3.9" ry="6.2" transform="rotate(-10 158.0 386.3)" fill="url(#kw)"/>
<ellipse cx="156.6" cy="385.6" rx="1.8" ry="5.2" transform="rotate(-10 158.0 386.3)" fill="#fbf6ee" opacity="0.75"/>
<ellipse cx="133.1" cy="392.0" rx="4.3" ry="6.4" transform="rotate(-6 133.1 392.0)" fill="url(#ko)"/>
<ellipse cx="153.4" cy="392.6" rx="4.2" ry="6.7" transform="rotate(-3 153.4 392.6)" fill="url(#kpe)"/>
<ellipse cx="154.9" cy="391.9" rx="1.9" ry="5.7" transform="rotate(-3 153.4 392.6)" fill="#fbf6ee" opacity="0.75"/>
<ellipse cx="143.6" cy="392.7" rx="4.0" ry="5.8" transform="rotate(2 143.6 392.7)" fill="url(#kw)"/>
<ellipse cx="158.1" cy="394.0" rx="4.5" ry="6.5" transform="rotate(-17 158.1 394.0)" fill="url(#ko)"/>
<ellipse cx="159.7" cy="393.3" rx="2.0" ry="5.5" transform="rotate(-17 158.1 394.0)" fill="#fbf6ee" opacity="0.75"/>
<ellipse cx="167.3" cy="395.2" rx="4.3" ry="6.3" transform="rotate(-3 167.3 395.2)" fill="url(#ko)"/>
<ellipse cx="168.8" cy="394.6" rx="1.9" ry="5.3" transform="rotate(-3 167.3 395.2)" fill="#fbf6ee" opacity="0.75"/>
<ellipse cx="128.1" cy="395.4" rx="4.4" ry="6.2" transform="rotate(-16 128.1 395.4)" fill="url(#ko)"/>
<ellipse cx="129.7" cy="394.7" rx="2.0" ry="5.3" transform="rotate(-16 128.1 395.4)" fill="#fbf6ee" opacity="0.75"/>
<ellipse cx="137.4" cy="399.9" rx="4.2" ry="6.1" transform="rotate(-4 137.4 399.9)" fill="url(#kpe)"/>
<ellipse cx="136.0" cy="399.3" rx="1.9" ry="5.2" transform="rotate(-4 137.4 399.9)" fill="#fbf6ee" opacity="0.75"/>
<ellipse cx="163.0" cy="401.2" rx="4.4" ry="6.0" transform="rotate(19 163.0 401.2)" fill="url(#ko)"/>
<ellipse cx="161.4" cy="400.6" rx="2.0" ry="5.1" transform="rotate(19 163.0 401.2)" fill="#fbf6ee" opacity="0.75"/>
<ellipse cx="145.6" cy="402.0" rx="4.6" ry="7.1" transform="rotate(-25 145.6 402.0)" fill="url(#kw)"/>
<ellipse cx="131.8" cy="402.5" rx="4.4" ry="7.2" transform="rotate(11 131.8 402.5)" fill="url(#kpe)"/>
<ellipse cx="153.4" cy="405.3" rx="3.8" ry="6.9" transform="rotate(12 153.4 405.3)" fill="url(#ko)"/>
<ellipse cx="152.1" cy="404.6" rx="1.7" ry="5.8" transform="rotate(12 153.4 405.3)" fill="#fbf6ee" opacity="0.75"/>
<ellipse cx="151.6" cy="409.7" rx="4.5" ry="5.9" transform="rotate(-3 151.6 409.7)" fill="url(#ko)"/>
<ellipse cx="128.7" cy="411.4" rx="4.4" ry="7.0" transform="rotate(25 128.7 411.4)" fill="url(#kpe)"/>
<ellipse cx="167.2" cy="412.0" rx="4.4" ry="6.4" transform="rotate(-22 167.2 412.0)" fill="url(#kpe)"/>
<ellipse cx="168.8" cy="411.4" rx="2.0" ry="5.4" transform="rotate(-22 167.2 412.0)" fill="#fbf6ee" opacity="0.75"/>
<ellipse cx="141.1" cy="412.2" rx="4.3" ry="6.9" transform="rotate(27 141.1 412.2)" fill="url(#kpe)"/>
<ellipse cx="161.0" cy="412.3" rx="3.8" ry="6.2" transform="rotate(10 161.0 412.3)" fill="url(#ko)"/>
<ellipse cx="162.4" cy="411.7" rx="1.7" ry="5.2" transform="rotate(10 161.0 412.3)" fill="#fbf6ee" opacity="0.75"/>
<ellipse cx="134.8" cy="412.7" rx="4.4" ry="7.0" transform="rotate(-15 134.8 412.7)" fill="url(#kpe)"/>
<ellipse cx="133.3" cy="412.0" rx="2.0" ry="6.0" transform="rotate(-15 134.8 412.7)" fill="#fbf6ee" opacity="0.75"/>
</g>
<path d="M123.0,359.2 C121.6,388.1 121.0,383.0 121.0,395.0 Q121.0,415.0 153.0,415.0 L140.0,415.0 Q172.0,415.0 172.0,395.0 C172.0,383.0 171.4,388.1 170.0,359.2 Z" fill="none" stroke="#e4e4e4" stroke-width="1.3" opacity="0.55"/>
<path d="M123.0,359.2 C121.6,388.1 121.0,383.0 121.0,395.0 Q121.0,415.0 153.0,415.0 L140.0,415.0 Q172.0,415.0 172.0,395.0 C172.0,383.0 171.4,388.1 170.0,359.2 Z" fill="none" stroke="#3a3e3a" stroke-width="1.0" opacity="0.6" transform="translate(0.9,0.3)"/>
</g></g>
<g clip-path="url(#c62)"><g filter="url(#bl)">
<rect x="172.5" y="361.2" width="60.1" height="56.7" fill="#3c3c3c" opacity="1"/>
<path d="M170.5,408.5 L233.6,408.5 L233.6,418.9 L170.5,418.9 Z" fill="#2a2420"/>
<path d="M179.0,359.2 C177.6,385.6 177.0,378.0 177.0,390.0 Q177.0,410.0 209.0,410.0 L198.0,410.0 Q230.0,410.0 230.0,390.0 C230.0,378.0 229.4,385.6 228.0,359.2 Z" fill="#787878"/>
<clipPath id="fl62"><path d="M179.0,359.2 C177.6,385.6 177.0,378.0 177.0,390.0 Q177.0,410.0 209.0,410.0 L198.0,410.0 Q230.0,410.0 230.0,390.0 C230.0,378.0 229.4,385.6 228.0,359.2 Z"/></clipPath>
<g clip-path="url(#fl62)">
<rect x="190.0" y="361.0" width="3.0" height="28.0" fill="#e0e0e0" opacity="0.8"/>
<rect x="218.9" y="361.2" width="3.4" height="38.5" fill="#ffffff" opacity="0.1"/>
<rect x="187.9" y="361.2" width="3.9" height="35.0" fill="#ffffff" opacity="0.1"/>
<rect x="203.8" y="361.2" width="2.5" height="40.0" fill="#202020" opacity="0.08"/>
<rect x="201.0" y="361.2" width="3.2" height="37.8" fill="#ffffff" opacity="0.1"/>
<polygon points="178.0,385.0 184.0,383.0 192.0,387.0 198.0,390.0 206.0,387.0 214.0,385.0 222.0,387.0 228.0,393.0 232.0,424.0 176.0,424.0" fill="#a87040" opacity="0.55" stroke="none" stroke-width="0"/>
<ellipse cx="185.6" cy="380.6" rx="4.1" ry="6.6" transform="rotate(-13 185.6 380.6)" fill="url(#kw)"/>
<ellipse cx="184.2" cy="379.9" rx="1.8" ry="5.6" transform="rotate(-13 185.6 380.6)" fill="#fbf6ee" opacity="0.75"/>
<ellipse cx="213.6" cy="381.2" rx="4.4" ry="6.6" transform="rotate(1 213.6 381.2)" fill="url(#kpe)"/>
<ellipse cx="212.1" cy="380.5" rx="2.0" ry="5.6" transform="rotate(1 213.6 381.2)" fill="#fbf6ee" opacity="0.75"/>
<ellipse cx="180.8" cy="382.0" rx="4.6" ry="7.1" transform="rotate(-23 180.8 382.0)" fill="url(#ko)"/>
<ellipse cx="179.2" cy="381.3" rx="2.0" ry="6.0" transform="rotate(-23 180.8 382.0)" fill="#fbf6ee" opacity="0.75"/>
<ellipse cx="218.0" cy="383.0" rx="4.4" ry="6.3" transform="rotate(6 218.0 383.0)" fill="url(#ko)"/>
<ellipse cx="219.6" cy="382.4" rx="2.0" ry="5.4" transform="rotate(6 218.0 383.0)" fill="#fbf6ee" opacity="0.75"/>
<ellipse cx="184.8" cy="389.0" rx="4.5" ry="5.9" transform="rotate(20 184.8 389.0)" fill="url(#ko)"/>
<ellipse cx="186.4" cy="388.4" rx="2.0" ry="5.0" transform="rotate(20 184.8 389.0)" fill="#fbf6ee" opacity="0.75"/>
<ellipse cx="192.4" cy="390.3" rx="3.9" ry="5.9" transform="rotate(-4 192.4 390.3)" fill="url(#kpe)"/>
<ellipse cx="222.2" cy="391.2" rx="4.4" ry="6.5" transform="rotate(6 222.2 391.2)" fill="url(#ko)"/>
<ellipse cx="220.7" cy="390.6" rx="2.0" ry="5.5" transform="rotate(6 222.2 391.2)" fill="#fbf6ee" opacity="0.75"/>
<ellipse cx="205.2" cy="391.6" rx="4.8" ry="6.8" transform="rotate(2 205.2 391.6)" fill="url(#kw)"/>
<ellipse cx="206.9" cy="390.9" rx="2.2" ry="5.8" transform="rotate(2 205.2 391.6)" fill="#fbf6ee" opacity="0.75"/>
<ellipse cx="215.4" cy="393.0" rx="3.8" ry="6.2" transform="rotate(12 215.4 393.0)" fill="url(#kpe)"/>
<ellipse cx="199.3" cy="393.7" rx="4.2" ry="6.2" transform="rotate(3 199.3 393.7)" fill="url(#ko)"/>
<ellipse cx="200.8" cy="393.0" rx="1.9" ry="5.2" transform="rotate(3 199.3 393.7)" fill="#fbf6ee" opacity="0.75"/>
<ellipse cx="189.1" cy="398.3" rx="4.3" ry="5.8" transform="rotate(7 189.1 398.3)" fill="url(#kpe)"/>
<ellipse cx="190.6" cy="397.7" rx="1.9" ry="4.9" transform="rotate(7 189.1 398.3)" fill="#fbf6ee" opacity="0.75"/>
<ellipse cx="227.3" cy="398.5" rx="4.3" ry="7.2" transform="rotate(-24 227.3 398.5)" fill="url(#ko)"/>
<ellipse cx="228.8" cy="397.8" rx="2.0" ry="6.1" transform="rotate(-24 227.3 398.5)" fill="#fbf6ee" opacity="0.75"/>
<ellipse cx="213.6" cy="399.5" rx="4.7" ry="5.9" transform="rotate(-15 213.6 399.5)" fill="url(#kw)"/>
<ellipse cx="212.0" cy="398.9" rx="2.1" ry="5.0" transform="rotate(-15 213.6 399.5)" fill="#fbf6ee" opacity="0.75"/>
<ellipse cx="205.1" cy="400.0" rx="4.5" ry="6.1" transform="rotate(-13 205.1 400.0)" fill="url(#ko)"/>
<ellipse cx="206.7" cy="399.3" rx="2.0" ry="5.1" transform="rotate(-13 205.1 400.0)" fill="#fbf6ee" opacity="0.75"/>
<ellipse cx="197.2" cy="400.1" rx="4.3" ry="6.1" transform="rotate(22 197.2 400.1)" fill="url(#kpe)"/>
<ellipse cx="198.7" cy="399.5" rx="2.0" ry="5.2" transform="rotate(22 197.2 400.1)" fill="#fbf6ee" opacity="0.75"/>
<ellipse cx="177.3" cy="400.4" rx="3.8" ry="6.6" transform="rotate(-27 177.3 400.4)" fill="url(#ko)"/>
<ellipse cx="176.0" cy="399.7" rx="1.7" ry="5.6" transform="rotate(-27 177.3 400.4)" fill="#fbf6ee" opacity="0.75"/>
<ellipse cx="222.2" cy="402.1" rx="4.2" ry="6.7" transform="rotate(9 222.2 402.1)" fill="url(#kw)"/>
<ellipse cx="220.7" cy="401.4" rx="1.9" ry="5.7" transform="rotate(9 222.2 402.1)" fill="#fbf6ee" opacity="0.75"/>
<ellipse cx="226.3" cy="407.4" rx="4.8" ry="6.2" transform="rotate(-14 226.3 407.4)" fill="url(#kpe)"/>
<ellipse cx="228.0" cy="406.7" rx="2.1" ry="5.3" transform="rotate(-14 226.3 407.4)" fill="#fbf6ee" opacity="0.75"/>
<ellipse cx="216.2" cy="407.8" rx="4.0" ry="6.2" transform="rotate(-13 216.2 407.8)" fill="url(#ko)"/>
<ellipse cx="214.8" cy="407.2" rx="1.8" ry="5.2" transform="rotate(-13 216.2 407.8)" fill="#fbf6ee" opacity="0.75"/>
<ellipse cx="209.5" cy="410.3" rx="3.8" ry="7.1" transform="rotate(18 209.5 410.3)" fill="url(#ko)"/>
<ellipse cx="210.9" cy="409.6" rx="1.7" ry="6.0" transform="rotate(18 209.5 410.3)" fill="#fbf6ee" opacity="0.75"/>
<ellipse cx="199.1" cy="411.5" rx="4.0" ry="6.6" transform="rotate(8 199.1 411.5)" fill="url(#ko)"/>
<ellipse cx="192.3" cy="412.2" rx="4.4" ry="6.4" transform="rotate(-1 192.3 412.2)" fill="url(#ko)"/>
<ellipse cx="190.8" cy="411.6" rx="2.0" ry="5.4" transform="rotate(-1 192.3 412.2)" fill="#fbf6ee" opacity="0.75"/>
<ellipse cx="184.3" cy="412.4" rx="4.0" ry="6.9" transform="rotate(-24 184.3 412.4)" fill="url(#kw)"/>
<ellipse cx="182.9" cy="411.7" rx="1.8" ry="5.9" transform="rotate(-24 184.3 412.4)" fill="#fbf6ee" opacity="0.75"/>
<ellipse cx="188.0" cy="417.0" rx="3.9" ry="6.5" transform="rotate(-18 188.0 417.0)" fill="url(#kw)"/>
<ellipse cx="186.6" cy="416.4" rx="1.7" ry="5.5" transform="rotate(-18 188.0 417.0)" fill="#fbf6ee" opacity="0.75"/>
<ellipse cx="205.2" cy="417.6" rx="4.6" ry="6.7" transform="rotate(-8 205.2 417.6)" fill="url(#ko)"/>
<ellipse cx="203.5" cy="416.9" rx="2.1" ry="5.7" transform="rotate(-8 205.2 417.6)" fill="#fbf6ee" opacity="0.75"/>
<ellipse cx="213.1" cy="418.3" rx="4.2" ry="6.0" transform="rotate(-13 213.1 418.3)" fill="url(#ko)"/>
<ellipse cx="176.2" cy="418.9" rx="4.6" ry="6.9" transform="rotate(-8 176.2 418.9)" fill="url(#ko)"/>
<ellipse cx="177.8" cy="418.2" rx="2.1" ry="5.8" transform="rotate(-8 176.2 418.9)" fill="#fbf6ee" opacity="0.75"/>
<ellipse cx="195.3" cy="419.2" rx="4.8" ry="6.6" transform="rotate(-25 195.3 419.2)" fill="url(#ko)"/>
<ellipse cx="193.6" cy="418.5" rx="2.2" ry="5.6" transform="rotate(-25 195.3 419.2)" fill="#fbf6ee" opacity="0.75"/>
<ellipse cx="217.7" cy="419.3" rx="3.8" ry="7.1" transform="rotate(15 217.7 419.3)" fill="url(#ko)"/>
<ellipse cx="216.3" cy="418.6" rx="1.7" ry="6.1" transform="rotate(15 217.7 419.3)" fill="#fbf6ee" opacity="0.75"/>
<ellipse cx="227.1" cy="419.7" rx="3.9" ry="7.1" transform="rotate(-24 227.1 419.7)" fill="url(#kw)"/>
</g>
<path d="M179.0,359.2 C177.6,385.6 177.0,378.0 177.0,390.0 Q177.0,410.0 209.0,410.0 L198.0,410.0 Q230.0,410.0 230.0,390.0 C230.0,378.0 229.4,385.6 228.0,359.2 Z" fill="none" stroke="#e4e4e4" stroke-width="1.3" opacity="0.55"/>
<path d="M179.0,359.2 C177.6,385.6 177.0,378.0 177.0,390.0 Q177.0,410.0 209.0,410.0 L198.0,410.0 Q230.0,410.0 230.0,390.0 C230.0,378.0 229.4,385.6 228.0,359.2 Z" fill="none" stroke="#3a3e3a" stroke-width="1.0" opacity="0.6" transform="translate(0.9,0.3)"/>
</g></g>
<text transform="translate(30.60,21.70) scale(0.92,1.0)" font-family="Liberation Serif" font-size="18.3" font-weight="normal" text-anchor="start" fill="#000" >A</text>
<text transform="translate(48.90,51.50)" font-family="Liberation Serif" font-size="14.0" font-weight="normal" text-anchor="end" fill="#000" >1d</text>
<text transform="translate(48.90,108.00)" font-family="Liberation Serif" font-size="14.0" font-weight="normal" text-anchor="end" fill="#000" >2d</text>
<text transform="translate(48.90,164.20)" font-family="Liberation Serif" font-size="14.0" font-weight="normal" text-anchor="end" fill="#000" >3d</text>
<text transform="translate(48.90,219.70)" font-family="Liberation Serif" font-size="14.0" font-weight="normal" text-anchor="end" fill="#000" >4d</text>
<text transform="translate(48.90,277.00)" font-family="Liberation Serif" font-size="14.0" font-weight="normal" text-anchor="end" fill="#000" >5d</text>
<text transform="translate(48.90,333.80)" font-family="Liberation Serif" font-size="14.0" font-weight="normal" text-anchor="end" fill="#000" >6d</text>
<text transform="translate(48.90,391.50)" font-family="Liberation Serif" font-size="14.0" font-weight="normal" text-anchor="end" fill="#000" >7d</text>
<line x1="25.50" y1="43.00" x2="25.50" y2="393.00" stroke="#000" stroke-width="1.4" />
<text transform="translate(16.00,221.00) rotate(-90)" font-family="Liberation Serif" font-size="12.6" font-weight="normal" text-anchor="start" fill="#000" textLength="75" lengthAdjust="spacingAndGlyphs">Processing time</text>
<text transform="translate(52.80,434.60)" font-family="Liberation Serif" font-size="14.0" font-weight="normal" text-anchor="start" fill="#000" textLength="47.0" lengthAdjust="spacingAndGlyphs">0μg/mL</text>
<text transform="translate(112.40,434.60)" font-family="Liberation Serif" font-size="14.0" font-weight="normal" text-anchor="start" fill="#000" textLength="58.5" lengthAdjust="spacingAndGlyphs">100μg/mL</text>
<text transform="translate(179.00,434.60)" font-family="Liberation Serif" font-size="14.0" font-weight="normal" text-anchor="start" fill="#000" textLength="60.0" lengthAdjust="spacingAndGlyphs">200μg/mL</text>
<line x1="51.80" y1="443.40" x2="227.80" y2="443.40" stroke="#000" stroke-width="1.4" />
<text transform="translate(103.50,460.20)" font-family="Liberation Serif" font-size="16.5" font-weight="normal" text-anchor="start" fill="#000" textLength="68.5" lengthAdjust="spacingAndGlyphs">J-15-SMA</text>
<text transform="translate(252.00,19.60) scale(0.83,1.0)" font-family="Liberation Serif" font-size="19.2" font-weight="normal" text-anchor="start" fill="#000" >B</text>
<line x1="300.40" y1="22.00" x2="300.40" y2="175.00" stroke="#000" stroke-width="1.4" />
<line x1="299.70" y1="174.40" x2="481.50" y2="174.40" stroke="#000" stroke-width="1.4" />
<line x1="295.00" y1="174.30" x2="300.40" y2="174.30" stroke="#000" stroke-width="1.3" />
<text transform="translate(294.00,179.00) scale(0.86,1.0)" font-family="Liberation Serif" font-size="13.8" font-weight="normal" text-anchor="end" fill="#000" >0</text>
<line x1="295.00" y1="143.98" x2="300.40" y2="143.98" stroke="#000" stroke-width="1.3" />
<text transform="translate(294.00,148.68) scale(0.86,1.0)" font-family="Liberation Serif" font-size="13.8" font-weight="normal" text-anchor="end" fill="#000" >20</text>
<line x1="295.00" y1="113.66" x2="300.40" y2="113.66" stroke="#000" stroke-width="1.3" />
<text transform="translate(294.00,118.36) scale(0.86,1.0)" font-family="Liberation Serif" font-size="13.8" font-weight="normal" text-anchor="end" fill="#000" >40</text>
<line x1="295.00" y1="83.34" x2="300.40" y2="83.34" stroke="#000" stroke-width="1.3" />
<text transform="translate(294.00,88.04) scale(0.86,1.0)" font-family="Liberation Serif" font-size="13.8" font-weight="normal" text-anchor="end" fill="#000" >60</text>
<line x1="295.00" y1="53.02" x2="300.40" y2="53.02" stroke="#000" stroke-width="1.3" />
<text transform="translate(294.00,57.72) scale(0.86,1.0)" font-family="Liberation Serif" font-size="13.8" font-weight="normal" text-anchor="end" fill="#000" >80</text>
<line x1="295.00" y1="22.70" x2="300.40" y2="22.70" stroke="#000" stroke-width="1.3" />
<text transform="translate(294.00,27.40) scale(0.86,1.0)" font-family="Liberation Serif" font-size="13.8" font-weight="normal" text-anchor="end" fill="#000" >100</text>
<text transform="translate(299.90,193.90) scale(0.97,1.0)" font-family="Liberation Serif" font-size="13.2" font-weight="normal" text-anchor="middle" fill="#000" >0d</text>
<line x1="323.67" y1="174.40" x2="323.67" y2="179.50" stroke="#000" stroke-width="1.3" />
<text transform="translate(323.67,193.90) scale(0.97,1.0)" font-family="Liberation Serif" font-size="13.2" font-weight="normal" text-anchor="middle" fill="#000" >1d</text>
<line x1="347.44" y1="174.40" x2="347.44" y2="179.50" stroke="#000" stroke-width="1.3" />
<text transform="translate(347.44,193.90) scale(0.97,1.0)" font-family="Liberation Serif" font-size="13.2" font-weight="normal" text-anchor="middle" fill="#000" >2d</text>
<line x1="371.21" y1="174.40" x2="371.21" y2="179.50" stroke="#000" stroke-width="1.3" />
<text transform="translate(371.21,193.90) scale(0.97,1.0)" font-family="Liberation Serif" font-size="13.2" font-weight="normal" text-anchor="middle" fill="#000" >3d</text>
<line x1="394.98" y1="174.40" x2="394.98" y2="179.50" stroke="#000" stroke-width="1.3" />
<text transform="translate(394.98,193.90) scale(0.97,1.0)" font-family="Liberation Serif" font-size="13.2" font-weight="normal" text-anchor="middle" fill="#000" >4d</text>
<line x1="418.75" y1="174.40" x2="418.75" y2="179.50" stroke="#000" stroke-width="1.3" />
<text transform="translate(418.75,193.90) scale(0.97,1.0)" font-family="Liberation Serif" font-size="13.2" font-weight="normal" text-anchor="middle" fill="#000" >5d</text>
<line x1="442.52" y1="174.40" x2="442.52" y2="179.50" stroke="#000" stroke-width="1.3" />
<text transform="translate(442.52,193.90) scale(0.97,1.0)" font-family="Liberation Serif" font-size="13.2" font-weight="normal" text-anchor="middle" fill="#000" >6d</text>
<line x1="466.29" y1="174.40" x2="466.29" y2="179.50" stroke="#000" stroke-width="1.3" />
<text transform="translate(466.29,193.90) scale(0.97,1.0)" font-family="Liberation Serif" font-size="13.2" font-weight="normal" text-anchor="middle" fill="#000" >7d</text>
<text transform="translate(338.60,204.80)" font-family="Liberation Serif" font-size="11.3" font-weight="bold" text-anchor="start" fill="#000" textLength="92.5" lengthAdjust="spacing">Processing time</text>
<text transform="translate(273.60,160.40) rotate(-90)" font-family="Liberation Serif" font-size="14.5" font-weight="normal" text-anchor="start" fill="#000" textLength="128.5" lengthAdjust="spacingAndGlyphs">Plaque coverage/%</text>
<polyline points="299.90,174.30 323.67,174.30 347.44,174.30 371.21,172.78 394.98,159.14 418.75,156.11 442.52,143.98 466.29,106.08" fill="none" stroke="#17c217" stroke-width="1.4"/>
<line x1="394.98" y1="164.45" x2="394.98" y2="153.83" stroke="#17c217" stroke-width="1.1" />
<line x1="391.78" y1="164.45" x2="398.18" y2="164.45" stroke="#17c217" stroke-width="1.1" />
<line x1="391.78" y1="153.83" x2="398.18" y2="153.83" stroke="#17c217" stroke-width="1.1" />
<line x1="418.75" y1="160.66" x2="418.75" y2="151.56" stroke="#17c217" stroke-width="1.1" />
<line x1="415.55" y1="160.66" x2="421.95" y2="160.66" stroke="#17c217" stroke-width="1.1" />
<line x1="415.55" y1="151.56" x2="421.95" y2="151.56" stroke="#17c217" stroke-width="1.1" />
<line x1="442.52" y1="151.56" x2="442.52" y2="136.40" stroke="#17c217" stroke-width="1.1" />
<line x1="439.32" y1="151.56" x2="445.72" y2="151.56" stroke="#17c217" stroke-width="1.1" />
<line x1="439.32" y1="136.40" x2="445.72" y2="136.40" stroke="#17c217" stroke-width="1.1" />
<line x1="466.29" y1="113.66" x2="466.29" y2="98.50" stroke="#17c217" stroke-width="1.1" />
<line x1="463.09" y1="113.66" x2="469.49" y2="113.66" stroke="#17c217" stroke-width="1.1" />
<line x1="463.09" y1="98.50" x2="469.49" y2="98.50" stroke="#17c217" stroke-width="1.1" />
<circle cx="299.90" cy="174.30" r="2.9" fill="#17c217"/>
<circle cx="323.67" cy="174.30" r="2.9" fill="#17c217"/>
<circle cx="347.44" cy="174.30" r="2.9" fill="#17c217"/>
<circle cx="371.21" cy="172.78" r="2.9" fill="#17c217"/>
<circle cx="394.98" cy="159.14" r="2.9" fill="#17c217"/>
<circle cx="418.75" cy="156.11" r="2.9" fill="#17c217"/>
<circle cx="442.52" cy="143.98" r="2.9" fill="#17c217"/>
<circle cx="466.29" cy="106.08" r="2.9" fill="#17c217"/>
<polyline points="299.90,174.30 323.67,174.30 347.44,166.72 371.21,153.08 394.98,136.40 418.75,75.76 442.52,60.60 466.29,58.33" fill="none" stroke="#f8a23e" stroke-width="1.4"/>
<line x1="347.44" y1="169.75" x2="347.44" y2="163.69" stroke="#f8a23e" stroke-width="1.1" />
<line x1="344.24" y1="169.75" x2="350.64" y2="169.75" stroke="#f8a23e" stroke-width="1.1" />
<line x1="344.24" y1="163.69" x2="350.64" y2="163.69" stroke="#f8a23e" stroke-width="1.1" />
<line x1="371.21" y1="159.14" x2="371.21" y2="147.01" stroke="#f8a23e" stroke-width="1.1" />
<line x1="368.01" y1="159.14" x2="374.41" y2="159.14" stroke="#f8a23e" stroke-width="1.1" />
<line x1="368.01" y1="147.01" x2="374.41" y2="147.01" stroke="#f8a23e" stroke-width="1.1" />
<line x1="394.98" y1="143.98" x2="394.98" y2="128.82" stroke="#f8a23e" stroke-width="1.1" />
<line x1="391.78" y1="143.98" x2="398.18" y2="143.98" stroke="#f8a23e" stroke-width="1.1" />
<line x1="391.78" y1="128.82" x2="398.18" y2="128.82" stroke="#f8a23e" stroke-width="1.1" />
<line x1="418.75" y1="83.34" x2="418.75" y2="68.18" stroke="#f8a23e" stroke-width="1.1" />
<line x1="415.55" y1="83.34" x2="421.95" y2="83.34" stroke="#f8a23e" stroke-width="1.1" />
<line x1="415.55" y1="68.18" x2="421.95" y2="68.18" stroke="#f8a23e" stroke-width="1.1" />
<line x1="442.52" y1="68.18" x2="442.52" y2="53.02" stroke="#f8a23e" stroke-width="1.1" />
<line x1="439.32" y1="68.18" x2="445.72" y2="68.18" stroke="#f8a23e" stroke-width="1.1" />
<line x1="439.32" y1="53.02" x2="445.72" y2="53.02" stroke="#f8a23e" stroke-width="1.1" />
<line x1="466.29" y1="62.87" x2="466.29" y2="53.78" stroke="#f8a23e" stroke-width="1.1" />
<line x1="463.09" y1="62.87" x2="469.49" y2="62.87" stroke="#f8a23e" stroke-width="1.1" />
<line x1="463.09" y1="53.78" x2="469.49" y2="53.78" stroke="#f8a23e" stroke-width="1.1" />
<circle cx="299.90" cy="174.30" r="2.9" fill="#f8a23e"/>
<circle cx="323.67" cy="174.30" r="2.9" fill="#f8a23e"/>
<circle cx="347.44" cy="166.72" r="2.9" fill="#f8a23e"/>
<circle cx="371.21" cy="153.08" r="2.9" fill="#f8a23e"/>
<circle cx="394.98" cy="136.40" r="2.9" fill="#f8a23e"/>
<circle cx="418.75" cy="75.76" r="2.9" fill="#f8a23e"/>
<circle cx="442.52" cy="60.60" r="2.9" fill="#f8a23e"/>
<circle cx="466.29" cy="58.33" r="2.9" fill="#f8a23e"/>
<polyline points="299.90,174.30 323.67,160.66 347.44,53.02 371.21,26.49 394.98,22.70 418.75,22.70 442.52,22.70 466.29,22.70" fill="none" stroke="#000" stroke-width="1.4"/>
<line x1="347.44" y1="60.60" x2="347.44" y2="45.44" stroke="#000" stroke-width="1.1" />
<line x1="344.24" y1="60.60" x2="350.64" y2="60.60" stroke="#000" stroke-width="1.1" />
<line x1="344.24" y1="45.44" x2="350.64" y2="45.44" stroke="#000" stroke-width="1.1" />
<line x1="371.21" y1="31.04" x2="371.21" y2="21.94" stroke="#000" stroke-width="1.1" />
<line x1="368.01" y1="31.04" x2="374.41" y2="31.04" stroke="#000" stroke-width="1.1" />
<line x1="368.01" y1="21.94" x2="374.41" y2="21.94" stroke="#000" stroke-width="1.1" />
<circle cx="299.90" cy="174.30" r="2.9" fill="#000"/>
<circle cx="323.67" cy="160.66" r="2.9" fill="#000"/>
<circle cx="347.44" cy="53.02" r="2.9" fill="#000"/>
<circle cx="371.21" cy="26.49" r="2.9" fill="#000"/>
<circle cx="394.98" cy="22.70" r="2.9" fill="#000"/>
<circle cx="418.75" cy="22.70" r="2.9" fill="#000"/>
<circle cx="442.52" cy="22.70" r="2.9" fill="#000"/>
<circle cx="466.29" cy="22.70" r="2.9" fill="#000"/>
<line x1="458.30" y1="26.80" x2="458.30" y2="52.50" stroke="#555" stroke-width="1.2" />
<line x1="458.30" y1="67.90" x2="458.30" y2="107.20" stroke="#555" stroke-width="1.2" />
<line x1="473.00" y1="30.30" x2="473.00" y2="99.30" stroke="#555" stroke-width="1.2" />
<text transform="translate(445.00,49.50)" font-family="Liberation Serif" font-size="11.5" font-weight="normal" text-anchor="middle" fill="#555" >***</text>
<text transform="translate(445.00,114.50)" font-family="Liberation Serif" font-size="11.5" font-weight="normal" text-anchor="middle" fill="#555" >***</text>
<text transform="translate(486.00,72.80)" font-family="Liberation Serif" font-size="11.5" font-weight="normal" text-anchor="middle" fill="#555" >***</text>
<line x1="485.20" y1="30.30" x2="497.20" y2="30.30" stroke="#000" stroke-width="1.3" />
<circle cx="491.2" cy="30.3" r="2.2" fill="#000"/>
<text transform="translate(502.50,33.60)" font-family="Liberation Serif" font-size="10.0" font-weight="normal" text-anchor="start" fill="#000" textLength="29.5" lengthAdjust="spacingAndGlyphs">0μg/mL</text>
<line x1="485.20" y1="43.60" x2="497.20" y2="43.60" stroke="#f8a23e" stroke-width="1.3" />
<circle cx="491.2" cy="43.6" r="2.2" fill="#f8a23e"/>
<text transform="translate(502.50,46.90)" font-family="Liberation Serif" font-size="10.0" font-weight="normal" text-anchor="start" fill="#000" textLength="41.3" lengthAdjust="spacingAndGlyphs">100μg/mL</text>
<line x1="485.20" y1="56.60" x2="497.20" y2="56.60" stroke="#17c217" stroke-width="1.3" />
<circle cx="491.2" cy="56.6" r="2.2" fill="#17c217"/>
<text transform="translate(502.50,59.90)" font-family="Liberation Serif" font-size="10.0" font-weight="normal" text-anchor="start" fill="#000" textLength="41.3" lengthAdjust="spacingAndGlyphs">200μg/mL</text>
<text transform="translate(252.00,230.00) scale(0.9,1.0)" font-family="Liberation Serif" font-size="18.8" font-weight="normal" text-anchor="start" fill="#000" >C</text>
<rect x="316.5" y="218.60" width="49.30" height="28.40" fill="#fde3d0"/>
<rect x="365.6" y="218.60" width="49.90" height="28.40" fill="#ffffff"/>
<rect x="415.3" y="218.60" width="50.20" height="28.40" fill="#ffffff"/>
<rect x="316.5" y="246.80" width="49.30" height="28.40" fill="#fccaa2"/>
<rect x="365.6" y="246.80" width="49.90" height="28.40" fill="#ffffff"/>
<rect x="415.3" y="246.80" width="50.20" height="28.40" fill="#ffffff"/>
<rect x="316.5" y="275.00" width="49.30" height="28.40" fill="#fbad78"/>
<rect x="365.6" y="275.00" width="49.90" height="28.40" fill="#fef0e6"/>
<rect x="415.3" y="275.00" width="50.20" height="28.40" fill="#fef0e6"/>
<rect x="316.5" y="303.20" width="49.30" height="28.40" fill="#c8bc60"/>
<rect x="365.6" y="303.20" width="49.90" height="28.40" fill="#fde4d2"/>
<rect x="415.3" y="303.20" width="50.20" height="28.40" fill="#fde8d9"/>
<rect x="316.5" y="331.40" width="49.30" height="28.40" fill="#8cce4c"/>
<rect x="365.6" y="331.40" width="49.90" height="28.40" fill="#fcceaa"/>
<rect x="415.3" y="331.40" width="50.20" height="28.40" fill="#fde4d2"/>
<rect x="316.5" y="359.60" width="49.30" height="28.40" fill="#11d911"/>
<rect x="365.6" y="359.60" width="49.90" height="28.40" fill="#fccca6"/>
<rect x="415.3" y="359.60" width="50.20" height="28.40" fill="#fcd8bc"/>
<rect x="316.5" y="387.80" width="49.30" height="28.40" fill="#11ee11"/>
<rect x="365.6" y="387.80" width="49.90" height="28.40" fill="#fcc196"/>
<rect x="415.3" y="387.80" width="50.20" height="28.40" fill="#fccaa2"/>
<rect x="316.5" y="218.6" width="148.8" height="197.4" fill="none" stroke="#000" stroke-width="1.3"/>
<line x1="310.40" y1="232.70" x2="316.50" y2="232.70" stroke="#000" stroke-width="1.3" />
<text transform="translate(309.00,237.50) scale(0.97,1.0)" font-family="Liberation Serif" font-size="14.0" font-weight="normal" text-anchor="end" fill="#000" >1d</text>
<line x1="310.40" y1="260.90" x2="316.50" y2="260.90" stroke="#000" stroke-width="1.3" />
<text transform="translate(309.00,265.70) scale(0.97,1.0)" font-family="Liberation Serif" font-size="14.0" font-weight="normal" text-anchor="end" fill="#000" >2d</text>
<line x1="310.40" y1="289.10" x2="316.50" y2="289.10" stroke="#000" stroke-width="1.3" />
<text transform="translate(309.00,293.90) scale(0.97,1.0)" font-family="Liberation Serif" font-size="14.0" font-weight="normal" text-anchor="end" fill="#000" >3d</text>
<line x1="310.40" y1="317.30" x2="316.50" y2="317.30" stroke="#000" stroke-width="1.3" />
<text transform="translate(309.00,322.10) scale(0.97,1.0)" font-family="Liberation Serif" font-size="14.0" font-weight="normal" text-anchor="end" fill="#000" >4d</text>
<line x1="310.40" y1="345.50" x2="316.50" y2="345.50" stroke="#000" stroke-width="1.3" />
<text transform="translate(309.00,350.30) scale(0.97,1.0)" font-family="Liberation Serif" font-size="14.0" font-weight="normal" text-anchor="end" fill="#000" >5d</text>
<line x1="310.40" y1="373.70" x2="316.50" y2="373.70" stroke="#000" stroke-width="1.3" />
<text transform="translate(309.00,378.50) scale(0.97,1.0)" font-family="Liberation Serif" font-size="14.0" font-weight="normal" text-anchor="end" fill="#000" >6d</text>
<line x1="310.40" y1="401.90" x2="316.50" y2="401.90" stroke="#000" stroke-width="1.3" />
<text transform="translate(309.00,406.70) scale(0.97,1.0)" font-family="Liberation Serif" font-size="14.0" font-weight="normal" text-anchor="end" fill="#000" >7d</text>
<line x1="286.30" y1="230.20" x2="286.30" y2="407.40" stroke="#000" stroke-width="1.4" />
<text transform="translate(273.80,349.00) rotate(-90)" font-family="Liberation Serif" font-size="12.5" font-weight="normal" text-anchor="start" fill="#000" textLength="67" lengthAdjust="spacingAndGlyphs">Processing time</text>
<line x1="341.05" y1="416.00" x2="341.05" y2="421.50" stroke="#000" stroke-width="1.3" />
<text transform="translate(324.80,436.30)" font-family="Liberation Serif" font-size="13.0" font-weight="normal" text-anchor="start" fill="#000" textLength="34.0" lengthAdjust="spacingAndGlyphs">0μg/mL</text>
<line x1="390.45" y1="416.00" x2="390.45" y2="421.50" stroke="#000" stroke-width="1.3" />
<text transform="translate(371.20,436.30)" font-family="Liberation Serif" font-size="13.0" font-weight="normal" text-anchor="start" fill="#000" textLength="44.0" lengthAdjust="spacingAndGlyphs">100μg/mL</text>
<line x1="440.30" y1="416.00" x2="440.30" y2="421.50" stroke="#000" stroke-width="1.3" />
<text transform="translate(421.90,436.30)" font-family="Liberation Serif" font-size="13.0" font-weight="normal" text-anchor="start" fill="#000" textLength="44.0" lengthAdjust="spacingAndGlyphs">200μg/mL</text>
<line x1="321.70" y1="442.50" x2="466.10" y2="442.50" stroke="#000" stroke-width="1.4" />
<text transform="translate(359.50,461.00)" font-family="Liberation Serif" font-size="16.2" font-weight="normal" text-anchor="start" fill="#000" textLength="68" lengthAdjust="spacingAndGlyphs">J-15-SMA</text>
<defs><linearGradient id="cb" x1="0" y1="1" x2="0" y2="0"><stop offset="0" stop-color="#ffffff"/><stop offset="0.33" stop-color="#fbcaa4"/><stop offset="0.49" stop-color="#f9b07a"/><stop offset="0.645" stop-color="#b8bc60"/><stop offset="0.735" stop-color="#58c444"/><stop offset="0.82" stop-color="#00dc08"/><stop offset="1" stop-color="#00ec00"/></linearGradient></defs>
<rect x="475.2" y="218.4" width="17.5" height="198.5" fill="url(#cb)" stroke="#000" stroke-width="1.3"/>
<text transform="translate(500.00,222.90)" font-family="Liberation Serif" font-size="11.5" font-weight="normal" text-anchor="start" fill="#000" >6</text>
<line x1="475.20" y1="283.70" x2="478.00" y2="283.70" stroke="#000" stroke-width="1.2" />
<line x1="490.00" y1="283.70" x2="492.70" y2="283.70" stroke="#000" stroke-width="1.2" />
<text transform="translate(500.00,287.90)" font-family="Liberation Serif" font-size="11.5" font-weight="normal" text-anchor="start" fill="#000" >4</text>
<line x1="475.20" y1="351.10" x2="478.00" y2="351.10" stroke="#000" stroke-width="1.2" />
<line x1="490.00" y1="351.10" x2="492.70" y2="351.10" stroke="#000" stroke-width="1.2" />
<text transform="translate(500.00,355.30)" font-family="Liberation Serif" font-size="11.5" font-weight="normal" text-anchor="start" fill="#000" >2</text>
<text transform="translate(500.00,418.50)" font-family="Liberation Serif" font-size="11.5" font-weight="normal" text-anchor="start" fill="#000" >0</text>
</svg></body></html>
